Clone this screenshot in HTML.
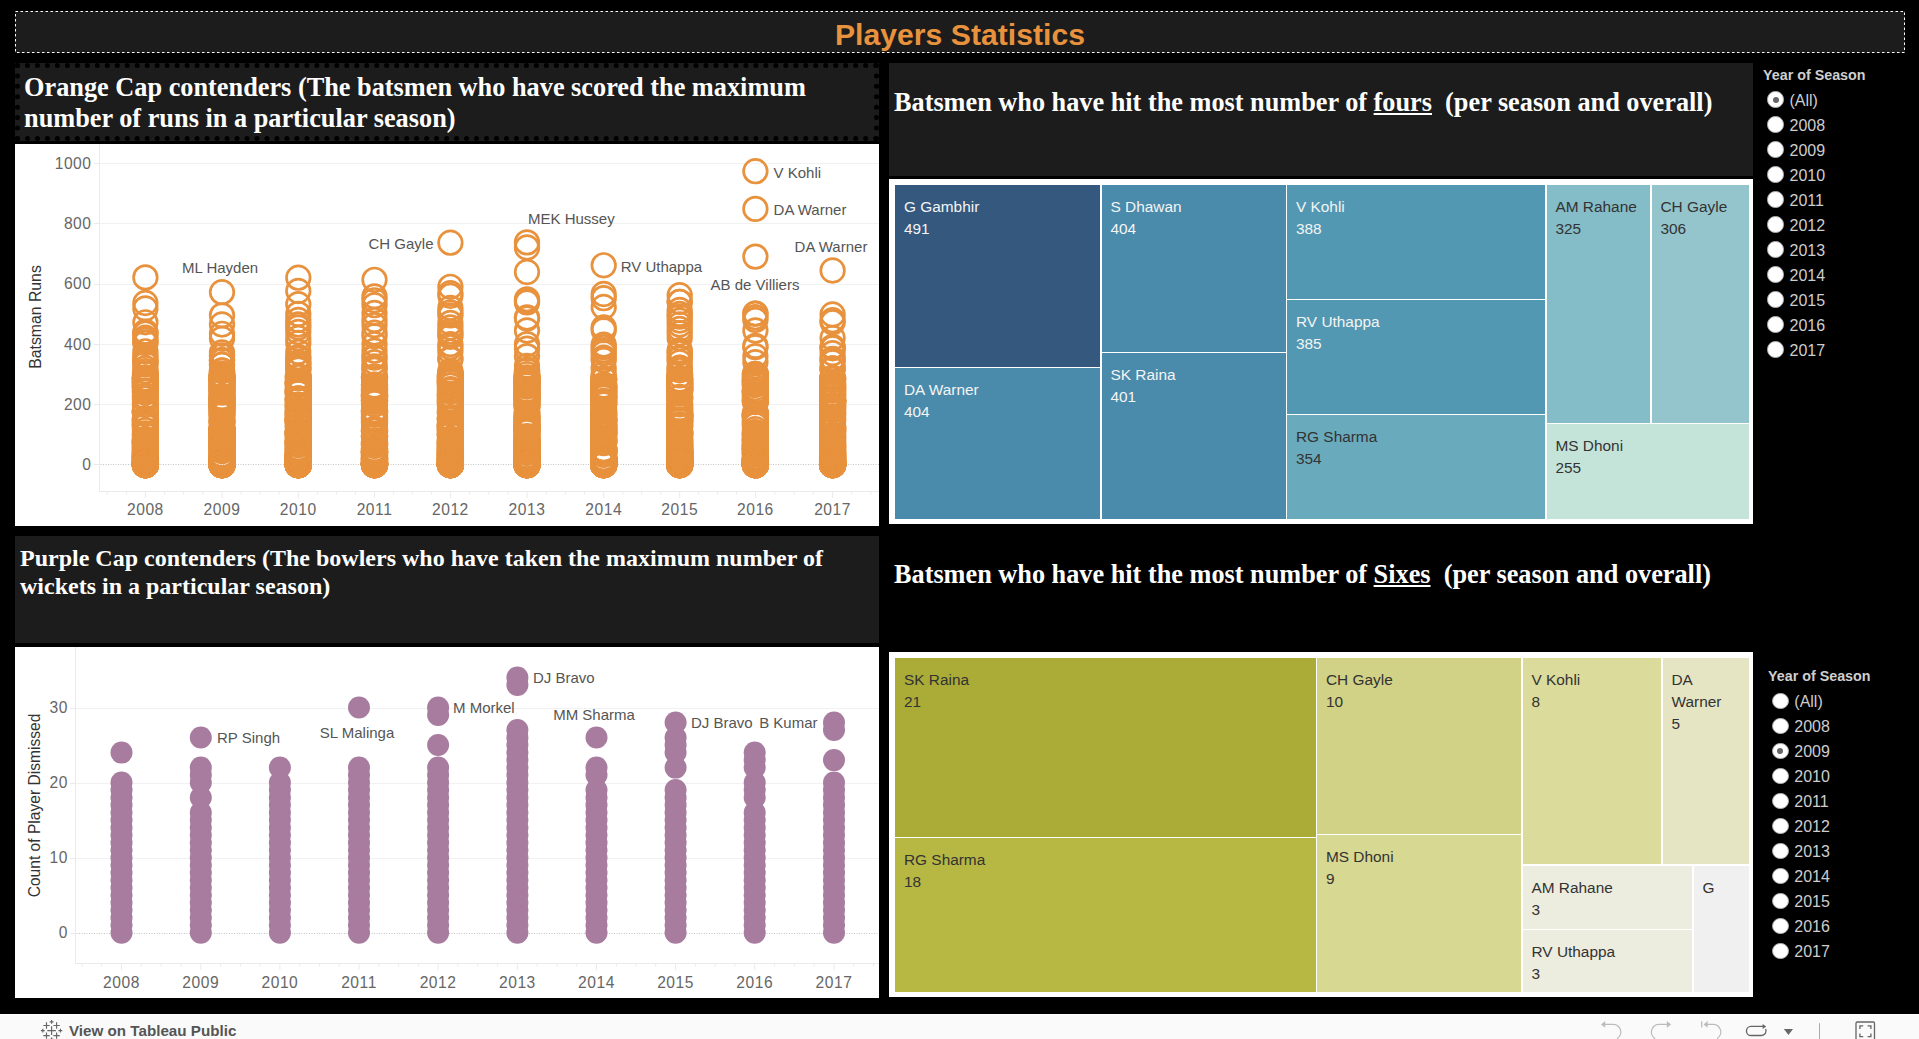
<!DOCTYPE html><html><head><meta charset="utf-8"><title>Players Statistics</title><style>
*{margin:0;padding:0;box-sizing:border-box}
html,body{width:1919px;height:1039px;overflow:hidden;background:#000}
body{position:relative;font-family:'Liberation Sans', sans-serif}
.abs{position:absolute}
.dk{background:#1c1c1c}
.wh{background:#fff}
.ttl{position:absolute;font-family:'Liberation Serif', serif;font-weight:bold;color:#fff;white-space:nowrap}
.tm{position:absolute;font-family:'Liberation Sans', sans-serif;font-size:15.4px;line-height:22px;padding:11px 0 0 9px;overflow:hidden}
.lt{color:#f4f4f4}
.dt{color:#333}
.flt{position:absolute;font-family:'Liberation Sans', sans-serif;color:#cdcdcd}
.flt .h{font-weight:bold;font-size:14.3px;color:#cfcfcf}
.flt .r{position:absolute;left:0;height:25px;font-size:16px;white-space:nowrap}
.flt .c{position:absolute;width:16.4px;height:16.4px;margin:-0.2px 0 0 -0.2px;border-radius:50%;background:#fff;border:1px solid #a8a8a8}
.flt .c.on::after{content:"";position:absolute;left:4.2px;top:4.2px;width:6px;height:6px;border-radius:50%;background:#666}
</style></head><body>
<div class="abs dk" style="left:15px;top:11px;width:1890px;height:42px"></div>
<svg class="abs" style="left:0;top:0" width="1919" height="60"><rect x="15.5" y="11.5" width="1889" height="41" fill="none" stroke="#fff" stroke-width="1" stroke-dasharray="2.5 2.5"/></svg>
<div class="abs" style="left:15px;top:13.5px;width:1890px;height:42px;text-align:center;font-family:'Liberation Sans', sans-serif;font-weight:bold;font-size:30.2px;line-height:42px;color:#e8923e">Players Statistics</div>
<div class="abs dk" style="left:15px;top:63px;width:864px;height:78px;border:5px dotted #000"></div>
<div class="ttl" style="left:24px;top:73px;font-size:26.3px;line-height:30.5px">Orange Cap contenders (The batsmen who have scored the maximum<br>number of runs in a particular season)</div>
<div class="abs wh" style="left:15px;top:144px;width:864px;height:382px"></div>
<svg class="abs" style="left:0;top:0" width="1919" height="1039" viewBox="0 0 1919 1039">
<line x1="99.5" y1="404.5" x2="879" y2="404.5" stroke="#f1f1f1" stroke-width="1"/>
<line x1="94" y1="404.5" x2="99.5" y2="404.5" stroke="#eaeaea" stroke-width="1"/>
<line x1="99.5" y1="344.5" x2="879" y2="344.5" stroke="#f1f1f1" stroke-width="1"/>
<line x1="94" y1="344.5" x2="99.5" y2="344.5" stroke="#eaeaea" stroke-width="1"/>
<line x1="99.5" y1="284.5" x2="879" y2="284.5" stroke="#f1f1f1" stroke-width="1"/>
<line x1="94" y1="284.5" x2="99.5" y2="284.5" stroke="#eaeaea" stroke-width="1"/>
<line x1="99.5" y1="223.5" x2="879" y2="223.5" stroke="#f1f1f1" stroke-width="1"/>
<line x1="94" y1="223.5" x2="99.5" y2="223.5" stroke="#eaeaea" stroke-width="1"/>
<line x1="99.5" y1="163.5" x2="879" y2="163.5" stroke="#f1f1f1" stroke-width="1"/>
<line x1="94" y1="163.5" x2="99.5" y2="163.5" stroke="#eaeaea" stroke-width="1"/>
<line x1="94" y1="464.5" x2="99.5" y2="464.5" stroke="#eaeaea" stroke-width="1"/>
<line x1="99.5" y1="144" x2="99.5" y2="491.5" stroke="#eaeaea" stroke-width="1"/>
<line x1="99.5" y1="491.5" x2="879" y2="491.5" stroke="#eaeaea" stroke-width="1"/>
<line x1="100.5" y1="464.5" x2="879" y2="464.5" stroke="#c4c4c4" stroke-width="1" stroke-dasharray="1 1.5"/>
<line x1="107.3" y1="492" x2="107.3" y2="494.5" stroke="#eaeaea" stroke-width="1"/>
<line x1="126.4" y1="492" x2="126.4" y2="494.5" stroke="#eaeaea" stroke-width="1"/>
<line x1="145.4" y1="492" x2="145.4" y2="498" stroke="#eaeaea" stroke-width="1"/>
<line x1="164.6" y1="492" x2="164.6" y2="494.5" stroke="#eaeaea" stroke-width="1"/>
<line x1="183.7" y1="492" x2="183.7" y2="494.5" stroke="#eaeaea" stroke-width="1"/>
<line x1="202.8" y1="492" x2="202.8" y2="494.5" stroke="#eaeaea" stroke-width="1"/>
<line x1="222.0" y1="492" x2="222.0" y2="498" stroke="#eaeaea" stroke-width="1"/>
<line x1="241.1" y1="492" x2="241.1" y2="494.5" stroke="#eaeaea" stroke-width="1"/>
<line x1="260.1" y1="492" x2="260.1" y2="494.5" stroke="#eaeaea" stroke-width="1"/>
<line x1="279.2" y1="492" x2="279.2" y2="494.5" stroke="#eaeaea" stroke-width="1"/>
<line x1="298.3" y1="492" x2="298.3" y2="498" stroke="#eaeaea" stroke-width="1"/>
<line x1="317.4" y1="492" x2="317.4" y2="494.5" stroke="#eaeaea" stroke-width="1"/>
<line x1="336.4" y1="492" x2="336.4" y2="494.5" stroke="#eaeaea" stroke-width="1"/>
<line x1="355.4" y1="492" x2="355.4" y2="494.5" stroke="#eaeaea" stroke-width="1"/>
<line x1="374.5" y1="492" x2="374.5" y2="498" stroke="#eaeaea" stroke-width="1"/>
<line x1="393.5" y1="492" x2="393.5" y2="494.5" stroke="#eaeaea" stroke-width="1"/>
<line x1="412.4" y1="492" x2="412.4" y2="494.5" stroke="#eaeaea" stroke-width="1"/>
<line x1="431.4" y1="492" x2="431.4" y2="494.5" stroke="#eaeaea" stroke-width="1"/>
<line x1="450.4" y1="492" x2="450.4" y2="498" stroke="#eaeaea" stroke-width="1"/>
<line x1="469.5" y1="492" x2="469.5" y2="494.5" stroke="#eaeaea" stroke-width="1"/>
<line x1="488.7" y1="492" x2="488.7" y2="494.5" stroke="#eaeaea" stroke-width="1"/>
<line x1="507.9" y1="492" x2="507.9" y2="494.5" stroke="#eaeaea" stroke-width="1"/>
<line x1="527.0" y1="492" x2="527.0" y2="498" stroke="#eaeaea" stroke-width="1"/>
<line x1="546.2" y1="492" x2="546.2" y2="494.5" stroke="#eaeaea" stroke-width="1"/>
<line x1="565.4" y1="492" x2="565.4" y2="494.5" stroke="#eaeaea" stroke-width="1"/>
<line x1="584.5" y1="492" x2="584.5" y2="494.5" stroke="#eaeaea" stroke-width="1"/>
<line x1="603.7" y1="492" x2="603.7" y2="498" stroke="#eaeaea" stroke-width="1"/>
<line x1="622.7" y1="492" x2="622.7" y2="494.5" stroke="#eaeaea" stroke-width="1"/>
<line x1="641.7" y1="492" x2="641.7" y2="494.5" stroke="#eaeaea" stroke-width="1"/>
<line x1="660.7" y1="492" x2="660.7" y2="494.5" stroke="#eaeaea" stroke-width="1"/>
<line x1="679.7" y1="492" x2="679.7" y2="498" stroke="#eaeaea" stroke-width="1"/>
<line x1="698.6" y1="492" x2="698.6" y2="494.5" stroke="#eaeaea" stroke-width="1"/>
<line x1="717.5" y1="492" x2="717.5" y2="494.5" stroke="#eaeaea" stroke-width="1"/>
<line x1="736.5" y1="492" x2="736.5" y2="494.5" stroke="#eaeaea" stroke-width="1"/>
<line x1="755.4" y1="492" x2="755.4" y2="498" stroke="#eaeaea" stroke-width="1"/>
<line x1="774.7" y1="492" x2="774.7" y2="494.5" stroke="#eaeaea" stroke-width="1"/>
<line x1="794.0" y1="492" x2="794.0" y2="494.5" stroke="#eaeaea" stroke-width="1"/>
<line x1="813.3" y1="492" x2="813.3" y2="494.5" stroke="#eaeaea" stroke-width="1"/>
<line x1="832.6" y1="492" x2="832.6" y2="498" stroke="#eaeaea" stroke-width="1"/>
<line x1="851.7" y1="492" x2="851.7" y2="494.5" stroke="#eaeaea" stroke-width="1"/>
<line x1="870.7" y1="492" x2="870.7" y2="494.5" stroke="#eaeaea" stroke-width="1"/>
<text x="91.3" y="470.3" text-anchor="end" font-family="'Liberation Sans', sans-serif" font-size="15.6" letter-spacing="0.45" fill="#666">0</text>
<text x="91.3" y="410.0" text-anchor="end" font-family="'Liberation Sans', sans-serif" font-size="15.6" letter-spacing="0.45" fill="#666">200</text>
<text x="91.3" y="349.7" text-anchor="end" font-family="'Liberation Sans', sans-serif" font-size="15.6" letter-spacing="0.45" fill="#666">400</text>
<text x="91.3" y="289.3" text-anchor="end" font-family="'Liberation Sans', sans-serif" font-size="15.6" letter-spacing="0.45" fill="#666">600</text>
<text x="91.3" y="229.0" text-anchor="end" font-family="'Liberation Sans', sans-serif" font-size="15.6" letter-spacing="0.45" fill="#666">800</text>
<text x="91.3" y="168.7" text-anchor="end" font-family="'Liberation Sans', sans-serif" font-size="15.6" letter-spacing="0.45" fill="#666">1000</text>
<text x="145.4" y="514.8" text-anchor="middle" font-family="'Liberation Sans', sans-serif" font-size="15.6" letter-spacing="0.55" fill="#666">2008</text>
<text x="222.0" y="514.8" text-anchor="middle" font-family="'Liberation Sans', sans-serif" font-size="15.6" letter-spacing="0.55" fill="#666">2009</text>
<text x="298.3" y="514.8" text-anchor="middle" font-family="'Liberation Sans', sans-serif" font-size="15.6" letter-spacing="0.55" fill="#666">2010</text>
<text x="374.5" y="514.8" text-anchor="middle" font-family="'Liberation Sans', sans-serif" font-size="15.6" letter-spacing="0.55" fill="#666">2011</text>
<text x="450.4" y="514.8" text-anchor="middle" font-family="'Liberation Sans', sans-serif" font-size="15.6" letter-spacing="0.55" fill="#666">2012</text>
<text x="527.0" y="514.8" text-anchor="middle" font-family="'Liberation Sans', sans-serif" font-size="15.6" letter-spacing="0.55" fill="#666">2013</text>
<text x="603.7" y="514.8" text-anchor="middle" font-family="'Liberation Sans', sans-serif" font-size="15.6" letter-spacing="0.55" fill="#666">2014</text>
<text x="679.7" y="514.8" text-anchor="middle" font-family="'Liberation Sans', sans-serif" font-size="15.6" letter-spacing="0.55" fill="#666">2015</text>
<text x="755.4" y="514.8" text-anchor="middle" font-family="'Liberation Sans', sans-serif" font-size="15.6" letter-spacing="0.55" fill="#666">2016</text>
<text x="832.6" y="514.8" text-anchor="middle" font-family="'Liberation Sans', sans-serif" font-size="15.6" letter-spacing="0.55" fill="#666">2017</text>
<text transform="translate(40.6 317) rotate(-90)" text-anchor="middle" font-family="'Liberation Sans', sans-serif" font-size="15.8" fill="#333">Batsman Runs</text>
<circle cx="145.4" cy="277.4" r="11.8" fill="none" stroke="#e8923e" stroke-width="2.7"/>
<circle cx="145.4" cy="303.0" r="11.8" fill="none" stroke="#e8923e" stroke-width="2.7"/>
<circle cx="145.4" cy="308.5" r="11.8" fill="none" stroke="#e8923e" stroke-width="2.7"/>
<circle cx="145.4" cy="322.3" r="11.8" fill="none" stroke="#e8923e" stroke-width="2.7"/>
<circle cx="145.4" cy="331.7" r="11.8" fill="none" stroke="#e8923e" stroke-width="2.7"/>
<circle cx="145.4" cy="333.2" r="11.8" fill="none" stroke="#e8923e" stroke-width="2.7"/>
<circle cx="145.4" cy="333.5" r="11.8" fill="none" stroke="#e8923e" stroke-width="2.7"/>
<circle cx="145.4" cy="337.7" r="11.8" fill="none" stroke="#e8923e" stroke-width="2.7"/>
<circle cx="145.4" cy="339.8" r="11.8" fill="none" stroke="#e8923e" stroke-width="2.7"/>
<circle cx="145.4" cy="342.3" r="11.8" fill="none" stroke="#e8923e" stroke-width="2.7"/>
<circle cx="145.4" cy="342.9" r="11.8" fill="none" stroke="#e8923e" stroke-width="2.7"/>
<circle cx="145.4" cy="351.3" r="11.8" fill="none" stroke="#e8923e" stroke-width="2.7"/>
<circle cx="145.4" cy="355.2" r="11.8" fill="none" stroke="#e8923e" stroke-width="2.7"/>
<circle cx="145.4" cy="357.9" r="11.8" fill="none" stroke="#e8923e" stroke-width="2.7"/>
<circle cx="145.4" cy="360.0" r="11.8" fill="none" stroke="#e8923e" stroke-width="2.7"/>
<circle cx="145.4" cy="361.9" r="11.8" fill="none" stroke="#e8923e" stroke-width="2.7"/>
<circle cx="145.4" cy="362.2" r="11.8" fill="none" stroke="#e8923e" stroke-width="2.7"/>
<circle cx="145.4" cy="364.0" r="11.8" fill="none" stroke="#e8923e" stroke-width="2.7"/>
<circle cx="145.4" cy="368.2" r="11.8" fill="none" stroke="#e8923e" stroke-width="2.7"/>
<circle cx="145.4" cy="371.2" r="11.8" fill="none" stroke="#e8923e" stroke-width="2.7"/>
<circle cx="145.4" cy="374.2" r="12.3" fill="none" stroke="#e8923e" stroke-width="2.7"/>
<circle cx="145.4" cy="378.1" r="12.3" fill="none" stroke="#e8923e" stroke-width="2.7"/>
<circle cx="145.4" cy="378.1" r="12.3" fill="none" stroke="#e8923e" stroke-width="2.7"/>
<circle cx="145.4" cy="378.4" r="12.3" fill="none" stroke="#e8923e" stroke-width="2.7"/>
<circle cx="145.4" cy="379.3" r="12.3" fill="none" stroke="#e8923e" stroke-width="2.7"/>
<circle cx="145.4" cy="380.3" r="12.3" fill="none" stroke="#e8923e" stroke-width="2.7"/>
<circle cx="145.4" cy="382.1" r="12.3" fill="none" stroke="#e8923e" stroke-width="2.7"/>
<circle cx="145.4" cy="382.4" r="12.3" fill="none" stroke="#e8923e" stroke-width="2.7"/>
<circle cx="145.4" cy="382.7" r="12.3" fill="none" stroke="#e8923e" stroke-width="2.7"/>
<circle cx="145.4" cy="384.8" r="12.3" fill="none" stroke="#e8923e" stroke-width="2.7"/>
<circle cx="145.4" cy="386.3" r="12.3" fill="none" stroke="#e8923e" stroke-width="2.7"/>
<circle cx="145.4" cy="386.6" r="12.3" fill="none" stroke="#e8923e" stroke-width="2.7"/>
<circle cx="145.4" cy="387.8" r="12.3" fill="none" stroke="#e8923e" stroke-width="2.7"/>
<circle cx="145.4" cy="390.8" r="12.3" fill="none" stroke="#e8923e" stroke-width="2.7"/>
<circle cx="145.4" cy="392.0" r="12.3" fill="none" stroke="#e8923e" stroke-width="2.7"/>
<circle cx="145.4" cy="395.9" r="12.3" fill="none" stroke="#e8923e" stroke-width="2.7"/>
<circle cx="145.4" cy="399.0" r="12.3" fill="none" stroke="#e8923e" stroke-width="2.7"/>
<circle cx="145.4" cy="404.4" r="12.3" fill="none" stroke="#e8923e" stroke-width="2.7"/>
<circle cx="145.4" cy="410.4" r="12.3" fill="none" stroke="#e8923e" stroke-width="2.7"/>
<circle cx="145.4" cy="411.6" r="12.3" fill="none" stroke="#e8923e" stroke-width="2.7"/>
<circle cx="145.4" cy="411.9" r="12.3" fill="none" stroke="#e8923e" stroke-width="2.7"/>
<circle cx="145.4" cy="412.5" r="12.3" fill="none" stroke="#e8923e" stroke-width="2.7"/>
<circle cx="145.4" cy="412.8" r="12.3" fill="none" stroke="#e8923e" stroke-width="2.7"/>
<circle cx="145.4" cy="418.6" r="12.3" fill="none" stroke="#e8923e" stroke-width="2.7"/>
<circle cx="145.4" cy="419.5" r="12.3" fill="none" stroke="#e8923e" stroke-width="2.7"/>
<circle cx="145.4" cy="420.7" r="12.3" fill="none" stroke="#e8923e" stroke-width="2.7"/>
<circle cx="145.4" cy="421.3" r="12.3" fill="none" stroke="#e8923e" stroke-width="2.7"/>
<circle cx="145.4" cy="423.7" r="12.3" fill="none" stroke="#e8923e" stroke-width="2.7"/>
<circle cx="145.4" cy="424.6" r="12.3" fill="none" stroke="#e8923e" stroke-width="2.7"/>
<circle cx="145.4" cy="425.5" r="12.3" fill="none" stroke="#e8923e" stroke-width="2.7"/>
<circle cx="145.4" cy="426.7" r="12.3" fill="none" stroke="#e8923e" stroke-width="2.7"/>
<circle cx="145.4" cy="430.6" r="12.3" fill="none" stroke="#e8923e" stroke-width="2.7"/>
<circle cx="145.4" cy="433.9" r="12.3" fill="none" stroke="#e8923e" stroke-width="2.7"/>
<circle cx="145.4" cy="435.7" r="12.3" fill="none" stroke="#e8923e" stroke-width="2.7"/>
<circle cx="145.4" cy="439.4" r="12.3" fill="none" stroke="#e8923e" stroke-width="2.7"/>
<circle cx="145.4" cy="440.3" r="12.3" fill="none" stroke="#e8923e" stroke-width="2.7"/>
<circle cx="145.4" cy="441.5" r="12.3" fill="none" stroke="#e8923e" stroke-width="2.7"/>
<circle cx="145.4" cy="441.8" r="12.3" fill="none" stroke="#e8923e" stroke-width="2.7"/>
<circle cx="145.4" cy="441.8" r="12.3" fill="none" stroke="#e8923e" stroke-width="2.7"/>
<circle cx="145.4" cy="443.0" r="12.3" fill="none" stroke="#e8923e" stroke-width="2.7"/>
<circle cx="145.4" cy="443.0" r="12.3" fill="none" stroke="#e8923e" stroke-width="2.7"/>
<circle cx="145.4" cy="444.5" r="12.3" fill="none" stroke="#e8923e" stroke-width="2.7"/>
<circle cx="145.4" cy="445.7" r="12.3" fill="none" stroke="#e8923e" stroke-width="2.7"/>
<circle cx="145.4" cy="447.2" r="12.3" fill="none" stroke="#e8923e" stroke-width="2.7"/>
<circle cx="145.4" cy="447.5" r="12.3" fill="none" stroke="#e8923e" stroke-width="2.7"/>
<circle cx="145.4" cy="449.6" r="12.3" fill="none" stroke="#e8923e" stroke-width="2.7"/>
<circle cx="145.4" cy="449.6" r="12.3" fill="none" stroke="#e8923e" stroke-width="2.7"/>
<circle cx="145.4" cy="452.0" r="12.3" fill="none" stroke="#e8923e" stroke-width="2.7"/>
<circle cx="145.4" cy="452.6" r="12.3" fill="none" stroke="#e8923e" stroke-width="2.7"/>
<circle cx="145.4" cy="453.2" r="12.3" fill="none" stroke="#e8923e" stroke-width="2.7"/>
<circle cx="145.4" cy="453.5" r="12.3" fill="none" stroke="#e8923e" stroke-width="2.7"/>
<circle cx="145.4" cy="453.8" r="12.3" fill="none" stroke="#e8923e" stroke-width="2.7"/>
<circle cx="145.4" cy="455.7" r="12.3" fill="none" stroke="#e8923e" stroke-width="2.7"/>
<circle cx="145.4" cy="456.0" r="12.3" fill="none" stroke="#e8923e" stroke-width="2.7"/>
<circle cx="145.4" cy="456.3" r="12.3" fill="none" stroke="#e8923e" stroke-width="2.7"/>
<circle cx="145.4" cy="456.6" r="12.3" fill="none" stroke="#e8923e" stroke-width="2.7"/>
<circle cx="145.4" cy="456.9" r="12.3" fill="none" stroke="#e8923e" stroke-width="2.7"/>
<circle cx="145.4" cy="457.2" r="12.3" fill="none" stroke="#e8923e" stroke-width="2.7"/>
<circle cx="145.4" cy="457.5" r="12.3" fill="none" stroke="#e8923e" stroke-width="2.7"/>
<circle cx="145.4" cy="458.4" r="12.3" fill="none" stroke="#e8923e" stroke-width="2.7"/>
<circle cx="145.4" cy="459.3" r="12.3" fill="none" stroke="#e8923e" stroke-width="2.7"/>
<circle cx="145.4" cy="459.3" r="12.3" fill="none" stroke="#e8923e" stroke-width="2.7"/>
<circle cx="145.4" cy="459.6" r="12.3" fill="none" stroke="#e8923e" stroke-width="2.7"/>
<circle cx="145.4" cy="459.9" r="12.3" fill="none" stroke="#e8923e" stroke-width="2.7"/>
<circle cx="145.4" cy="461.7" r="12.3" fill="none" stroke="#e8923e" stroke-width="2.7"/>
<circle cx="145.4" cy="461.7" r="12.3" fill="none" stroke="#e8923e" stroke-width="2.7"/>
<circle cx="145.4" cy="462.0" r="12.3" fill="none" stroke="#e8923e" stroke-width="2.7"/>
<circle cx="145.4" cy="462.3" r="12.3" fill="none" stroke="#e8923e" stroke-width="2.7"/>
<circle cx="145.4" cy="462.3" r="12.3" fill="none" stroke="#e8923e" stroke-width="2.7"/>
<circle cx="145.4" cy="462.6" r="12.3" fill="none" stroke="#e8923e" stroke-width="2.7"/>
<circle cx="145.4" cy="462.6" r="12.3" fill="none" stroke="#e8923e" stroke-width="2.7"/>
<circle cx="145.4" cy="462.9" r="12.3" fill="none" stroke="#e8923e" stroke-width="2.7"/>
<circle cx="145.4" cy="463.2" r="12.3" fill="none" stroke="#e8923e" stroke-width="2.7"/>
<circle cx="145.4" cy="463.2" r="12.3" fill="none" stroke="#e8923e" stroke-width="2.7"/>
<circle cx="145.4" cy="463.5" r="12.3" fill="none" stroke="#e8923e" stroke-width="2.7"/>
<circle cx="145.4" cy="463.5" r="12.3" fill="none" stroke="#e8923e" stroke-width="2.7"/>
<circle cx="145.4" cy="463.5" r="12.3" fill="none" stroke="#e8923e" stroke-width="2.7"/>
<circle cx="145.4" cy="463.5" r="12.3" fill="none" stroke="#e8923e" stroke-width="2.7"/>
<circle cx="145.4" cy="463.8" r="12.3" fill="none" stroke="#e8923e" stroke-width="2.7"/>
<circle cx="145.4" cy="464.1" r="12.3" fill="none" stroke="#e8923e" stroke-width="2.7"/>
<circle cx="145.4" cy="464.1" r="12.3" fill="none" stroke="#e8923e" stroke-width="2.7"/>
<circle cx="145.4" cy="464.1" r="12.3" fill="none" stroke="#e8923e" stroke-width="2.7"/>
<circle cx="145.4" cy="464.1" r="12.3" fill="none" stroke="#e8923e" stroke-width="2.7"/>
<circle cx="145.4" cy="464.1" r="12.3" fill="none" stroke="#e8923e" stroke-width="2.7"/>
<circle cx="145.4" cy="464.4" r="12.3" fill="none" stroke="#e8923e" stroke-width="2.7"/>
<circle cx="145.4" cy="464.4" r="12.3" fill="none" stroke="#e8923e" stroke-width="2.7"/>
<circle cx="145.4" cy="464.4" r="12.3" fill="none" stroke="#e8923e" stroke-width="2.7"/>
<circle cx="145.4" cy="464.4" r="12.3" fill="none" stroke="#e8923e" stroke-width="2.7"/>
<circle cx="145.4" cy="464.7" r="12.3" fill="none" stroke="#e8923e" stroke-width="2.7"/>
<circle cx="145.4" cy="464.7" r="12.3" fill="none" stroke="#e8923e" stroke-width="2.7"/>
<circle cx="145.4" cy="464.7" r="12.3" fill="none" stroke="#e8923e" stroke-width="2.7"/>
<circle cx="145.4" cy="464.7" r="12.3" fill="none" stroke="#e8923e" stroke-width="2.7"/>
<circle cx="145.4" cy="464.7" r="12.3" fill="none" stroke="#e8923e" stroke-width="2.7"/>
<circle cx="145.4" cy="464.7" r="12.3" fill="none" stroke="#e8923e" stroke-width="2.7"/>
<circle cx="145.4" cy="464.7" r="12.3" fill="none" stroke="#e8923e" stroke-width="2.7"/>
<circle cx="145.4" cy="464.7" r="12.3" fill="none" stroke="#e8923e" stroke-width="2.7"/>
<circle cx="145.4" cy="464.7" r="12.3" fill="none" stroke="#e8923e" stroke-width="2.7"/>
<circle cx="145.4" cy="464.7" r="12.3" fill="none" stroke="#e8923e" stroke-width="2.7"/>
<circle cx="145.4" cy="464.7" r="12.3" fill="none" stroke="#e8923e" stroke-width="2.7"/>
<circle cx="145.4" cy="464.7" r="12.3" fill="none" stroke="#e8923e" stroke-width="2.7"/>
<circle cx="145.4" cy="464.7" r="12.3" fill="none" stroke="#e8923e" stroke-width="2.7"/>
<circle cx="145.4" cy="464.7" r="12.3" fill="none" stroke="#e8923e" stroke-width="2.7"/>
<circle cx="145.4" cy="464.7" r="12.3" fill="none" stroke="#e8923e" stroke-width="2.7"/>
<circle cx="145.4" cy="464.7" r="12.3" fill="none" stroke="#e8923e" stroke-width="2.7"/>
<circle cx="145.4" cy="464.7" r="12.3" fill="none" stroke="#e8923e" stroke-width="2.7"/>
<circle cx="145.4" cy="464.7" r="12.3" fill="none" stroke="#e8923e" stroke-width="2.7"/>
<circle cx="222.0" cy="292.2" r="11.8" fill="none" stroke="#e8923e" stroke-width="2.7"/>
<circle cx="222.0" cy="315.4" r="11.8" fill="none" stroke="#e8923e" stroke-width="2.7"/>
<circle cx="222.0" cy="324.5" r="11.8" fill="none" stroke="#e8923e" stroke-width="2.7"/>
<circle cx="222.0" cy="333.8" r="11.8" fill="none" stroke="#e8923e" stroke-width="2.7"/>
<circle cx="222.0" cy="338.6" r="11.8" fill="none" stroke="#e8923e" stroke-width="2.7"/>
<circle cx="222.0" cy="352.5" r="11.8" fill="none" stroke="#e8923e" stroke-width="2.7"/>
<circle cx="222.0" cy="355.5" r="11.8" fill="none" stroke="#e8923e" stroke-width="2.7"/>
<circle cx="222.0" cy="355.8" r="11.8" fill="none" stroke="#e8923e" stroke-width="2.7"/>
<circle cx="222.0" cy="360.0" r="11.8" fill="none" stroke="#e8923e" stroke-width="2.7"/>
<circle cx="222.0" cy="360.3" r="11.8" fill="none" stroke="#e8923e" stroke-width="2.7"/>
<circle cx="222.0" cy="360.9" r="11.8" fill="none" stroke="#e8923e" stroke-width="2.7"/>
<circle cx="222.0" cy="364.6" r="11.8" fill="none" stroke="#e8923e" stroke-width="2.7"/>
<circle cx="222.0" cy="364.6" r="11.8" fill="none" stroke="#e8923e" stroke-width="2.7"/>
<circle cx="222.0" cy="370.3" r="11.8" fill="none" stroke="#e8923e" stroke-width="2.7"/>
<circle cx="222.0" cy="370.6" r="11.8" fill="none" stroke="#e8923e" stroke-width="2.7"/>
<circle cx="222.0" cy="374.2" r="12.3" fill="none" stroke="#e8923e" stroke-width="2.7"/>
<circle cx="222.0" cy="377.2" r="12.3" fill="none" stroke="#e8923e" stroke-width="2.7"/>
<circle cx="222.0" cy="377.5" r="12.3" fill="none" stroke="#e8923e" stroke-width="2.7"/>
<circle cx="222.0" cy="378.1" r="12.3" fill="none" stroke="#e8923e" stroke-width="2.7"/>
<circle cx="222.0" cy="379.0" r="12.3" fill="none" stroke="#e8923e" stroke-width="2.7"/>
<circle cx="222.0" cy="380.0" r="12.3" fill="none" stroke="#e8923e" stroke-width="2.7"/>
<circle cx="222.0" cy="380.3" r="12.3" fill="none" stroke="#e8923e" stroke-width="2.7"/>
<circle cx="222.0" cy="382.4" r="12.3" fill="none" stroke="#e8923e" stroke-width="2.7"/>
<circle cx="222.0" cy="384.8" r="12.3" fill="none" stroke="#e8923e" stroke-width="2.7"/>
<circle cx="222.0" cy="386.9" r="12.3" fill="none" stroke="#e8923e" stroke-width="2.7"/>
<circle cx="222.0" cy="386.9" r="12.3" fill="none" stroke="#e8923e" stroke-width="2.7"/>
<circle cx="222.0" cy="389.9" r="12.3" fill="none" stroke="#e8923e" stroke-width="2.7"/>
<circle cx="222.0" cy="390.2" r="12.3" fill="none" stroke="#e8923e" stroke-width="2.7"/>
<circle cx="222.0" cy="392.0" r="12.3" fill="none" stroke="#e8923e" stroke-width="2.7"/>
<circle cx="222.0" cy="396.5" r="12.3" fill="none" stroke="#e8923e" stroke-width="2.7"/>
<circle cx="222.0" cy="397.4" r="12.3" fill="none" stroke="#e8923e" stroke-width="2.7"/>
<circle cx="222.0" cy="397.7" r="12.3" fill="none" stroke="#e8923e" stroke-width="2.7"/>
<circle cx="222.0" cy="399.0" r="12.3" fill="none" stroke="#e8923e" stroke-width="2.7"/>
<circle cx="222.0" cy="401.1" r="12.3" fill="none" stroke="#e8923e" stroke-width="2.7"/>
<circle cx="222.0" cy="401.1" r="12.3" fill="none" stroke="#e8923e" stroke-width="2.7"/>
<circle cx="222.0" cy="402.9" r="12.3" fill="none" stroke="#e8923e" stroke-width="2.7"/>
<circle cx="222.0" cy="404.7" r="12.3" fill="none" stroke="#e8923e" stroke-width="2.7"/>
<circle cx="222.0" cy="405.3" r="12.3" fill="none" stroke="#e8923e" stroke-width="2.7"/>
<circle cx="222.0" cy="407.1" r="12.3" fill="none" stroke="#e8923e" stroke-width="2.7"/>
<circle cx="222.0" cy="408.6" r="12.3" fill="none" stroke="#e8923e" stroke-width="2.7"/>
<circle cx="222.0" cy="410.7" r="12.3" fill="none" stroke="#e8923e" stroke-width="2.7"/>
<circle cx="222.0" cy="413.4" r="12.3" fill="none" stroke="#e8923e" stroke-width="2.7"/>
<circle cx="222.0" cy="415.8" r="12.3" fill="none" stroke="#e8923e" stroke-width="2.7"/>
<circle cx="222.0" cy="421.3" r="12.3" fill="none" stroke="#e8923e" stroke-width="2.7"/>
<circle cx="222.0" cy="421.6" r="12.3" fill="none" stroke="#e8923e" stroke-width="2.7"/>
<circle cx="222.0" cy="427.9" r="12.3" fill="none" stroke="#e8923e" stroke-width="2.7"/>
<circle cx="222.0" cy="429.4" r="12.3" fill="none" stroke="#e8923e" stroke-width="2.7"/>
<circle cx="222.0" cy="429.7" r="12.3" fill="none" stroke="#e8923e" stroke-width="2.7"/>
<circle cx="222.0" cy="429.7" r="12.3" fill="none" stroke="#e8923e" stroke-width="2.7"/>
<circle cx="222.0" cy="430.0" r="12.3" fill="none" stroke="#e8923e" stroke-width="2.7"/>
<circle cx="222.0" cy="430.6" r="12.3" fill="none" stroke="#e8923e" stroke-width="2.7"/>
<circle cx="222.0" cy="431.2" r="12.3" fill="none" stroke="#e8923e" stroke-width="2.7"/>
<circle cx="222.0" cy="432.1" r="12.3" fill="none" stroke="#e8923e" stroke-width="2.7"/>
<circle cx="222.0" cy="434.2" r="12.3" fill="none" stroke="#e8923e" stroke-width="2.7"/>
<circle cx="222.0" cy="434.2" r="12.3" fill="none" stroke="#e8923e" stroke-width="2.7"/>
<circle cx="222.0" cy="434.8" r="12.3" fill="none" stroke="#e8923e" stroke-width="2.7"/>
<circle cx="222.0" cy="435.1" r="12.3" fill="none" stroke="#e8923e" stroke-width="2.7"/>
<circle cx="222.0" cy="436.0" r="12.3" fill="none" stroke="#e8923e" stroke-width="2.7"/>
<circle cx="222.0" cy="436.7" r="12.3" fill="none" stroke="#e8923e" stroke-width="2.7"/>
<circle cx="222.0" cy="437.6" r="12.3" fill="none" stroke="#e8923e" stroke-width="2.7"/>
<circle cx="222.0" cy="440.0" r="12.3" fill="none" stroke="#e8923e" stroke-width="2.7"/>
<circle cx="222.0" cy="442.1" r="12.3" fill="none" stroke="#e8923e" stroke-width="2.7"/>
<circle cx="222.0" cy="442.4" r="12.3" fill="none" stroke="#e8923e" stroke-width="2.7"/>
<circle cx="222.0" cy="443.6" r="12.3" fill="none" stroke="#e8923e" stroke-width="2.7"/>
<circle cx="222.0" cy="444.5" r="12.3" fill="none" stroke="#e8923e" stroke-width="2.7"/>
<circle cx="222.0" cy="444.5" r="12.3" fill="none" stroke="#e8923e" stroke-width="2.7"/>
<circle cx="222.0" cy="445.1" r="12.3" fill="none" stroke="#e8923e" stroke-width="2.7"/>
<circle cx="222.0" cy="445.7" r="12.3" fill="none" stroke="#e8923e" stroke-width="2.7"/>
<circle cx="222.0" cy="445.7" r="12.3" fill="none" stroke="#e8923e" stroke-width="2.7"/>
<circle cx="222.0" cy="446.3" r="12.3" fill="none" stroke="#e8923e" stroke-width="2.7"/>
<circle cx="222.0" cy="447.5" r="12.3" fill="none" stroke="#e8923e" stroke-width="2.7"/>
<circle cx="222.0" cy="447.5" r="12.3" fill="none" stroke="#e8923e" stroke-width="2.7"/>
<circle cx="222.0" cy="447.8" r="12.3" fill="none" stroke="#e8923e" stroke-width="2.7"/>
<circle cx="222.0" cy="448.4" r="12.3" fill="none" stroke="#e8923e" stroke-width="2.7"/>
<circle cx="222.0" cy="448.4" r="12.3" fill="none" stroke="#e8923e" stroke-width="2.7"/>
<circle cx="222.0" cy="449.6" r="12.3" fill="none" stroke="#e8923e" stroke-width="2.7"/>
<circle cx="222.0" cy="450.5" r="12.3" fill="none" stroke="#e8923e" stroke-width="2.7"/>
<circle cx="222.0" cy="454.1" r="12.3" fill="none" stroke="#e8923e" stroke-width="2.7"/>
<circle cx="222.0" cy="455.0" r="12.3" fill="none" stroke="#e8923e" stroke-width="2.7"/>
<circle cx="222.0" cy="455.0" r="12.3" fill="none" stroke="#e8923e" stroke-width="2.7"/>
<circle cx="222.0" cy="457.2" r="12.3" fill="none" stroke="#e8923e" stroke-width="2.7"/>
<circle cx="222.0" cy="457.5" r="12.3" fill="none" stroke="#e8923e" stroke-width="2.7"/>
<circle cx="222.0" cy="458.4" r="12.3" fill="none" stroke="#e8923e" stroke-width="2.7"/>
<circle cx="222.0" cy="458.4" r="12.3" fill="none" stroke="#e8923e" stroke-width="2.7"/>
<circle cx="222.0" cy="459.9" r="12.3" fill="none" stroke="#e8923e" stroke-width="2.7"/>
<circle cx="222.0" cy="459.9" r="12.3" fill="none" stroke="#e8923e" stroke-width="2.7"/>
<circle cx="222.0" cy="460.5" r="12.3" fill="none" stroke="#e8923e" stroke-width="2.7"/>
<circle cx="222.0" cy="460.8" r="12.3" fill="none" stroke="#e8923e" stroke-width="2.7"/>
<circle cx="222.0" cy="461.1" r="12.3" fill="none" stroke="#e8923e" stroke-width="2.7"/>
<circle cx="222.0" cy="462.0" r="12.3" fill="none" stroke="#e8923e" stroke-width="2.7"/>
<circle cx="222.0" cy="462.6" r="12.3" fill="none" stroke="#e8923e" stroke-width="2.7"/>
<circle cx="222.0" cy="462.6" r="12.3" fill="none" stroke="#e8923e" stroke-width="2.7"/>
<circle cx="222.0" cy="462.9" r="12.3" fill="none" stroke="#e8923e" stroke-width="2.7"/>
<circle cx="222.0" cy="463.2" r="12.3" fill="none" stroke="#e8923e" stroke-width="2.7"/>
<circle cx="222.0" cy="463.5" r="12.3" fill="none" stroke="#e8923e" stroke-width="2.7"/>
<circle cx="222.0" cy="463.5" r="12.3" fill="none" stroke="#e8923e" stroke-width="2.7"/>
<circle cx="222.0" cy="463.5" r="12.3" fill="none" stroke="#e8923e" stroke-width="2.7"/>
<circle cx="222.0" cy="463.8" r="12.3" fill="none" stroke="#e8923e" stroke-width="2.7"/>
<circle cx="222.0" cy="463.8" r="12.3" fill="none" stroke="#e8923e" stroke-width="2.7"/>
<circle cx="222.0" cy="463.8" r="12.3" fill="none" stroke="#e8923e" stroke-width="2.7"/>
<circle cx="222.0" cy="464.1" r="12.3" fill="none" stroke="#e8923e" stroke-width="2.7"/>
<circle cx="222.0" cy="464.1" r="12.3" fill="none" stroke="#e8923e" stroke-width="2.7"/>
<circle cx="222.0" cy="464.1" r="12.3" fill="none" stroke="#e8923e" stroke-width="2.7"/>
<circle cx="222.0" cy="464.4" r="12.3" fill="none" stroke="#e8923e" stroke-width="2.7"/>
<circle cx="222.0" cy="464.4" r="12.3" fill="none" stroke="#e8923e" stroke-width="2.7"/>
<circle cx="222.0" cy="464.4" r="12.3" fill="none" stroke="#e8923e" stroke-width="2.7"/>
<circle cx="222.0" cy="464.4" r="12.3" fill="none" stroke="#e8923e" stroke-width="2.7"/>
<circle cx="222.0" cy="464.7" r="12.3" fill="none" stroke="#e8923e" stroke-width="2.7"/>
<circle cx="222.0" cy="464.7" r="12.3" fill="none" stroke="#e8923e" stroke-width="2.7"/>
<circle cx="222.0" cy="464.7" r="12.3" fill="none" stroke="#e8923e" stroke-width="2.7"/>
<circle cx="222.0" cy="464.7" r="12.3" fill="none" stroke="#e8923e" stroke-width="2.7"/>
<circle cx="222.0" cy="464.7" r="12.3" fill="none" stroke="#e8923e" stroke-width="2.7"/>
<circle cx="222.0" cy="464.7" r="12.3" fill="none" stroke="#e8923e" stroke-width="2.7"/>
<circle cx="222.0" cy="464.7" r="12.3" fill="none" stroke="#e8923e" stroke-width="2.7"/>
<circle cx="222.0" cy="464.7" r="12.3" fill="none" stroke="#e8923e" stroke-width="2.7"/>
<circle cx="222.0" cy="464.7" r="12.3" fill="none" stroke="#e8923e" stroke-width="2.7"/>
<circle cx="222.0" cy="464.7" r="12.3" fill="none" stroke="#e8923e" stroke-width="2.7"/>
<circle cx="222.0" cy="464.7" r="12.3" fill="none" stroke="#e8923e" stroke-width="2.7"/>
<circle cx="222.0" cy="464.7" r="12.3" fill="none" stroke="#e8923e" stroke-width="2.7"/>
<circle cx="222.0" cy="464.7" r="12.3" fill="none" stroke="#e8923e" stroke-width="2.7"/>
<circle cx="222.0" cy="464.7" r="12.3" fill="none" stroke="#e8923e" stroke-width="2.7"/>
<circle cx="222.0" cy="464.7" r="12.3" fill="none" stroke="#e8923e" stroke-width="2.7"/>
<circle cx="298.3" cy="277.7" r="11.8" fill="none" stroke="#e8923e" stroke-width="2.7"/>
<circle cx="298.3" cy="291.0" r="11.8" fill="none" stroke="#e8923e" stroke-width="2.7"/>
<circle cx="298.3" cy="304.2" r="11.8" fill="none" stroke="#e8923e" stroke-width="2.7"/>
<circle cx="298.3" cy="313.9" r="11.8" fill="none" stroke="#e8923e" stroke-width="2.7"/>
<circle cx="298.3" cy="319.9" r="11.8" fill="none" stroke="#e8923e" stroke-width="2.7"/>
<circle cx="298.3" cy="324.5" r="11.8" fill="none" stroke="#e8923e" stroke-width="2.7"/>
<circle cx="298.3" cy="327.5" r="11.8" fill="none" stroke="#e8923e" stroke-width="2.7"/>
<circle cx="298.3" cy="332.0" r="11.8" fill="none" stroke="#e8923e" stroke-width="2.7"/>
<circle cx="298.3" cy="338.0" r="11.8" fill="none" stroke="#e8923e" stroke-width="2.7"/>
<circle cx="298.3" cy="342.9" r="11.8" fill="none" stroke="#e8923e" stroke-width="2.7"/>
<circle cx="298.3" cy="351.9" r="11.8" fill="none" stroke="#e8923e" stroke-width="2.7"/>
<circle cx="298.3" cy="357.0" r="11.8" fill="none" stroke="#e8923e" stroke-width="2.7"/>
<circle cx="298.3" cy="358.5" r="11.8" fill="none" stroke="#e8923e" stroke-width="2.7"/>
<circle cx="298.3" cy="362.2" r="11.8" fill="none" stroke="#e8923e" stroke-width="2.7"/>
<circle cx="298.3" cy="363.1" r="11.8" fill="none" stroke="#e8923e" stroke-width="2.7"/>
<circle cx="298.3" cy="365.2" r="11.8" fill="none" stroke="#e8923e" stroke-width="2.7"/>
<circle cx="298.3" cy="367.9" r="11.8" fill="none" stroke="#e8923e" stroke-width="2.7"/>
<circle cx="298.3" cy="369.1" r="11.8" fill="none" stroke="#e8923e" stroke-width="2.7"/>
<circle cx="298.3" cy="369.4" r="11.8" fill="none" stroke="#e8923e" stroke-width="2.7"/>
<circle cx="298.3" cy="376.6" r="12.3" fill="none" stroke="#e8923e" stroke-width="2.7"/>
<circle cx="298.3" cy="377.8" r="12.3" fill="none" stroke="#e8923e" stroke-width="2.7"/>
<circle cx="298.3" cy="382.1" r="12.3" fill="none" stroke="#e8923e" stroke-width="2.7"/>
<circle cx="298.3" cy="382.4" r="12.3" fill="none" stroke="#e8923e" stroke-width="2.7"/>
<circle cx="298.3" cy="383.3" r="12.3" fill="none" stroke="#e8923e" stroke-width="2.7"/>
<circle cx="298.3" cy="384.5" r="12.3" fill="none" stroke="#e8923e" stroke-width="2.7"/>
<circle cx="298.3" cy="387.8" r="12.3" fill="none" stroke="#e8923e" stroke-width="2.7"/>
<circle cx="298.3" cy="389.9" r="12.3" fill="none" stroke="#e8923e" stroke-width="2.7"/>
<circle cx="298.3" cy="391.1" r="12.3" fill="none" stroke="#e8923e" stroke-width="2.7"/>
<circle cx="298.3" cy="392.3" r="12.3" fill="none" stroke="#e8923e" stroke-width="2.7"/>
<circle cx="298.3" cy="392.6" r="12.3" fill="none" stroke="#e8923e" stroke-width="2.7"/>
<circle cx="298.3" cy="393.8" r="12.3" fill="none" stroke="#e8923e" stroke-width="2.7"/>
<circle cx="298.3" cy="399.0" r="12.3" fill="none" stroke="#e8923e" stroke-width="2.7"/>
<circle cx="298.3" cy="399.0" r="12.3" fill="none" stroke="#e8923e" stroke-width="2.7"/>
<circle cx="298.3" cy="399.9" r="12.3" fill="none" stroke="#e8923e" stroke-width="2.7"/>
<circle cx="298.3" cy="401.1" r="12.3" fill="none" stroke="#e8923e" stroke-width="2.7"/>
<circle cx="298.3" cy="405.3" r="12.3" fill="none" stroke="#e8923e" stroke-width="2.7"/>
<circle cx="298.3" cy="405.3" r="12.3" fill="none" stroke="#e8923e" stroke-width="2.7"/>
<circle cx="298.3" cy="406.8" r="12.3" fill="none" stroke="#e8923e" stroke-width="2.7"/>
<circle cx="298.3" cy="410.1" r="12.3" fill="none" stroke="#e8923e" stroke-width="2.7"/>
<circle cx="298.3" cy="411.3" r="12.3" fill="none" stroke="#e8923e" stroke-width="2.7"/>
<circle cx="298.3" cy="413.1" r="12.3" fill="none" stroke="#e8923e" stroke-width="2.7"/>
<circle cx="298.3" cy="413.4" r="12.3" fill="none" stroke="#e8923e" stroke-width="2.7"/>
<circle cx="298.3" cy="414.9" r="12.3" fill="none" stroke="#e8923e" stroke-width="2.7"/>
<circle cx="298.3" cy="417.0" r="12.3" fill="none" stroke="#e8923e" stroke-width="2.7"/>
<circle cx="298.3" cy="418.6" r="12.3" fill="none" stroke="#e8923e" stroke-width="2.7"/>
<circle cx="298.3" cy="418.9" r="12.3" fill="none" stroke="#e8923e" stroke-width="2.7"/>
<circle cx="298.3" cy="420.1" r="12.3" fill="none" stroke="#e8923e" stroke-width="2.7"/>
<circle cx="298.3" cy="420.7" r="12.3" fill="none" stroke="#e8923e" stroke-width="2.7"/>
<circle cx="298.3" cy="421.3" r="12.3" fill="none" stroke="#e8923e" stroke-width="2.7"/>
<circle cx="298.3" cy="421.6" r="12.3" fill="none" stroke="#e8923e" stroke-width="2.7"/>
<circle cx="298.3" cy="421.6" r="12.3" fill="none" stroke="#e8923e" stroke-width="2.7"/>
<circle cx="298.3" cy="425.2" r="12.3" fill="none" stroke="#e8923e" stroke-width="2.7"/>
<circle cx="298.3" cy="427.0" r="12.3" fill="none" stroke="#e8923e" stroke-width="2.7"/>
<circle cx="298.3" cy="431.8" r="12.3" fill="none" stroke="#e8923e" stroke-width="2.7"/>
<circle cx="298.3" cy="431.8" r="12.3" fill="none" stroke="#e8923e" stroke-width="2.7"/>
<circle cx="298.3" cy="432.4" r="12.3" fill="none" stroke="#e8923e" stroke-width="2.7"/>
<circle cx="298.3" cy="433.0" r="12.3" fill="none" stroke="#e8923e" stroke-width="2.7"/>
<circle cx="298.3" cy="433.3" r="12.3" fill="none" stroke="#e8923e" stroke-width="2.7"/>
<circle cx="298.3" cy="433.6" r="12.3" fill="none" stroke="#e8923e" stroke-width="2.7"/>
<circle cx="298.3" cy="435.1" r="12.3" fill="none" stroke="#e8923e" stroke-width="2.7"/>
<circle cx="298.3" cy="436.7" r="12.3" fill="none" stroke="#e8923e" stroke-width="2.7"/>
<circle cx="298.3" cy="440.3" r="12.3" fill="none" stroke="#e8923e" stroke-width="2.7"/>
<circle cx="298.3" cy="440.6" r="12.3" fill="none" stroke="#e8923e" stroke-width="2.7"/>
<circle cx="298.3" cy="441.8" r="12.3" fill="none" stroke="#e8923e" stroke-width="2.7"/>
<circle cx="298.3" cy="443.0" r="12.3" fill="none" stroke="#e8923e" stroke-width="2.7"/>
<circle cx="298.3" cy="443.0" r="12.3" fill="none" stroke="#e8923e" stroke-width="2.7"/>
<circle cx="298.3" cy="443.3" r="12.3" fill="none" stroke="#e8923e" stroke-width="2.7"/>
<circle cx="298.3" cy="443.6" r="12.3" fill="none" stroke="#e8923e" stroke-width="2.7"/>
<circle cx="298.3" cy="444.5" r="12.3" fill="none" stroke="#e8923e" stroke-width="2.7"/>
<circle cx="298.3" cy="447.5" r="12.3" fill="none" stroke="#e8923e" stroke-width="2.7"/>
<circle cx="298.3" cy="448.7" r="12.3" fill="none" stroke="#e8923e" stroke-width="2.7"/>
<circle cx="298.3" cy="448.7" r="12.3" fill="none" stroke="#e8923e" stroke-width="2.7"/>
<circle cx="298.3" cy="450.2" r="12.3" fill="none" stroke="#e8923e" stroke-width="2.7"/>
<circle cx="298.3" cy="451.4" r="12.3" fill="none" stroke="#e8923e" stroke-width="2.7"/>
<circle cx="298.3" cy="452.6" r="12.3" fill="none" stroke="#e8923e" stroke-width="2.7"/>
<circle cx="298.3" cy="454.1" r="12.3" fill="none" stroke="#e8923e" stroke-width="2.7"/>
<circle cx="298.3" cy="454.4" r="12.3" fill="none" stroke="#e8923e" stroke-width="2.7"/>
<circle cx="298.3" cy="454.7" r="12.3" fill="none" stroke="#e8923e" stroke-width="2.7"/>
<circle cx="298.3" cy="455.4" r="12.3" fill="none" stroke="#e8923e" stroke-width="2.7"/>
<circle cx="298.3" cy="455.7" r="12.3" fill="none" stroke="#e8923e" stroke-width="2.7"/>
<circle cx="298.3" cy="456.3" r="12.3" fill="none" stroke="#e8923e" stroke-width="2.7"/>
<circle cx="298.3" cy="456.6" r="12.3" fill="none" stroke="#e8923e" stroke-width="2.7"/>
<circle cx="298.3" cy="456.6" r="12.3" fill="none" stroke="#e8923e" stroke-width="2.7"/>
<circle cx="298.3" cy="456.9" r="12.3" fill="none" stroke="#e8923e" stroke-width="2.7"/>
<circle cx="298.3" cy="456.9" r="12.3" fill="none" stroke="#e8923e" stroke-width="2.7"/>
<circle cx="298.3" cy="457.2" r="12.3" fill="none" stroke="#e8923e" stroke-width="2.7"/>
<circle cx="298.3" cy="457.5" r="12.3" fill="none" stroke="#e8923e" stroke-width="2.7"/>
<circle cx="298.3" cy="458.7" r="12.3" fill="none" stroke="#e8923e" stroke-width="2.7"/>
<circle cx="298.3" cy="459.6" r="12.3" fill="none" stroke="#e8923e" stroke-width="2.7"/>
<circle cx="298.3" cy="459.9" r="12.3" fill="none" stroke="#e8923e" stroke-width="2.7"/>
<circle cx="298.3" cy="460.2" r="12.3" fill="none" stroke="#e8923e" stroke-width="2.7"/>
<circle cx="298.3" cy="461.1" r="12.3" fill="none" stroke="#e8923e" stroke-width="2.7"/>
<circle cx="298.3" cy="461.4" r="12.3" fill="none" stroke="#e8923e" stroke-width="2.7"/>
<circle cx="298.3" cy="462.0" r="12.3" fill="none" stroke="#e8923e" stroke-width="2.7"/>
<circle cx="298.3" cy="462.0" r="12.3" fill="none" stroke="#e8923e" stroke-width="2.7"/>
<circle cx="298.3" cy="462.0" r="12.3" fill="none" stroke="#e8923e" stroke-width="2.7"/>
<circle cx="298.3" cy="462.3" r="12.3" fill="none" stroke="#e8923e" stroke-width="2.7"/>
<circle cx="298.3" cy="462.9" r="12.3" fill="none" stroke="#e8923e" stroke-width="2.7"/>
<circle cx="298.3" cy="462.9" r="12.3" fill="none" stroke="#e8923e" stroke-width="2.7"/>
<circle cx="298.3" cy="463.2" r="12.3" fill="none" stroke="#e8923e" stroke-width="2.7"/>
<circle cx="298.3" cy="463.8" r="12.3" fill="none" stroke="#e8923e" stroke-width="2.7"/>
<circle cx="298.3" cy="464.1" r="12.3" fill="none" stroke="#e8923e" stroke-width="2.7"/>
<circle cx="298.3" cy="464.1" r="12.3" fill="none" stroke="#e8923e" stroke-width="2.7"/>
<circle cx="298.3" cy="464.1" r="12.3" fill="none" stroke="#e8923e" stroke-width="2.7"/>
<circle cx="298.3" cy="464.1" r="12.3" fill="none" stroke="#e8923e" stroke-width="2.7"/>
<circle cx="298.3" cy="464.4" r="12.3" fill="none" stroke="#e8923e" stroke-width="2.7"/>
<circle cx="298.3" cy="464.4" r="12.3" fill="none" stroke="#e8923e" stroke-width="2.7"/>
<circle cx="298.3" cy="464.4" r="12.3" fill="none" stroke="#e8923e" stroke-width="2.7"/>
<circle cx="298.3" cy="464.4" r="12.3" fill="none" stroke="#e8923e" stroke-width="2.7"/>
<circle cx="298.3" cy="464.7" r="12.3" fill="none" stroke="#e8923e" stroke-width="2.7"/>
<circle cx="298.3" cy="464.7" r="12.3" fill="none" stroke="#e8923e" stroke-width="2.7"/>
<circle cx="298.3" cy="464.7" r="12.3" fill="none" stroke="#e8923e" stroke-width="2.7"/>
<circle cx="298.3" cy="464.7" r="12.3" fill="none" stroke="#e8923e" stroke-width="2.7"/>
<circle cx="298.3" cy="464.7" r="12.3" fill="none" stroke="#e8923e" stroke-width="2.7"/>
<circle cx="298.3" cy="464.7" r="12.3" fill="none" stroke="#e8923e" stroke-width="2.7"/>
<circle cx="298.3" cy="464.7" r="12.3" fill="none" stroke="#e8923e" stroke-width="2.7"/>
<circle cx="298.3" cy="464.7" r="12.3" fill="none" stroke="#e8923e" stroke-width="2.7"/>
<circle cx="298.3" cy="464.7" r="12.3" fill="none" stroke="#e8923e" stroke-width="2.7"/>
<circle cx="298.3" cy="464.7" r="12.3" fill="none" stroke="#e8923e" stroke-width="2.7"/>
<circle cx="298.3" cy="464.7" r="12.3" fill="none" stroke="#e8923e" stroke-width="2.7"/>
<circle cx="298.3" cy="464.7" r="12.3" fill="none" stroke="#e8923e" stroke-width="2.7"/>
<circle cx="298.3" cy="464.7" r="12.3" fill="none" stroke="#e8923e" stroke-width="2.7"/>
<circle cx="298.3" cy="464.7" r="12.3" fill="none" stroke="#e8923e" stroke-width="2.7"/>
<circle cx="298.3" cy="464.7" r="12.3" fill="none" stroke="#e8923e" stroke-width="2.7"/>
<circle cx="374.5" cy="279.8" r="11.8" fill="none" stroke="#e8923e" stroke-width="2.7"/>
<circle cx="374.5" cy="296.4" r="11.8" fill="none" stroke="#e8923e" stroke-width="2.7"/>
<circle cx="374.5" cy="300.3" r="11.8" fill="none" stroke="#e8923e" stroke-width="2.7"/>
<circle cx="374.5" cy="305.2" r="11.8" fill="none" stroke="#e8923e" stroke-width="2.7"/>
<circle cx="374.5" cy="313.0" r="11.8" fill="none" stroke="#e8923e" stroke-width="2.7"/>
<circle cx="374.5" cy="319.9" r="11.8" fill="none" stroke="#e8923e" stroke-width="2.7"/>
<circle cx="374.5" cy="325.1" r="11.8" fill="none" stroke="#e8923e" stroke-width="2.7"/>
<circle cx="374.5" cy="332.6" r="11.8" fill="none" stroke="#e8923e" stroke-width="2.7"/>
<circle cx="374.5" cy="336.2" r="11.8" fill="none" stroke="#e8923e" stroke-width="2.7"/>
<circle cx="374.5" cy="344.1" r="11.8" fill="none" stroke="#e8923e" stroke-width="2.7"/>
<circle cx="374.5" cy="350.7" r="11.8" fill="none" stroke="#e8923e" stroke-width="2.7"/>
<circle cx="374.5" cy="356.1" r="11.8" fill="none" stroke="#e8923e" stroke-width="2.7"/>
<circle cx="374.5" cy="357.6" r="11.8" fill="none" stroke="#e8923e" stroke-width="2.7"/>
<circle cx="374.5" cy="362.2" r="11.8" fill="none" stroke="#e8923e" stroke-width="2.7"/>
<circle cx="374.5" cy="366.4" r="11.8" fill="none" stroke="#e8923e" stroke-width="2.7"/>
<circle cx="374.5" cy="368.2" r="11.8" fill="none" stroke="#e8923e" stroke-width="2.7"/>
<circle cx="374.5" cy="369.7" r="11.8" fill="none" stroke="#e8923e" stroke-width="2.7"/>
<circle cx="374.5" cy="377.2" r="12.3" fill="none" stroke="#e8923e" stroke-width="2.7"/>
<circle cx="374.5" cy="377.2" r="12.3" fill="none" stroke="#e8923e" stroke-width="2.7"/>
<circle cx="374.5" cy="377.8" r="12.3" fill="none" stroke="#e8923e" stroke-width="2.7"/>
<circle cx="374.5" cy="385.1" r="12.3" fill="none" stroke="#e8923e" stroke-width="2.7"/>
<circle cx="374.5" cy="385.4" r="12.3" fill="none" stroke="#e8923e" stroke-width="2.7"/>
<circle cx="374.5" cy="388.1" r="12.3" fill="none" stroke="#e8923e" stroke-width="2.7"/>
<circle cx="374.5" cy="390.2" r="12.3" fill="none" stroke="#e8923e" stroke-width="2.7"/>
<circle cx="374.5" cy="390.5" r="12.3" fill="none" stroke="#e8923e" stroke-width="2.7"/>
<circle cx="374.5" cy="393.5" r="12.3" fill="none" stroke="#e8923e" stroke-width="2.7"/>
<circle cx="374.5" cy="394.1" r="12.3" fill="none" stroke="#e8923e" stroke-width="2.7"/>
<circle cx="374.5" cy="395.6" r="12.3" fill="none" stroke="#e8923e" stroke-width="2.7"/>
<circle cx="374.5" cy="395.6" r="12.3" fill="none" stroke="#e8923e" stroke-width="2.7"/>
<circle cx="374.5" cy="395.9" r="12.3" fill="none" stroke="#e8923e" stroke-width="2.7"/>
<circle cx="374.5" cy="396.2" r="12.3" fill="none" stroke="#e8923e" stroke-width="2.7"/>
<circle cx="374.5" cy="396.8" r="12.3" fill="none" stroke="#e8923e" stroke-width="2.7"/>
<circle cx="374.5" cy="398.6" r="12.3" fill="none" stroke="#e8923e" stroke-width="2.7"/>
<circle cx="374.5" cy="400.5" r="12.3" fill="none" stroke="#e8923e" stroke-width="2.7"/>
<circle cx="374.5" cy="401.1" r="12.3" fill="none" stroke="#e8923e" stroke-width="2.7"/>
<circle cx="374.5" cy="401.1" r="12.3" fill="none" stroke="#e8923e" stroke-width="2.7"/>
<circle cx="374.5" cy="403.8" r="12.3" fill="none" stroke="#e8923e" stroke-width="2.7"/>
<circle cx="374.5" cy="409.8" r="12.3" fill="none" stroke="#e8923e" stroke-width="2.7"/>
<circle cx="374.5" cy="411.0" r="12.3" fill="none" stroke="#e8923e" stroke-width="2.7"/>
<circle cx="374.5" cy="411.0" r="12.3" fill="none" stroke="#e8923e" stroke-width="2.7"/>
<circle cx="374.5" cy="411.9" r="12.3" fill="none" stroke="#e8923e" stroke-width="2.7"/>
<circle cx="374.5" cy="412.2" r="12.3" fill="none" stroke="#e8923e" stroke-width="2.7"/>
<circle cx="374.5" cy="414.3" r="12.3" fill="none" stroke="#e8923e" stroke-width="2.7"/>
<circle cx="374.5" cy="417.3" r="12.3" fill="none" stroke="#e8923e" stroke-width="2.7"/>
<circle cx="374.5" cy="418.3" r="12.3" fill="none" stroke="#e8923e" stroke-width="2.7"/>
<circle cx="374.5" cy="419.8" r="12.3" fill="none" stroke="#e8923e" stroke-width="2.7"/>
<circle cx="374.5" cy="421.9" r="12.3" fill="none" stroke="#e8923e" stroke-width="2.7"/>
<circle cx="374.5" cy="423.4" r="12.3" fill="none" stroke="#e8923e" stroke-width="2.7"/>
<circle cx="374.5" cy="429.4" r="12.3" fill="none" stroke="#e8923e" stroke-width="2.7"/>
<circle cx="374.5" cy="430.6" r="12.3" fill="none" stroke="#e8923e" stroke-width="2.7"/>
<circle cx="374.5" cy="430.9" r="12.3" fill="none" stroke="#e8923e" stroke-width="2.7"/>
<circle cx="374.5" cy="431.2" r="12.3" fill="none" stroke="#e8923e" stroke-width="2.7"/>
<circle cx="374.5" cy="436.0" r="12.3" fill="none" stroke="#e8923e" stroke-width="2.7"/>
<circle cx="374.5" cy="436.3" r="12.3" fill="none" stroke="#e8923e" stroke-width="2.7"/>
<circle cx="374.5" cy="436.7" r="12.3" fill="none" stroke="#e8923e" stroke-width="2.7"/>
<circle cx="374.5" cy="437.0" r="12.3" fill="none" stroke="#e8923e" stroke-width="2.7"/>
<circle cx="374.5" cy="442.1" r="12.3" fill="none" stroke="#e8923e" stroke-width="2.7"/>
<circle cx="374.5" cy="442.1" r="12.3" fill="none" stroke="#e8923e" stroke-width="2.7"/>
<circle cx="374.5" cy="443.0" r="12.3" fill="none" stroke="#e8923e" stroke-width="2.7"/>
<circle cx="374.5" cy="443.9" r="12.3" fill="none" stroke="#e8923e" stroke-width="2.7"/>
<circle cx="374.5" cy="444.2" r="12.3" fill="none" stroke="#e8923e" stroke-width="2.7"/>
<circle cx="374.5" cy="444.8" r="12.3" fill="none" stroke="#e8923e" stroke-width="2.7"/>
<circle cx="374.5" cy="445.4" r="12.3" fill="none" stroke="#e8923e" stroke-width="2.7"/>
<circle cx="374.5" cy="448.4" r="12.3" fill="none" stroke="#e8923e" stroke-width="2.7"/>
<circle cx="374.5" cy="449.3" r="12.3" fill="none" stroke="#e8923e" stroke-width="2.7"/>
<circle cx="374.5" cy="449.6" r="12.3" fill="none" stroke="#e8923e" stroke-width="2.7"/>
<circle cx="374.5" cy="451.1" r="12.3" fill="none" stroke="#e8923e" stroke-width="2.7"/>
<circle cx="374.5" cy="451.4" r="12.3" fill="none" stroke="#e8923e" stroke-width="2.7"/>
<circle cx="374.5" cy="451.7" r="12.3" fill="none" stroke="#e8923e" stroke-width="2.7"/>
<circle cx="374.5" cy="451.7" r="12.3" fill="none" stroke="#e8923e" stroke-width="2.7"/>
<circle cx="374.5" cy="451.7" r="12.3" fill="none" stroke="#e8923e" stroke-width="2.7"/>
<circle cx="374.5" cy="452.0" r="12.3" fill="none" stroke="#e8923e" stroke-width="2.7"/>
<circle cx="374.5" cy="452.3" r="12.3" fill="none" stroke="#e8923e" stroke-width="2.7"/>
<circle cx="374.5" cy="452.3" r="12.3" fill="none" stroke="#e8923e" stroke-width="2.7"/>
<circle cx="374.5" cy="452.9" r="12.3" fill="none" stroke="#e8923e" stroke-width="2.7"/>
<circle cx="374.5" cy="453.2" r="12.3" fill="none" stroke="#e8923e" stroke-width="2.7"/>
<circle cx="374.5" cy="453.8" r="12.3" fill="none" stroke="#e8923e" stroke-width="2.7"/>
<circle cx="374.5" cy="454.4" r="12.3" fill="none" stroke="#e8923e" stroke-width="2.7"/>
<circle cx="374.5" cy="455.4" r="12.3" fill="none" stroke="#e8923e" stroke-width="2.7"/>
<circle cx="374.5" cy="455.7" r="12.3" fill="none" stroke="#e8923e" stroke-width="2.7"/>
<circle cx="374.5" cy="457.5" r="12.3" fill="none" stroke="#e8923e" stroke-width="2.7"/>
<circle cx="374.5" cy="457.8" r="12.3" fill="none" stroke="#e8923e" stroke-width="2.7"/>
<circle cx="374.5" cy="458.4" r="12.3" fill="none" stroke="#e8923e" stroke-width="2.7"/>
<circle cx="374.5" cy="458.7" r="12.3" fill="none" stroke="#e8923e" stroke-width="2.7"/>
<circle cx="374.5" cy="458.7" r="12.3" fill="none" stroke="#e8923e" stroke-width="2.7"/>
<circle cx="374.5" cy="459.3" r="12.3" fill="none" stroke="#e8923e" stroke-width="2.7"/>
<circle cx="374.5" cy="459.3" r="12.3" fill="none" stroke="#e8923e" stroke-width="2.7"/>
<circle cx="374.5" cy="459.9" r="12.3" fill="none" stroke="#e8923e" stroke-width="2.7"/>
<circle cx="374.5" cy="460.2" r="12.3" fill="none" stroke="#e8923e" stroke-width="2.7"/>
<circle cx="374.5" cy="460.8" r="12.3" fill="none" stroke="#e8923e" stroke-width="2.7"/>
<circle cx="374.5" cy="462.0" r="12.3" fill="none" stroke="#e8923e" stroke-width="2.7"/>
<circle cx="374.5" cy="462.0" r="12.3" fill="none" stroke="#e8923e" stroke-width="2.7"/>
<circle cx="374.5" cy="462.0" r="12.3" fill="none" stroke="#e8923e" stroke-width="2.7"/>
<circle cx="374.5" cy="462.0" r="12.3" fill="none" stroke="#e8923e" stroke-width="2.7"/>
<circle cx="374.5" cy="462.3" r="12.3" fill="none" stroke="#e8923e" stroke-width="2.7"/>
<circle cx="374.5" cy="462.6" r="12.3" fill="none" stroke="#e8923e" stroke-width="2.7"/>
<circle cx="374.5" cy="463.2" r="12.3" fill="none" stroke="#e8923e" stroke-width="2.7"/>
<circle cx="374.5" cy="463.2" r="12.3" fill="none" stroke="#e8923e" stroke-width="2.7"/>
<circle cx="374.5" cy="463.5" r="12.3" fill="none" stroke="#e8923e" stroke-width="2.7"/>
<circle cx="374.5" cy="463.8" r="12.3" fill="none" stroke="#e8923e" stroke-width="2.7"/>
<circle cx="374.5" cy="463.8" r="12.3" fill="none" stroke="#e8923e" stroke-width="2.7"/>
<circle cx="374.5" cy="463.8" r="12.3" fill="none" stroke="#e8923e" stroke-width="2.7"/>
<circle cx="374.5" cy="463.8" r="12.3" fill="none" stroke="#e8923e" stroke-width="2.7"/>
<circle cx="374.5" cy="463.8" r="12.3" fill="none" stroke="#e8923e" stroke-width="2.7"/>
<circle cx="374.5" cy="464.1" r="12.3" fill="none" stroke="#e8923e" stroke-width="2.7"/>
<circle cx="374.5" cy="464.1" r="12.3" fill="none" stroke="#e8923e" stroke-width="2.7"/>
<circle cx="374.5" cy="464.1" r="12.3" fill="none" stroke="#e8923e" stroke-width="2.7"/>
<circle cx="374.5" cy="464.1" r="12.3" fill="none" stroke="#e8923e" stroke-width="2.7"/>
<circle cx="374.5" cy="464.1" r="12.3" fill="none" stroke="#e8923e" stroke-width="2.7"/>
<circle cx="374.5" cy="464.1" r="12.3" fill="none" stroke="#e8923e" stroke-width="2.7"/>
<circle cx="374.5" cy="464.1" r="12.3" fill="none" stroke="#e8923e" stroke-width="2.7"/>
<circle cx="374.5" cy="464.4" r="12.3" fill="none" stroke="#e8923e" stroke-width="2.7"/>
<circle cx="374.5" cy="464.7" r="12.3" fill="none" stroke="#e8923e" stroke-width="2.7"/>
<circle cx="374.5" cy="464.7" r="12.3" fill="none" stroke="#e8923e" stroke-width="2.7"/>
<circle cx="374.5" cy="464.7" r="12.3" fill="none" stroke="#e8923e" stroke-width="2.7"/>
<circle cx="374.5" cy="464.7" r="12.3" fill="none" stroke="#e8923e" stroke-width="2.7"/>
<circle cx="374.5" cy="464.7" r="12.3" fill="none" stroke="#e8923e" stroke-width="2.7"/>
<circle cx="374.5" cy="464.7" r="12.3" fill="none" stroke="#e8923e" stroke-width="2.7"/>
<circle cx="374.5" cy="464.7" r="12.3" fill="none" stroke="#e8923e" stroke-width="2.7"/>
<circle cx="374.5" cy="464.7" r="12.3" fill="none" stroke="#e8923e" stroke-width="2.7"/>
<circle cx="374.5" cy="464.7" r="12.3" fill="none" stroke="#e8923e" stroke-width="2.7"/>
<circle cx="374.5" cy="464.7" r="12.3" fill="none" stroke="#e8923e" stroke-width="2.7"/>
<circle cx="374.5" cy="464.7" r="12.3" fill="none" stroke="#e8923e" stroke-width="2.7"/>
<circle cx="374.5" cy="464.7" r="12.3" fill="none" stroke="#e8923e" stroke-width="2.7"/>
<circle cx="450.4" cy="242.7" r="11.8" fill="none" stroke="#e8923e" stroke-width="2.7"/>
<circle cx="450.4" cy="286.8" r="11.8" fill="none" stroke="#e8923e" stroke-width="2.7"/>
<circle cx="450.4" cy="293.1" r="11.8" fill="none" stroke="#e8923e" stroke-width="2.7"/>
<circle cx="450.4" cy="295.8" r="11.8" fill="none" stroke="#e8923e" stroke-width="2.7"/>
<circle cx="450.4" cy="307.9" r="11.8" fill="none" stroke="#e8923e" stroke-width="2.7"/>
<circle cx="450.4" cy="312.4" r="11.8" fill="none" stroke="#e8923e" stroke-width="2.7"/>
<circle cx="450.4" cy="315.4" r="11.8" fill="none" stroke="#e8923e" stroke-width="2.7"/>
<circle cx="450.4" cy="322.9" r="11.8" fill="none" stroke="#e8923e" stroke-width="2.7"/>
<circle cx="450.4" cy="327.5" r="11.8" fill="none" stroke="#e8923e" stroke-width="2.7"/>
<circle cx="450.4" cy="331.7" r="11.8" fill="none" stroke="#e8923e" stroke-width="2.7"/>
<circle cx="450.4" cy="334.1" r="11.8" fill="none" stroke="#e8923e" stroke-width="2.7"/>
<circle cx="450.4" cy="336.8" r="11.8" fill="none" stroke="#e8923e" stroke-width="2.7"/>
<circle cx="450.4" cy="344.1" r="11.8" fill="none" stroke="#e8923e" stroke-width="2.7"/>
<circle cx="450.4" cy="347.1" r="11.8" fill="none" stroke="#e8923e" stroke-width="2.7"/>
<circle cx="450.4" cy="351.6" r="11.8" fill="none" stroke="#e8923e" stroke-width="2.7"/>
<circle cx="450.4" cy="358.5" r="11.8" fill="none" stroke="#e8923e" stroke-width="2.7"/>
<circle cx="450.4" cy="359.1" r="11.8" fill="none" stroke="#e8923e" stroke-width="2.7"/>
<circle cx="450.4" cy="370.9" r="11.8" fill="none" stroke="#e8923e" stroke-width="2.7"/>
<circle cx="450.4" cy="372.7" r="11.8" fill="none" stroke="#e8923e" stroke-width="2.7"/>
<circle cx="450.4" cy="373.3" r="11.8" fill="none" stroke="#e8923e" stroke-width="2.7"/>
<circle cx="450.4" cy="374.8" r="12.3" fill="none" stroke="#e8923e" stroke-width="2.7"/>
<circle cx="450.4" cy="376.3" r="12.3" fill="none" stroke="#e8923e" stroke-width="2.7"/>
<circle cx="450.4" cy="377.5" r="12.3" fill="none" stroke="#e8923e" stroke-width="2.7"/>
<circle cx="450.4" cy="378.7" r="12.3" fill="none" stroke="#e8923e" stroke-width="2.7"/>
<circle cx="450.4" cy="380.0" r="12.3" fill="none" stroke="#e8923e" stroke-width="2.7"/>
<circle cx="450.4" cy="380.9" r="12.3" fill="none" stroke="#e8923e" stroke-width="2.7"/>
<circle cx="450.4" cy="381.8" r="12.3" fill="none" stroke="#e8923e" stroke-width="2.7"/>
<circle cx="450.4" cy="382.4" r="12.3" fill="none" stroke="#e8923e" stroke-width="2.7"/>
<circle cx="450.4" cy="383.0" r="12.3" fill="none" stroke="#e8923e" stroke-width="2.7"/>
<circle cx="450.4" cy="385.7" r="12.3" fill="none" stroke="#e8923e" stroke-width="2.7"/>
<circle cx="450.4" cy="386.3" r="12.3" fill="none" stroke="#e8923e" stroke-width="2.7"/>
<circle cx="450.4" cy="389.6" r="12.3" fill="none" stroke="#e8923e" stroke-width="2.7"/>
<circle cx="450.4" cy="391.1" r="12.3" fill="none" stroke="#e8923e" stroke-width="2.7"/>
<circle cx="450.4" cy="394.4" r="12.3" fill="none" stroke="#e8923e" stroke-width="2.7"/>
<circle cx="450.4" cy="395.3" r="12.3" fill="none" stroke="#e8923e" stroke-width="2.7"/>
<circle cx="450.4" cy="395.9" r="12.3" fill="none" stroke="#e8923e" stroke-width="2.7"/>
<circle cx="450.4" cy="398.6" r="12.3" fill="none" stroke="#e8923e" stroke-width="2.7"/>
<circle cx="450.4" cy="399.9" r="12.3" fill="none" stroke="#e8923e" stroke-width="2.7"/>
<circle cx="450.4" cy="402.0" r="12.3" fill="none" stroke="#e8923e" stroke-width="2.7"/>
<circle cx="450.4" cy="402.6" r="12.3" fill="none" stroke="#e8923e" stroke-width="2.7"/>
<circle cx="450.4" cy="405.3" r="12.3" fill="none" stroke="#e8923e" stroke-width="2.7"/>
<circle cx="450.4" cy="409.2" r="12.3" fill="none" stroke="#e8923e" stroke-width="2.7"/>
<circle cx="450.4" cy="412.2" r="12.3" fill="none" stroke="#e8923e" stroke-width="2.7"/>
<circle cx="450.4" cy="412.8" r="12.3" fill="none" stroke="#e8923e" stroke-width="2.7"/>
<circle cx="450.4" cy="417.7" r="12.3" fill="none" stroke="#e8923e" stroke-width="2.7"/>
<circle cx="450.4" cy="418.6" r="12.3" fill="none" stroke="#e8923e" stroke-width="2.7"/>
<circle cx="450.4" cy="419.2" r="12.3" fill="none" stroke="#e8923e" stroke-width="2.7"/>
<circle cx="450.4" cy="419.8" r="12.3" fill="none" stroke="#e8923e" stroke-width="2.7"/>
<circle cx="450.4" cy="423.7" r="12.3" fill="none" stroke="#e8923e" stroke-width="2.7"/>
<circle cx="450.4" cy="425.5" r="12.3" fill="none" stroke="#e8923e" stroke-width="2.7"/>
<circle cx="450.4" cy="425.8" r="12.3" fill="none" stroke="#e8923e" stroke-width="2.7"/>
<circle cx="450.4" cy="425.8" r="12.3" fill="none" stroke="#e8923e" stroke-width="2.7"/>
<circle cx="450.4" cy="426.1" r="12.3" fill="none" stroke="#e8923e" stroke-width="2.7"/>
<circle cx="450.4" cy="426.7" r="12.3" fill="none" stroke="#e8923e" stroke-width="2.7"/>
<circle cx="450.4" cy="428.8" r="12.3" fill="none" stroke="#e8923e" stroke-width="2.7"/>
<circle cx="450.4" cy="429.4" r="12.3" fill="none" stroke="#e8923e" stroke-width="2.7"/>
<circle cx="450.4" cy="429.7" r="12.3" fill="none" stroke="#e8923e" stroke-width="2.7"/>
<circle cx="450.4" cy="431.8" r="12.3" fill="none" stroke="#e8923e" stroke-width="2.7"/>
<circle cx="450.4" cy="434.2" r="12.3" fill="none" stroke="#e8923e" stroke-width="2.7"/>
<circle cx="450.4" cy="434.5" r="12.3" fill="none" stroke="#e8923e" stroke-width="2.7"/>
<circle cx="450.4" cy="434.8" r="12.3" fill="none" stroke="#e8923e" stroke-width="2.7"/>
<circle cx="450.4" cy="435.4" r="12.3" fill="none" stroke="#e8923e" stroke-width="2.7"/>
<circle cx="450.4" cy="439.1" r="12.3" fill="none" stroke="#e8923e" stroke-width="2.7"/>
<circle cx="450.4" cy="439.7" r="12.3" fill="none" stroke="#e8923e" stroke-width="2.7"/>
<circle cx="450.4" cy="441.8" r="12.3" fill="none" stroke="#e8923e" stroke-width="2.7"/>
<circle cx="450.4" cy="442.1" r="12.3" fill="none" stroke="#e8923e" stroke-width="2.7"/>
<circle cx="450.4" cy="442.1" r="12.3" fill="none" stroke="#e8923e" stroke-width="2.7"/>
<circle cx="450.4" cy="443.0" r="12.3" fill="none" stroke="#e8923e" stroke-width="2.7"/>
<circle cx="450.4" cy="443.6" r="12.3" fill="none" stroke="#e8923e" stroke-width="2.7"/>
<circle cx="450.4" cy="444.5" r="12.3" fill="none" stroke="#e8923e" stroke-width="2.7"/>
<circle cx="450.4" cy="446.0" r="12.3" fill="none" stroke="#e8923e" stroke-width="2.7"/>
<circle cx="450.4" cy="446.0" r="12.3" fill="none" stroke="#e8923e" stroke-width="2.7"/>
<circle cx="450.4" cy="446.3" r="12.3" fill="none" stroke="#e8923e" stroke-width="2.7"/>
<circle cx="450.4" cy="448.7" r="12.3" fill="none" stroke="#e8923e" stroke-width="2.7"/>
<circle cx="450.4" cy="448.7" r="12.3" fill="none" stroke="#e8923e" stroke-width="2.7"/>
<circle cx="450.4" cy="448.7" r="12.3" fill="none" stroke="#e8923e" stroke-width="2.7"/>
<circle cx="450.4" cy="450.2" r="12.3" fill="none" stroke="#e8923e" stroke-width="2.7"/>
<circle cx="450.4" cy="450.2" r="12.3" fill="none" stroke="#e8923e" stroke-width="2.7"/>
<circle cx="450.4" cy="451.7" r="12.3" fill="none" stroke="#e8923e" stroke-width="2.7"/>
<circle cx="450.4" cy="452.9" r="12.3" fill="none" stroke="#e8923e" stroke-width="2.7"/>
<circle cx="450.4" cy="452.9" r="12.3" fill="none" stroke="#e8923e" stroke-width="2.7"/>
<circle cx="450.4" cy="452.9" r="12.3" fill="none" stroke="#e8923e" stroke-width="2.7"/>
<circle cx="450.4" cy="453.5" r="12.3" fill="none" stroke="#e8923e" stroke-width="2.7"/>
<circle cx="450.4" cy="453.5" r="12.3" fill="none" stroke="#e8923e" stroke-width="2.7"/>
<circle cx="450.4" cy="454.1" r="12.3" fill="none" stroke="#e8923e" stroke-width="2.7"/>
<circle cx="450.4" cy="455.7" r="12.3" fill="none" stroke="#e8923e" stroke-width="2.7"/>
<circle cx="450.4" cy="456.0" r="12.3" fill="none" stroke="#e8923e" stroke-width="2.7"/>
<circle cx="450.4" cy="456.0" r="12.3" fill="none" stroke="#e8923e" stroke-width="2.7"/>
<circle cx="450.4" cy="456.3" r="12.3" fill="none" stroke="#e8923e" stroke-width="2.7"/>
<circle cx="450.4" cy="456.6" r="12.3" fill="none" stroke="#e8923e" stroke-width="2.7"/>
<circle cx="450.4" cy="457.8" r="12.3" fill="none" stroke="#e8923e" stroke-width="2.7"/>
<circle cx="450.4" cy="459.0" r="12.3" fill="none" stroke="#e8923e" stroke-width="2.7"/>
<circle cx="450.4" cy="459.0" r="12.3" fill="none" stroke="#e8923e" stroke-width="2.7"/>
<circle cx="450.4" cy="459.0" r="12.3" fill="none" stroke="#e8923e" stroke-width="2.7"/>
<circle cx="450.4" cy="459.0" r="12.3" fill="none" stroke="#e8923e" stroke-width="2.7"/>
<circle cx="450.4" cy="459.3" r="12.3" fill="none" stroke="#e8923e" stroke-width="2.7"/>
<circle cx="450.4" cy="459.6" r="12.3" fill="none" stroke="#e8923e" stroke-width="2.7"/>
<circle cx="450.4" cy="460.2" r="12.3" fill="none" stroke="#e8923e" stroke-width="2.7"/>
<circle cx="450.4" cy="460.8" r="12.3" fill="none" stroke="#e8923e" stroke-width="2.7"/>
<circle cx="450.4" cy="461.4" r="12.3" fill="none" stroke="#e8923e" stroke-width="2.7"/>
<circle cx="450.4" cy="461.4" r="12.3" fill="none" stroke="#e8923e" stroke-width="2.7"/>
<circle cx="450.4" cy="461.7" r="12.3" fill="none" stroke="#e8923e" stroke-width="2.7"/>
<circle cx="450.4" cy="463.5" r="12.3" fill="none" stroke="#e8923e" stroke-width="2.7"/>
<circle cx="450.4" cy="463.5" r="12.3" fill="none" stroke="#e8923e" stroke-width="2.7"/>
<circle cx="450.4" cy="463.5" r="12.3" fill="none" stroke="#e8923e" stroke-width="2.7"/>
<circle cx="450.4" cy="463.8" r="12.3" fill="none" stroke="#e8923e" stroke-width="2.7"/>
<circle cx="450.4" cy="464.1" r="12.3" fill="none" stroke="#e8923e" stroke-width="2.7"/>
<circle cx="450.4" cy="464.1" r="12.3" fill="none" stroke="#e8923e" stroke-width="2.7"/>
<circle cx="450.4" cy="464.1" r="12.3" fill="none" stroke="#e8923e" stroke-width="2.7"/>
<circle cx="450.4" cy="464.4" r="12.3" fill="none" stroke="#e8923e" stroke-width="2.7"/>
<circle cx="450.4" cy="464.4" r="12.3" fill="none" stroke="#e8923e" stroke-width="2.7"/>
<circle cx="450.4" cy="464.4" r="12.3" fill="none" stroke="#e8923e" stroke-width="2.7"/>
<circle cx="450.4" cy="464.4" r="12.3" fill="none" stroke="#e8923e" stroke-width="2.7"/>
<circle cx="450.4" cy="464.4" r="12.3" fill="none" stroke="#e8923e" stroke-width="2.7"/>
<circle cx="450.4" cy="464.7" r="12.3" fill="none" stroke="#e8923e" stroke-width="2.7"/>
<circle cx="450.4" cy="464.7" r="12.3" fill="none" stroke="#e8923e" stroke-width="2.7"/>
<circle cx="450.4" cy="464.7" r="12.3" fill="none" stroke="#e8923e" stroke-width="2.7"/>
<circle cx="450.4" cy="464.7" r="12.3" fill="none" stroke="#e8923e" stroke-width="2.7"/>
<circle cx="450.4" cy="464.7" r="12.3" fill="none" stroke="#e8923e" stroke-width="2.7"/>
<circle cx="450.4" cy="464.7" r="12.3" fill="none" stroke="#e8923e" stroke-width="2.7"/>
<circle cx="450.4" cy="464.7" r="12.3" fill="none" stroke="#e8923e" stroke-width="2.7"/>
<circle cx="450.4" cy="464.7" r="12.3" fill="none" stroke="#e8923e" stroke-width="2.7"/>
<circle cx="450.4" cy="464.7" r="12.3" fill="none" stroke="#e8923e" stroke-width="2.7"/>
<circle cx="450.4" cy="464.7" r="12.3" fill="none" stroke="#e8923e" stroke-width="2.7"/>
<circle cx="450.4" cy="464.7" r="12.3" fill="none" stroke="#e8923e" stroke-width="2.7"/>
<circle cx="450.4" cy="464.7" r="12.3" fill="none" stroke="#e8923e" stroke-width="2.7"/>
<circle cx="527.0" cy="242.4" r="11.8" fill="none" stroke="#e8923e" stroke-width="2.7"/>
<circle cx="527.0" cy="247.5" r="11.8" fill="none" stroke="#e8923e" stroke-width="2.7"/>
<circle cx="527.0" cy="272.0" r="11.8" fill="none" stroke="#e8923e" stroke-width="2.7"/>
<circle cx="527.0" cy="299.4" r="11.8" fill="none" stroke="#e8923e" stroke-width="2.7"/>
<circle cx="527.0" cy="300.9" r="11.8" fill="none" stroke="#e8923e" stroke-width="2.7"/>
<circle cx="527.0" cy="302.4" r="11.8" fill="none" stroke="#e8923e" stroke-width="2.7"/>
<circle cx="527.0" cy="317.5" r="11.8" fill="none" stroke="#e8923e" stroke-width="2.7"/>
<circle cx="527.0" cy="318.4" r="11.8" fill="none" stroke="#e8923e" stroke-width="2.7"/>
<circle cx="527.0" cy="330.5" r="11.8" fill="none" stroke="#e8923e" stroke-width="2.7"/>
<circle cx="527.0" cy="344.1" r="11.8" fill="none" stroke="#e8923e" stroke-width="2.7"/>
<circle cx="527.0" cy="348.6" r="11.8" fill="none" stroke="#e8923e" stroke-width="2.7"/>
<circle cx="527.0" cy="356.1" r="11.8" fill="none" stroke="#e8923e" stroke-width="2.7"/>
<circle cx="527.0" cy="365.8" r="11.8" fill="none" stroke="#e8923e" stroke-width="2.7"/>
<circle cx="527.0" cy="369.7" r="11.8" fill="none" stroke="#e8923e" stroke-width="2.7"/>
<circle cx="527.0" cy="370.6" r="11.8" fill="none" stroke="#e8923e" stroke-width="2.7"/>
<circle cx="527.0" cy="374.8" r="12.3" fill="none" stroke="#e8923e" stroke-width="2.7"/>
<circle cx="527.0" cy="378.1" r="12.3" fill="none" stroke="#e8923e" stroke-width="2.7"/>
<circle cx="527.0" cy="378.1" r="12.3" fill="none" stroke="#e8923e" stroke-width="2.7"/>
<circle cx="527.0" cy="380.3" r="12.3" fill="none" stroke="#e8923e" stroke-width="2.7"/>
<circle cx="527.0" cy="380.3" r="12.3" fill="none" stroke="#e8923e" stroke-width="2.7"/>
<circle cx="527.0" cy="382.7" r="12.3" fill="none" stroke="#e8923e" stroke-width="2.7"/>
<circle cx="527.0" cy="383.0" r="12.3" fill="none" stroke="#e8923e" stroke-width="2.7"/>
<circle cx="527.0" cy="384.2" r="12.3" fill="none" stroke="#e8923e" stroke-width="2.7"/>
<circle cx="527.0" cy="386.0" r="12.3" fill="none" stroke="#e8923e" stroke-width="2.7"/>
<circle cx="527.0" cy="389.3" r="12.3" fill="none" stroke="#e8923e" stroke-width="2.7"/>
<circle cx="527.0" cy="389.6" r="12.3" fill="none" stroke="#e8923e" stroke-width="2.7"/>
<circle cx="527.0" cy="391.1" r="12.3" fill="none" stroke="#e8923e" stroke-width="2.7"/>
<circle cx="527.0" cy="392.9" r="12.3" fill="none" stroke="#e8923e" stroke-width="2.7"/>
<circle cx="527.0" cy="395.0" r="12.3" fill="none" stroke="#e8923e" stroke-width="2.7"/>
<circle cx="527.0" cy="395.3" r="12.3" fill="none" stroke="#e8923e" stroke-width="2.7"/>
<circle cx="527.0" cy="395.3" r="12.3" fill="none" stroke="#e8923e" stroke-width="2.7"/>
<circle cx="527.0" cy="396.5" r="12.3" fill="none" stroke="#e8923e" stroke-width="2.7"/>
<circle cx="527.0" cy="397.7" r="12.3" fill="none" stroke="#e8923e" stroke-width="2.7"/>
<circle cx="527.0" cy="399.9" r="12.3" fill="none" stroke="#e8923e" stroke-width="2.7"/>
<circle cx="527.0" cy="401.7" r="12.3" fill="none" stroke="#e8923e" stroke-width="2.7"/>
<circle cx="527.0" cy="402.6" r="12.3" fill="none" stroke="#e8923e" stroke-width="2.7"/>
<circle cx="527.0" cy="405.6" r="12.3" fill="none" stroke="#e8923e" stroke-width="2.7"/>
<circle cx="527.0" cy="406.2" r="12.3" fill="none" stroke="#e8923e" stroke-width="2.7"/>
<circle cx="527.0" cy="413.4" r="12.3" fill="none" stroke="#e8923e" stroke-width="2.7"/>
<circle cx="527.0" cy="417.3" r="12.3" fill="none" stroke="#e8923e" stroke-width="2.7"/>
<circle cx="527.0" cy="418.3" r="12.3" fill="none" stroke="#e8923e" stroke-width="2.7"/>
<circle cx="527.0" cy="418.6" r="12.3" fill="none" stroke="#e8923e" stroke-width="2.7"/>
<circle cx="527.0" cy="422.8" r="12.3" fill="none" stroke="#e8923e" stroke-width="2.7"/>
<circle cx="527.0" cy="423.7" r="12.3" fill="none" stroke="#e8923e" stroke-width="2.7"/>
<circle cx="527.0" cy="425.2" r="12.3" fill="none" stroke="#e8923e" stroke-width="2.7"/>
<circle cx="527.0" cy="427.3" r="12.3" fill="none" stroke="#e8923e" stroke-width="2.7"/>
<circle cx="527.0" cy="427.6" r="12.3" fill="none" stroke="#e8923e" stroke-width="2.7"/>
<circle cx="527.0" cy="428.2" r="12.3" fill="none" stroke="#e8923e" stroke-width="2.7"/>
<circle cx="527.0" cy="428.5" r="12.3" fill="none" stroke="#e8923e" stroke-width="2.7"/>
<circle cx="527.0" cy="428.8" r="12.3" fill="none" stroke="#e8923e" stroke-width="2.7"/>
<circle cx="527.0" cy="430.3" r="12.3" fill="none" stroke="#e8923e" stroke-width="2.7"/>
<circle cx="527.0" cy="431.8" r="12.3" fill="none" stroke="#e8923e" stroke-width="2.7"/>
<circle cx="527.0" cy="432.7" r="12.3" fill="none" stroke="#e8923e" stroke-width="2.7"/>
<circle cx="527.0" cy="436.7" r="12.3" fill="none" stroke="#e8923e" stroke-width="2.7"/>
<circle cx="527.0" cy="437.9" r="12.3" fill="none" stroke="#e8923e" stroke-width="2.7"/>
<circle cx="527.0" cy="438.8" r="12.3" fill="none" stroke="#e8923e" stroke-width="2.7"/>
<circle cx="527.0" cy="440.6" r="12.3" fill="none" stroke="#e8923e" stroke-width="2.7"/>
<circle cx="527.0" cy="442.7" r="12.3" fill="none" stroke="#e8923e" stroke-width="2.7"/>
<circle cx="527.0" cy="443.0" r="12.3" fill="none" stroke="#e8923e" stroke-width="2.7"/>
<circle cx="527.0" cy="443.6" r="12.3" fill="none" stroke="#e8923e" stroke-width="2.7"/>
<circle cx="527.0" cy="443.6" r="12.3" fill="none" stroke="#e8923e" stroke-width="2.7"/>
<circle cx="527.0" cy="443.6" r="12.3" fill="none" stroke="#e8923e" stroke-width="2.7"/>
<circle cx="527.0" cy="443.6" r="12.3" fill="none" stroke="#e8923e" stroke-width="2.7"/>
<circle cx="527.0" cy="445.7" r="12.3" fill="none" stroke="#e8923e" stroke-width="2.7"/>
<circle cx="527.0" cy="446.6" r="12.3" fill="none" stroke="#e8923e" stroke-width="2.7"/>
<circle cx="527.0" cy="447.5" r="12.3" fill="none" stroke="#e8923e" stroke-width="2.7"/>
<circle cx="527.0" cy="449.0" r="12.3" fill="none" stroke="#e8923e" stroke-width="2.7"/>
<circle cx="527.0" cy="450.2" r="12.3" fill="none" stroke="#e8923e" stroke-width="2.7"/>
<circle cx="527.0" cy="450.5" r="12.3" fill="none" stroke="#e8923e" stroke-width="2.7"/>
<circle cx="527.0" cy="450.8" r="12.3" fill="none" stroke="#e8923e" stroke-width="2.7"/>
<circle cx="527.0" cy="451.7" r="12.3" fill="none" stroke="#e8923e" stroke-width="2.7"/>
<circle cx="527.0" cy="452.0" r="12.3" fill="none" stroke="#e8923e" stroke-width="2.7"/>
<circle cx="527.0" cy="452.3" r="12.3" fill="none" stroke="#e8923e" stroke-width="2.7"/>
<circle cx="527.0" cy="455.4" r="12.3" fill="none" stroke="#e8923e" stroke-width="2.7"/>
<circle cx="527.0" cy="455.4" r="12.3" fill="none" stroke="#e8923e" stroke-width="2.7"/>
<circle cx="527.0" cy="456.0" r="12.3" fill="none" stroke="#e8923e" stroke-width="2.7"/>
<circle cx="527.0" cy="456.6" r="12.3" fill="none" stroke="#e8923e" stroke-width="2.7"/>
<circle cx="527.0" cy="456.6" r="12.3" fill="none" stroke="#e8923e" stroke-width="2.7"/>
<circle cx="527.0" cy="457.2" r="12.3" fill="none" stroke="#e8923e" stroke-width="2.7"/>
<circle cx="527.0" cy="458.1" r="12.3" fill="none" stroke="#e8923e" stroke-width="2.7"/>
<circle cx="527.0" cy="458.1" r="12.3" fill="none" stroke="#e8923e" stroke-width="2.7"/>
<circle cx="527.0" cy="458.1" r="12.3" fill="none" stroke="#e8923e" stroke-width="2.7"/>
<circle cx="527.0" cy="458.1" r="12.3" fill="none" stroke="#e8923e" stroke-width="2.7"/>
<circle cx="527.0" cy="458.4" r="12.3" fill="none" stroke="#e8923e" stroke-width="2.7"/>
<circle cx="527.0" cy="459.6" r="12.3" fill="none" stroke="#e8923e" stroke-width="2.7"/>
<circle cx="527.0" cy="460.2" r="12.3" fill="none" stroke="#e8923e" stroke-width="2.7"/>
<circle cx="527.0" cy="460.5" r="12.3" fill="none" stroke="#e8923e" stroke-width="2.7"/>
<circle cx="527.0" cy="460.5" r="12.3" fill="none" stroke="#e8923e" stroke-width="2.7"/>
<circle cx="527.0" cy="460.8" r="12.3" fill="none" stroke="#e8923e" stroke-width="2.7"/>
<circle cx="527.0" cy="461.4" r="12.3" fill="none" stroke="#e8923e" stroke-width="2.7"/>
<circle cx="527.0" cy="462.0" r="12.3" fill="none" stroke="#e8923e" stroke-width="2.7"/>
<circle cx="527.0" cy="462.6" r="12.3" fill="none" stroke="#e8923e" stroke-width="2.7"/>
<circle cx="527.0" cy="462.9" r="12.3" fill="none" stroke="#e8923e" stroke-width="2.7"/>
<circle cx="527.0" cy="463.2" r="12.3" fill="none" stroke="#e8923e" stroke-width="2.7"/>
<circle cx="527.0" cy="463.2" r="12.3" fill="none" stroke="#e8923e" stroke-width="2.7"/>
<circle cx="527.0" cy="463.2" r="12.3" fill="none" stroke="#e8923e" stroke-width="2.7"/>
<circle cx="527.0" cy="463.5" r="12.3" fill="none" stroke="#e8923e" stroke-width="2.7"/>
<circle cx="527.0" cy="463.5" r="12.3" fill="none" stroke="#e8923e" stroke-width="2.7"/>
<circle cx="527.0" cy="463.5" r="12.3" fill="none" stroke="#e8923e" stroke-width="2.7"/>
<circle cx="527.0" cy="463.5" r="12.3" fill="none" stroke="#e8923e" stroke-width="2.7"/>
<circle cx="527.0" cy="463.8" r="12.3" fill="none" stroke="#e8923e" stroke-width="2.7"/>
<circle cx="527.0" cy="464.1" r="12.3" fill="none" stroke="#e8923e" stroke-width="2.7"/>
<circle cx="527.0" cy="464.1" r="12.3" fill="none" stroke="#e8923e" stroke-width="2.7"/>
<circle cx="527.0" cy="464.1" r="12.3" fill="none" stroke="#e8923e" stroke-width="2.7"/>
<circle cx="527.0" cy="464.4" r="12.3" fill="none" stroke="#e8923e" stroke-width="2.7"/>
<circle cx="527.0" cy="464.4" r="12.3" fill="none" stroke="#e8923e" stroke-width="2.7"/>
<circle cx="527.0" cy="464.7" r="12.3" fill="none" stroke="#e8923e" stroke-width="2.7"/>
<circle cx="527.0" cy="464.7" r="12.3" fill="none" stroke="#e8923e" stroke-width="2.7"/>
<circle cx="527.0" cy="464.7" r="12.3" fill="none" stroke="#e8923e" stroke-width="2.7"/>
<circle cx="527.0" cy="464.7" r="12.3" fill="none" stroke="#e8923e" stroke-width="2.7"/>
<circle cx="527.0" cy="464.7" r="12.3" fill="none" stroke="#e8923e" stroke-width="2.7"/>
<circle cx="527.0" cy="464.7" r="12.3" fill="none" stroke="#e8923e" stroke-width="2.7"/>
<circle cx="527.0" cy="464.7" r="12.3" fill="none" stroke="#e8923e" stroke-width="2.7"/>
<circle cx="527.0" cy="464.7" r="12.3" fill="none" stroke="#e8923e" stroke-width="2.7"/>
<circle cx="527.0" cy="464.7" r="12.3" fill="none" stroke="#e8923e" stroke-width="2.7"/>
<circle cx="527.0" cy="464.7" r="12.3" fill="none" stroke="#e8923e" stroke-width="2.7"/>
<circle cx="527.0" cy="464.7" r="12.3" fill="none" stroke="#e8923e" stroke-width="2.7"/>
<circle cx="527.0" cy="464.7" r="12.3" fill="none" stroke="#e8923e" stroke-width="2.7"/>
<circle cx="527.0" cy="464.7" r="12.3" fill="none" stroke="#e8923e" stroke-width="2.7"/>
<circle cx="527.0" cy="464.7" r="12.3" fill="none" stroke="#e8923e" stroke-width="2.7"/>
<circle cx="527.0" cy="464.7" r="12.3" fill="none" stroke="#e8923e" stroke-width="2.7"/>
<circle cx="527.0" cy="464.7" r="12.3" fill="none" stroke="#e8923e" stroke-width="2.7"/>
<circle cx="603.7" cy="265.3" r="11.8" fill="none" stroke="#e8923e" stroke-width="2.7"/>
<circle cx="603.7" cy="294.0" r="11.8" fill="none" stroke="#e8923e" stroke-width="2.7"/>
<circle cx="603.7" cy="298.2" r="11.8" fill="none" stroke="#e8923e" stroke-width="2.7"/>
<circle cx="603.7" cy="307.0" r="11.8" fill="none" stroke="#e8923e" stroke-width="2.7"/>
<circle cx="603.7" cy="327.5" r="11.8" fill="none" stroke="#e8923e" stroke-width="2.7"/>
<circle cx="603.7" cy="330.2" r="11.8" fill="none" stroke="#e8923e" stroke-width="2.7"/>
<circle cx="603.7" cy="344.7" r="11.8" fill="none" stroke="#e8923e" stroke-width="2.7"/>
<circle cx="603.7" cy="347.1" r="11.8" fill="none" stroke="#e8923e" stroke-width="2.7"/>
<circle cx="603.7" cy="350.1" r="11.8" fill="none" stroke="#e8923e" stroke-width="2.7"/>
<circle cx="603.7" cy="353.1" r="11.8" fill="none" stroke="#e8923e" stroke-width="2.7"/>
<circle cx="603.7" cy="357.6" r="11.8" fill="none" stroke="#e8923e" stroke-width="2.7"/>
<circle cx="603.7" cy="360.0" r="11.8" fill="none" stroke="#e8923e" stroke-width="2.7"/>
<circle cx="603.7" cy="368.2" r="11.8" fill="none" stroke="#e8923e" stroke-width="2.7"/>
<circle cx="603.7" cy="373.9" r="11.8" fill="none" stroke="#e8923e" stroke-width="2.7"/>
<circle cx="603.7" cy="379.0" r="12.3" fill="none" stroke="#e8923e" stroke-width="2.7"/>
<circle cx="603.7" cy="379.6" r="12.3" fill="none" stroke="#e8923e" stroke-width="2.7"/>
<circle cx="603.7" cy="385.1" r="12.3" fill="none" stroke="#e8923e" stroke-width="2.7"/>
<circle cx="603.7" cy="385.4" r="12.3" fill="none" stroke="#e8923e" stroke-width="2.7"/>
<circle cx="603.7" cy="386.0" r="12.3" fill="none" stroke="#e8923e" stroke-width="2.7"/>
<circle cx="603.7" cy="388.1" r="12.3" fill="none" stroke="#e8923e" stroke-width="2.7"/>
<circle cx="603.7" cy="388.7" r="12.3" fill="none" stroke="#e8923e" stroke-width="2.7"/>
<circle cx="603.7" cy="389.3" r="12.3" fill="none" stroke="#e8923e" stroke-width="2.7"/>
<circle cx="603.7" cy="390.8" r="12.3" fill="none" stroke="#e8923e" stroke-width="2.7"/>
<circle cx="603.7" cy="392.3" r="12.3" fill="none" stroke="#e8923e" stroke-width="2.7"/>
<circle cx="603.7" cy="393.5" r="12.3" fill="none" stroke="#e8923e" stroke-width="2.7"/>
<circle cx="603.7" cy="393.8" r="12.3" fill="none" stroke="#e8923e" stroke-width="2.7"/>
<circle cx="603.7" cy="395.9" r="12.3" fill="none" stroke="#e8923e" stroke-width="2.7"/>
<circle cx="603.7" cy="396.8" r="12.3" fill="none" stroke="#e8923e" stroke-width="2.7"/>
<circle cx="603.7" cy="397.1" r="12.3" fill="none" stroke="#e8923e" stroke-width="2.7"/>
<circle cx="603.7" cy="397.7" r="12.3" fill="none" stroke="#e8923e" stroke-width="2.7"/>
<circle cx="603.7" cy="398.3" r="12.3" fill="none" stroke="#e8923e" stroke-width="2.7"/>
<circle cx="603.7" cy="401.4" r="12.3" fill="none" stroke="#e8923e" stroke-width="2.7"/>
<circle cx="603.7" cy="402.3" r="12.3" fill="none" stroke="#e8923e" stroke-width="2.7"/>
<circle cx="603.7" cy="403.5" r="12.3" fill="none" stroke="#e8923e" stroke-width="2.7"/>
<circle cx="603.7" cy="405.0" r="12.3" fill="none" stroke="#e8923e" stroke-width="2.7"/>
<circle cx="603.7" cy="410.4" r="12.3" fill="none" stroke="#e8923e" stroke-width="2.7"/>
<circle cx="603.7" cy="413.7" r="12.3" fill="none" stroke="#e8923e" stroke-width="2.7"/>
<circle cx="603.7" cy="414.0" r="12.3" fill="none" stroke="#e8923e" stroke-width="2.7"/>
<circle cx="603.7" cy="415.5" r="12.3" fill="none" stroke="#e8923e" stroke-width="2.7"/>
<circle cx="603.7" cy="419.2" r="12.3" fill="none" stroke="#e8923e" stroke-width="2.7"/>
<circle cx="603.7" cy="419.5" r="12.3" fill="none" stroke="#e8923e" stroke-width="2.7"/>
<circle cx="603.7" cy="419.5" r="12.3" fill="none" stroke="#e8923e" stroke-width="2.7"/>
<circle cx="603.7" cy="419.8" r="12.3" fill="none" stroke="#e8923e" stroke-width="2.7"/>
<circle cx="603.7" cy="420.7" r="12.3" fill="none" stroke="#e8923e" stroke-width="2.7"/>
<circle cx="603.7" cy="422.2" r="12.3" fill="none" stroke="#e8923e" stroke-width="2.7"/>
<circle cx="603.7" cy="424.0" r="12.3" fill="none" stroke="#e8923e" stroke-width="2.7"/>
<circle cx="603.7" cy="425.5" r="12.3" fill="none" stroke="#e8923e" stroke-width="2.7"/>
<circle cx="603.7" cy="425.8" r="12.3" fill="none" stroke="#e8923e" stroke-width="2.7"/>
<circle cx="603.7" cy="426.7" r="12.3" fill="none" stroke="#e8923e" stroke-width="2.7"/>
<circle cx="603.7" cy="428.5" r="12.3" fill="none" stroke="#e8923e" stroke-width="2.7"/>
<circle cx="603.7" cy="429.1" r="12.3" fill="none" stroke="#e8923e" stroke-width="2.7"/>
<circle cx="603.7" cy="429.7" r="12.3" fill="none" stroke="#e8923e" stroke-width="2.7"/>
<circle cx="603.7" cy="431.5" r="12.3" fill="none" stroke="#e8923e" stroke-width="2.7"/>
<circle cx="603.7" cy="431.5" r="12.3" fill="none" stroke="#e8923e" stroke-width="2.7"/>
<circle cx="603.7" cy="432.1" r="12.3" fill="none" stroke="#e8923e" stroke-width="2.7"/>
<circle cx="603.7" cy="433.6" r="12.3" fill="none" stroke="#e8923e" stroke-width="2.7"/>
<circle cx="603.7" cy="433.6" r="12.3" fill="none" stroke="#e8923e" stroke-width="2.7"/>
<circle cx="603.7" cy="433.9" r="12.3" fill="none" stroke="#e8923e" stroke-width="2.7"/>
<circle cx="603.7" cy="435.7" r="12.3" fill="none" stroke="#e8923e" stroke-width="2.7"/>
<circle cx="603.7" cy="438.2" r="12.3" fill="none" stroke="#e8923e" stroke-width="2.7"/>
<circle cx="603.7" cy="439.1" r="12.3" fill="none" stroke="#e8923e" stroke-width="2.7"/>
<circle cx="603.7" cy="440.6" r="12.3" fill="none" stroke="#e8923e" stroke-width="2.7"/>
<circle cx="603.7" cy="440.9" r="12.3" fill="none" stroke="#e8923e" stroke-width="2.7"/>
<circle cx="603.7" cy="441.2" r="12.3" fill="none" stroke="#e8923e" stroke-width="2.7"/>
<circle cx="603.7" cy="441.8" r="12.3" fill="none" stroke="#e8923e" stroke-width="2.7"/>
<circle cx="603.7" cy="442.7" r="12.3" fill="none" stroke="#e8923e" stroke-width="2.7"/>
<circle cx="603.7" cy="448.7" r="12.3" fill="none" stroke="#e8923e" stroke-width="2.7"/>
<circle cx="603.7" cy="449.0" r="12.3" fill="none" stroke="#e8923e" stroke-width="2.7"/>
<circle cx="603.7" cy="449.3" r="12.3" fill="none" stroke="#e8923e" stroke-width="2.7"/>
<circle cx="603.7" cy="449.3" r="12.3" fill="none" stroke="#e8923e" stroke-width="2.7"/>
<circle cx="603.7" cy="450.5" r="12.3" fill="none" stroke="#e8923e" stroke-width="2.7"/>
<circle cx="603.7" cy="450.8" r="12.3" fill="none" stroke="#e8923e" stroke-width="2.7"/>
<circle cx="603.7" cy="451.1" r="12.3" fill="none" stroke="#e8923e" stroke-width="2.7"/>
<circle cx="603.7" cy="451.4" r="12.3" fill="none" stroke="#e8923e" stroke-width="2.7"/>
<circle cx="603.7" cy="452.3" r="12.3" fill="none" stroke="#e8923e" stroke-width="2.7"/>
<circle cx="603.7" cy="452.3" r="12.3" fill="none" stroke="#e8923e" stroke-width="2.7"/>
<circle cx="603.7" cy="452.9" r="12.3" fill="none" stroke="#e8923e" stroke-width="2.7"/>
<circle cx="603.7" cy="454.4" r="12.3" fill="none" stroke="#e8923e" stroke-width="2.7"/>
<circle cx="603.7" cy="457.5" r="12.3" fill="none" stroke="#e8923e" stroke-width="2.7"/>
<circle cx="603.7" cy="458.1" r="12.3" fill="none" stroke="#e8923e" stroke-width="2.7"/>
<circle cx="603.7" cy="458.4" r="12.3" fill="none" stroke="#e8923e" stroke-width="2.7"/>
<circle cx="603.7" cy="458.4" r="12.3" fill="none" stroke="#e8923e" stroke-width="2.7"/>
<circle cx="603.7" cy="458.7" r="12.3" fill="none" stroke="#e8923e" stroke-width="2.7"/>
<circle cx="603.7" cy="459.3" r="12.3" fill="none" stroke="#e8923e" stroke-width="2.7"/>
<circle cx="603.7" cy="459.6" r="12.3" fill="none" stroke="#e8923e" stroke-width="2.7"/>
<circle cx="603.7" cy="459.6" r="12.3" fill="none" stroke="#e8923e" stroke-width="2.7"/>
<circle cx="603.7" cy="459.9" r="12.3" fill="none" stroke="#e8923e" stroke-width="2.7"/>
<circle cx="603.7" cy="460.2" r="12.3" fill="none" stroke="#e8923e" stroke-width="2.7"/>
<circle cx="603.7" cy="460.5" r="12.3" fill="none" stroke="#e8923e" stroke-width="2.7"/>
<circle cx="603.7" cy="460.5" r="12.3" fill="none" stroke="#e8923e" stroke-width="2.7"/>
<circle cx="603.7" cy="460.8" r="12.3" fill="none" stroke="#e8923e" stroke-width="2.7"/>
<circle cx="603.7" cy="460.8" r="12.3" fill="none" stroke="#e8923e" stroke-width="2.7"/>
<circle cx="603.7" cy="460.8" r="12.3" fill="none" stroke="#e8923e" stroke-width="2.7"/>
<circle cx="603.7" cy="461.4" r="12.3" fill="none" stroke="#e8923e" stroke-width="2.7"/>
<circle cx="603.7" cy="462.0" r="12.3" fill="none" stroke="#e8923e" stroke-width="2.7"/>
<circle cx="603.7" cy="462.3" r="12.3" fill="none" stroke="#e8923e" stroke-width="2.7"/>
<circle cx="603.7" cy="462.3" r="12.3" fill="none" stroke="#e8923e" stroke-width="2.7"/>
<circle cx="603.7" cy="462.3" r="12.3" fill="none" stroke="#e8923e" stroke-width="2.7"/>
<circle cx="603.7" cy="462.6" r="12.3" fill="none" stroke="#e8923e" stroke-width="2.7"/>
<circle cx="603.7" cy="462.9" r="12.3" fill="none" stroke="#e8923e" stroke-width="2.7"/>
<circle cx="603.7" cy="462.9" r="12.3" fill="none" stroke="#e8923e" stroke-width="2.7"/>
<circle cx="603.7" cy="463.5" r="12.3" fill="none" stroke="#e8923e" stroke-width="2.7"/>
<circle cx="603.7" cy="463.5" r="12.3" fill="none" stroke="#e8923e" stroke-width="2.7"/>
<circle cx="603.7" cy="463.8" r="12.3" fill="none" stroke="#e8923e" stroke-width="2.7"/>
<circle cx="603.7" cy="464.1" r="12.3" fill="none" stroke="#e8923e" stroke-width="2.7"/>
<circle cx="603.7" cy="464.1" r="12.3" fill="none" stroke="#e8923e" stroke-width="2.7"/>
<circle cx="603.7" cy="464.4" r="12.3" fill="none" stroke="#e8923e" stroke-width="2.7"/>
<circle cx="603.7" cy="464.4" r="12.3" fill="none" stroke="#e8923e" stroke-width="2.7"/>
<circle cx="603.7" cy="464.4" r="12.3" fill="none" stroke="#e8923e" stroke-width="2.7"/>
<circle cx="603.7" cy="464.7" r="12.3" fill="none" stroke="#e8923e" stroke-width="2.7"/>
<circle cx="603.7" cy="464.7" r="12.3" fill="none" stroke="#e8923e" stroke-width="2.7"/>
<circle cx="603.7" cy="464.7" r="12.3" fill="none" stroke="#e8923e" stroke-width="2.7"/>
<circle cx="603.7" cy="464.7" r="12.3" fill="none" stroke="#e8923e" stroke-width="2.7"/>
<circle cx="603.7" cy="464.7" r="12.3" fill="none" stroke="#e8923e" stroke-width="2.7"/>
<circle cx="603.7" cy="464.7" r="12.3" fill="none" stroke="#e8923e" stroke-width="2.7"/>
<circle cx="603.7" cy="464.7" r="12.3" fill="none" stroke="#e8923e" stroke-width="2.7"/>
<circle cx="603.7" cy="464.7" r="12.3" fill="none" stroke="#e8923e" stroke-width="2.7"/>
<circle cx="603.7" cy="464.7" r="12.3" fill="none" stroke="#e8923e" stroke-width="2.7"/>
<circle cx="603.7" cy="464.7" r="12.3" fill="none" stroke="#e8923e" stroke-width="2.7"/>
<circle cx="603.7" cy="464.7" r="12.3" fill="none" stroke="#e8923e" stroke-width="2.7"/>
<circle cx="603.7" cy="464.7" r="12.3" fill="none" stroke="#e8923e" stroke-width="2.7"/>
<circle cx="679.7" cy="295.2" r="11.8" fill="none" stroke="#e8923e" stroke-width="2.7"/>
<circle cx="679.7" cy="301.8" r="11.8" fill="none" stroke="#e8923e" stroke-width="2.7"/>
<circle cx="679.7" cy="301.8" r="11.8" fill="none" stroke="#e8923e" stroke-width="2.7"/>
<circle cx="679.7" cy="310.0" r="11.8" fill="none" stroke="#e8923e" stroke-width="2.7"/>
<circle cx="679.7" cy="313.9" r="11.8" fill="none" stroke="#e8923e" stroke-width="2.7"/>
<circle cx="679.7" cy="316.6" r="11.8" fill="none" stroke="#e8923e" stroke-width="2.7"/>
<circle cx="679.7" cy="320.5" r="11.8" fill="none" stroke="#e8923e" stroke-width="2.7"/>
<circle cx="679.7" cy="324.5" r="11.8" fill="none" stroke="#e8923e" stroke-width="2.7"/>
<circle cx="679.7" cy="329.0" r="11.8" fill="none" stroke="#e8923e" stroke-width="2.7"/>
<circle cx="679.7" cy="333.2" r="11.8" fill="none" stroke="#e8923e" stroke-width="2.7"/>
<circle cx="679.7" cy="338.0" r="11.8" fill="none" stroke="#e8923e" stroke-width="2.7"/>
<circle cx="679.7" cy="350.1" r="11.8" fill="none" stroke="#e8923e" stroke-width="2.7"/>
<circle cx="679.7" cy="351.9" r="11.8" fill="none" stroke="#e8923e" stroke-width="2.7"/>
<circle cx="679.7" cy="353.1" r="11.8" fill="none" stroke="#e8923e" stroke-width="2.7"/>
<circle cx="679.7" cy="357.6" r="11.8" fill="none" stroke="#e8923e" stroke-width="2.7"/>
<circle cx="679.7" cy="358.5" r="11.8" fill="none" stroke="#e8923e" stroke-width="2.7"/>
<circle cx="679.7" cy="362.2" r="11.8" fill="none" stroke="#e8923e" stroke-width="2.7"/>
<circle cx="679.7" cy="367.6" r="11.8" fill="none" stroke="#e8923e" stroke-width="2.7"/>
<circle cx="679.7" cy="367.9" r="11.8" fill="none" stroke="#e8923e" stroke-width="2.7"/>
<circle cx="679.7" cy="370.3" r="11.8" fill="none" stroke="#e8923e" stroke-width="2.7"/>
<circle cx="679.7" cy="374.8" r="12.3" fill="none" stroke="#e8923e" stroke-width="2.7"/>
<circle cx="679.7" cy="379.0" r="12.3" fill="none" stroke="#e8923e" stroke-width="2.7"/>
<circle cx="679.7" cy="379.6" r="12.3" fill="none" stroke="#e8923e" stroke-width="2.7"/>
<circle cx="679.7" cy="380.0" r="12.3" fill="none" stroke="#e8923e" stroke-width="2.7"/>
<circle cx="679.7" cy="382.1" r="12.3" fill="none" stroke="#e8923e" stroke-width="2.7"/>
<circle cx="679.7" cy="384.5" r="12.3" fill="none" stroke="#e8923e" stroke-width="2.7"/>
<circle cx="679.7" cy="384.5" r="12.3" fill="none" stroke="#e8923e" stroke-width="2.7"/>
<circle cx="679.7" cy="385.7" r="12.3" fill="none" stroke="#e8923e" stroke-width="2.7"/>
<circle cx="679.7" cy="387.8" r="12.3" fill="none" stroke="#e8923e" stroke-width="2.7"/>
<circle cx="679.7" cy="388.1" r="12.3" fill="none" stroke="#e8923e" stroke-width="2.7"/>
<circle cx="679.7" cy="388.7" r="12.3" fill="none" stroke="#e8923e" stroke-width="2.7"/>
<circle cx="679.7" cy="390.2" r="12.3" fill="none" stroke="#e8923e" stroke-width="2.7"/>
<circle cx="679.7" cy="390.5" r="12.3" fill="none" stroke="#e8923e" stroke-width="2.7"/>
<circle cx="679.7" cy="397.4" r="12.3" fill="none" stroke="#e8923e" stroke-width="2.7"/>
<circle cx="679.7" cy="398.0" r="12.3" fill="none" stroke="#e8923e" stroke-width="2.7"/>
<circle cx="679.7" cy="403.8" r="12.3" fill="none" stroke="#e8923e" stroke-width="2.7"/>
<circle cx="679.7" cy="407.4" r="12.3" fill="none" stroke="#e8923e" stroke-width="2.7"/>
<circle cx="679.7" cy="409.8" r="12.3" fill="none" stroke="#e8923e" stroke-width="2.7"/>
<circle cx="679.7" cy="411.9" r="12.3" fill="none" stroke="#e8923e" stroke-width="2.7"/>
<circle cx="679.7" cy="414.3" r="12.3" fill="none" stroke="#e8923e" stroke-width="2.7"/>
<circle cx="679.7" cy="414.9" r="12.3" fill="none" stroke="#e8923e" stroke-width="2.7"/>
<circle cx="679.7" cy="415.5" r="12.3" fill="none" stroke="#e8923e" stroke-width="2.7"/>
<circle cx="679.7" cy="416.1" r="12.3" fill="none" stroke="#e8923e" stroke-width="2.7"/>
<circle cx="679.7" cy="416.4" r="12.3" fill="none" stroke="#e8923e" stroke-width="2.7"/>
<circle cx="679.7" cy="417.0" r="12.3" fill="none" stroke="#e8923e" stroke-width="2.7"/>
<circle cx="679.7" cy="419.8" r="12.3" fill="none" stroke="#e8923e" stroke-width="2.7"/>
<circle cx="679.7" cy="420.1" r="12.3" fill="none" stroke="#e8923e" stroke-width="2.7"/>
<circle cx="679.7" cy="420.7" r="12.3" fill="none" stroke="#e8923e" stroke-width="2.7"/>
<circle cx="679.7" cy="421.9" r="12.3" fill="none" stroke="#e8923e" stroke-width="2.7"/>
<circle cx="679.7" cy="424.9" r="12.3" fill="none" stroke="#e8923e" stroke-width="2.7"/>
<circle cx="679.7" cy="426.7" r="12.3" fill="none" stroke="#e8923e" stroke-width="2.7"/>
<circle cx="679.7" cy="432.7" r="12.3" fill="none" stroke="#e8923e" stroke-width="2.7"/>
<circle cx="679.7" cy="432.7" r="12.3" fill="none" stroke="#e8923e" stroke-width="2.7"/>
<circle cx="679.7" cy="433.0" r="12.3" fill="none" stroke="#e8923e" stroke-width="2.7"/>
<circle cx="679.7" cy="433.6" r="12.3" fill="none" stroke="#e8923e" stroke-width="2.7"/>
<circle cx="679.7" cy="436.3" r="12.3" fill="none" stroke="#e8923e" stroke-width="2.7"/>
<circle cx="679.7" cy="440.0" r="12.3" fill="none" stroke="#e8923e" stroke-width="2.7"/>
<circle cx="679.7" cy="440.3" r="12.3" fill="none" stroke="#e8923e" stroke-width="2.7"/>
<circle cx="679.7" cy="442.4" r="12.3" fill="none" stroke="#e8923e" stroke-width="2.7"/>
<circle cx="679.7" cy="444.5" r="12.3" fill="none" stroke="#e8923e" stroke-width="2.7"/>
<circle cx="679.7" cy="445.4" r="12.3" fill="none" stroke="#e8923e" stroke-width="2.7"/>
<circle cx="679.7" cy="446.3" r="12.3" fill="none" stroke="#e8923e" stroke-width="2.7"/>
<circle cx="679.7" cy="447.2" r="12.3" fill="none" stroke="#e8923e" stroke-width="2.7"/>
<circle cx="679.7" cy="449.0" r="12.3" fill="none" stroke="#e8923e" stroke-width="2.7"/>
<circle cx="679.7" cy="450.5" r="12.3" fill="none" stroke="#e8923e" stroke-width="2.7"/>
<circle cx="679.7" cy="450.5" r="12.3" fill="none" stroke="#e8923e" stroke-width="2.7"/>
<circle cx="679.7" cy="450.8" r="12.3" fill="none" stroke="#e8923e" stroke-width="2.7"/>
<circle cx="679.7" cy="451.1" r="12.3" fill="none" stroke="#e8923e" stroke-width="2.7"/>
<circle cx="679.7" cy="451.4" r="12.3" fill="none" stroke="#e8923e" stroke-width="2.7"/>
<circle cx="679.7" cy="452.0" r="12.3" fill="none" stroke="#e8923e" stroke-width="2.7"/>
<circle cx="679.7" cy="452.0" r="12.3" fill="none" stroke="#e8923e" stroke-width="2.7"/>
<circle cx="679.7" cy="452.9" r="12.3" fill="none" stroke="#e8923e" stroke-width="2.7"/>
<circle cx="679.7" cy="452.9" r="12.3" fill="none" stroke="#e8923e" stroke-width="2.7"/>
<circle cx="679.7" cy="455.0" r="12.3" fill="none" stroke="#e8923e" stroke-width="2.7"/>
<circle cx="679.7" cy="455.0" r="12.3" fill="none" stroke="#e8923e" stroke-width="2.7"/>
<circle cx="679.7" cy="455.4" r="12.3" fill="none" stroke="#e8923e" stroke-width="2.7"/>
<circle cx="679.7" cy="455.7" r="12.3" fill="none" stroke="#e8923e" stroke-width="2.7"/>
<circle cx="679.7" cy="456.0" r="12.3" fill="none" stroke="#e8923e" stroke-width="2.7"/>
<circle cx="679.7" cy="456.0" r="12.3" fill="none" stroke="#e8923e" stroke-width="2.7"/>
<circle cx="679.7" cy="456.3" r="12.3" fill="none" stroke="#e8923e" stroke-width="2.7"/>
<circle cx="679.7" cy="456.6" r="12.3" fill="none" stroke="#e8923e" stroke-width="2.7"/>
<circle cx="679.7" cy="458.4" r="12.3" fill="none" stroke="#e8923e" stroke-width="2.7"/>
<circle cx="679.7" cy="459.6" r="12.3" fill="none" stroke="#e8923e" stroke-width="2.7"/>
<circle cx="679.7" cy="459.9" r="12.3" fill="none" stroke="#e8923e" stroke-width="2.7"/>
<circle cx="679.7" cy="460.2" r="12.3" fill="none" stroke="#e8923e" stroke-width="2.7"/>
<circle cx="679.7" cy="460.2" r="12.3" fill="none" stroke="#e8923e" stroke-width="2.7"/>
<circle cx="679.7" cy="460.5" r="12.3" fill="none" stroke="#e8923e" stroke-width="2.7"/>
<circle cx="679.7" cy="460.8" r="12.3" fill="none" stroke="#e8923e" stroke-width="2.7"/>
<circle cx="679.7" cy="461.4" r="12.3" fill="none" stroke="#e8923e" stroke-width="2.7"/>
<circle cx="679.7" cy="461.4" r="12.3" fill="none" stroke="#e8923e" stroke-width="2.7"/>
<circle cx="679.7" cy="462.0" r="12.3" fill="none" stroke="#e8923e" stroke-width="2.7"/>
<circle cx="679.7" cy="462.3" r="12.3" fill="none" stroke="#e8923e" stroke-width="2.7"/>
<circle cx="679.7" cy="462.3" r="12.3" fill="none" stroke="#e8923e" stroke-width="2.7"/>
<circle cx="679.7" cy="462.3" r="12.3" fill="none" stroke="#e8923e" stroke-width="2.7"/>
<circle cx="679.7" cy="462.3" r="12.3" fill="none" stroke="#e8923e" stroke-width="2.7"/>
<circle cx="679.7" cy="462.3" r="12.3" fill="none" stroke="#e8923e" stroke-width="2.7"/>
<circle cx="679.7" cy="462.6" r="12.3" fill="none" stroke="#e8923e" stroke-width="2.7"/>
<circle cx="679.7" cy="462.6" r="12.3" fill="none" stroke="#e8923e" stroke-width="2.7"/>
<circle cx="679.7" cy="462.9" r="12.3" fill="none" stroke="#e8923e" stroke-width="2.7"/>
<circle cx="679.7" cy="462.9" r="12.3" fill="none" stroke="#e8923e" stroke-width="2.7"/>
<circle cx="679.7" cy="463.2" r="12.3" fill="none" stroke="#e8923e" stroke-width="2.7"/>
<circle cx="679.7" cy="463.2" r="12.3" fill="none" stroke="#e8923e" stroke-width="2.7"/>
<circle cx="679.7" cy="463.2" r="12.3" fill="none" stroke="#e8923e" stroke-width="2.7"/>
<circle cx="679.7" cy="463.2" r="12.3" fill="none" stroke="#e8923e" stroke-width="2.7"/>
<circle cx="679.7" cy="463.8" r="12.3" fill="none" stroke="#e8923e" stroke-width="2.7"/>
<circle cx="679.7" cy="463.8" r="12.3" fill="none" stroke="#e8923e" stroke-width="2.7"/>
<circle cx="679.7" cy="463.8" r="12.3" fill="none" stroke="#e8923e" stroke-width="2.7"/>
<circle cx="679.7" cy="463.8" r="12.3" fill="none" stroke="#e8923e" stroke-width="2.7"/>
<circle cx="679.7" cy="464.1" r="12.3" fill="none" stroke="#e8923e" stroke-width="2.7"/>
<circle cx="679.7" cy="464.1" r="12.3" fill="none" stroke="#e8923e" stroke-width="2.7"/>
<circle cx="679.7" cy="464.4" r="12.3" fill="none" stroke="#e8923e" stroke-width="2.7"/>
<circle cx="679.7" cy="464.4" r="12.3" fill="none" stroke="#e8923e" stroke-width="2.7"/>
<circle cx="679.7" cy="464.4" r="12.3" fill="none" stroke="#e8923e" stroke-width="2.7"/>
<circle cx="679.7" cy="464.4" r="12.3" fill="none" stroke="#e8923e" stroke-width="2.7"/>
<circle cx="679.7" cy="464.4" r="12.3" fill="none" stroke="#e8923e" stroke-width="2.7"/>
<circle cx="679.7" cy="464.7" r="12.3" fill="none" stroke="#e8923e" stroke-width="2.7"/>
<circle cx="679.7" cy="464.7" r="12.3" fill="none" stroke="#e8923e" stroke-width="2.7"/>
<circle cx="679.7" cy="464.7" r="12.3" fill="none" stroke="#e8923e" stroke-width="2.7"/>
<circle cx="679.7" cy="464.7" r="12.3" fill="none" stroke="#e8923e" stroke-width="2.7"/>
<circle cx="679.7" cy="464.7" r="12.3" fill="none" stroke="#e8923e" stroke-width="2.7"/>
<circle cx="679.7" cy="464.7" r="12.3" fill="none" stroke="#e8923e" stroke-width="2.7"/>
<circle cx="679.7" cy="464.7" r="12.3" fill="none" stroke="#e8923e" stroke-width="2.7"/>
<circle cx="679.7" cy="464.7" r="12.3" fill="none" stroke="#e8923e" stroke-width="2.7"/>
<circle cx="679.7" cy="464.7" r="12.3" fill="none" stroke="#e8923e" stroke-width="2.7"/>
<circle cx="679.7" cy="464.7" r="12.3" fill="none" stroke="#e8923e" stroke-width="2.7"/>
<circle cx="679.7" cy="464.7" r="12.3" fill="none" stroke="#e8923e" stroke-width="2.7"/>
<circle cx="755.4" cy="171.2" r="11.8" fill="none" stroke="#e8923e" stroke-width="2.7"/>
<circle cx="755.4" cy="208.9" r="11.8" fill="none" stroke="#e8923e" stroke-width="2.7"/>
<circle cx="755.4" cy="256.6" r="11.8" fill="none" stroke="#e8923e" stroke-width="2.7"/>
<circle cx="755.4" cy="313.6" r="11.8" fill="none" stroke="#e8923e" stroke-width="2.7"/>
<circle cx="755.4" cy="313.6" r="11.8" fill="none" stroke="#e8923e" stroke-width="2.7"/>
<circle cx="755.4" cy="317.2" r="11.8" fill="none" stroke="#e8923e" stroke-width="2.7"/>
<circle cx="755.4" cy="319.9" r="11.8" fill="none" stroke="#e8923e" stroke-width="2.7"/>
<circle cx="755.4" cy="330.5" r="11.8" fill="none" stroke="#e8923e" stroke-width="2.7"/>
<circle cx="755.4" cy="345.9" r="11.8" fill="none" stroke="#e8923e" stroke-width="2.7"/>
<circle cx="755.4" cy="347.1" r="11.8" fill="none" stroke="#e8923e" stroke-width="2.7"/>
<circle cx="755.4" cy="356.1" r="11.8" fill="none" stroke="#e8923e" stroke-width="2.7"/>
<circle cx="755.4" cy="362.2" r="11.8" fill="none" stroke="#e8923e" stroke-width="2.7"/>
<circle cx="755.4" cy="374.5" r="12.3" fill="none" stroke="#e8923e" stroke-width="2.7"/>
<circle cx="755.4" cy="374.5" r="12.3" fill="none" stroke="#e8923e" stroke-width="2.7"/>
<circle cx="755.4" cy="376.6" r="12.3" fill="none" stroke="#e8923e" stroke-width="2.7"/>
<circle cx="755.4" cy="378.7" r="12.3" fill="none" stroke="#e8923e" stroke-width="2.7"/>
<circle cx="755.4" cy="379.3" r="12.3" fill="none" stroke="#e8923e" stroke-width="2.7"/>
<circle cx="755.4" cy="380.9" r="12.3" fill="none" stroke="#e8923e" stroke-width="2.7"/>
<circle cx="755.4" cy="380.9" r="12.3" fill="none" stroke="#e8923e" stroke-width="2.7"/>
<circle cx="755.4" cy="382.1" r="12.3" fill="none" stroke="#e8923e" stroke-width="2.7"/>
<circle cx="755.4" cy="382.1" r="12.3" fill="none" stroke="#e8923e" stroke-width="2.7"/>
<circle cx="755.4" cy="384.2" r="12.3" fill="none" stroke="#e8923e" stroke-width="2.7"/>
<circle cx="755.4" cy="384.5" r="12.3" fill="none" stroke="#e8923e" stroke-width="2.7"/>
<circle cx="755.4" cy="387.5" r="12.3" fill="none" stroke="#e8923e" stroke-width="2.7"/>
<circle cx="755.4" cy="390.2" r="12.3" fill="none" stroke="#e8923e" stroke-width="2.7"/>
<circle cx="755.4" cy="391.1" r="12.3" fill="none" stroke="#e8923e" stroke-width="2.7"/>
<circle cx="755.4" cy="391.1" r="12.3" fill="none" stroke="#e8923e" stroke-width="2.7"/>
<circle cx="755.4" cy="392.3" r="12.3" fill="none" stroke="#e8923e" stroke-width="2.7"/>
<circle cx="755.4" cy="392.3" r="12.3" fill="none" stroke="#e8923e" stroke-width="2.7"/>
<circle cx="755.4" cy="394.7" r="12.3" fill="none" stroke="#e8923e" stroke-width="2.7"/>
<circle cx="755.4" cy="396.5" r="12.3" fill="none" stroke="#e8923e" stroke-width="2.7"/>
<circle cx="755.4" cy="399.0" r="12.3" fill="none" stroke="#e8923e" stroke-width="2.7"/>
<circle cx="755.4" cy="400.2" r="12.3" fill="none" stroke="#e8923e" stroke-width="2.7"/>
<circle cx="755.4" cy="400.5" r="12.3" fill="none" stroke="#e8923e" stroke-width="2.7"/>
<circle cx="755.4" cy="401.7" r="12.3" fill="none" stroke="#e8923e" stroke-width="2.7"/>
<circle cx="755.4" cy="413.4" r="12.3" fill="none" stroke="#e8923e" stroke-width="2.7"/>
<circle cx="755.4" cy="413.7" r="12.3" fill="none" stroke="#e8923e" stroke-width="2.7"/>
<circle cx="755.4" cy="414.6" r="12.3" fill="none" stroke="#e8923e" stroke-width="2.7"/>
<circle cx="755.4" cy="415.5" r="12.3" fill="none" stroke="#e8923e" stroke-width="2.7"/>
<circle cx="755.4" cy="415.8" r="12.3" fill="none" stroke="#e8923e" stroke-width="2.7"/>
<circle cx="755.4" cy="415.8" r="12.3" fill="none" stroke="#e8923e" stroke-width="2.7"/>
<circle cx="755.4" cy="416.4" r="12.3" fill="none" stroke="#e8923e" stroke-width="2.7"/>
<circle cx="755.4" cy="417.0" r="12.3" fill="none" stroke="#e8923e" stroke-width="2.7"/>
<circle cx="755.4" cy="419.5" r="12.3" fill="none" stroke="#e8923e" stroke-width="2.7"/>
<circle cx="755.4" cy="421.9" r="12.3" fill="none" stroke="#e8923e" stroke-width="2.7"/>
<circle cx="755.4" cy="421.9" r="12.3" fill="none" stroke="#e8923e" stroke-width="2.7"/>
<circle cx="755.4" cy="425.5" r="12.3" fill="none" stroke="#e8923e" stroke-width="2.7"/>
<circle cx="755.4" cy="425.5" r="12.3" fill="none" stroke="#e8923e" stroke-width="2.7"/>
<circle cx="755.4" cy="429.7" r="12.3" fill="none" stroke="#e8923e" stroke-width="2.7"/>
<circle cx="755.4" cy="432.7" r="12.3" fill="none" stroke="#e8923e" stroke-width="2.7"/>
<circle cx="755.4" cy="433.0" r="12.3" fill="none" stroke="#e8923e" stroke-width="2.7"/>
<circle cx="755.4" cy="433.6" r="12.3" fill="none" stroke="#e8923e" stroke-width="2.7"/>
<circle cx="755.4" cy="434.8" r="12.3" fill="none" stroke="#e8923e" stroke-width="2.7"/>
<circle cx="755.4" cy="435.1" r="12.3" fill="none" stroke="#e8923e" stroke-width="2.7"/>
<circle cx="755.4" cy="437.6" r="12.3" fill="none" stroke="#e8923e" stroke-width="2.7"/>
<circle cx="755.4" cy="438.5" r="12.3" fill="none" stroke="#e8923e" stroke-width="2.7"/>
<circle cx="755.4" cy="439.7" r="12.3" fill="none" stroke="#e8923e" stroke-width="2.7"/>
<circle cx="755.4" cy="440.0" r="12.3" fill="none" stroke="#e8923e" stroke-width="2.7"/>
<circle cx="755.4" cy="440.9" r="12.3" fill="none" stroke="#e8923e" stroke-width="2.7"/>
<circle cx="755.4" cy="441.2" r="12.3" fill="none" stroke="#e8923e" stroke-width="2.7"/>
<circle cx="755.4" cy="443.3" r="12.3" fill="none" stroke="#e8923e" stroke-width="2.7"/>
<circle cx="755.4" cy="444.8" r="12.3" fill="none" stroke="#e8923e" stroke-width="2.7"/>
<circle cx="755.4" cy="445.1" r="12.3" fill="none" stroke="#e8923e" stroke-width="2.7"/>
<circle cx="755.4" cy="445.7" r="12.3" fill="none" stroke="#e8923e" stroke-width="2.7"/>
<circle cx="755.4" cy="446.6" r="12.3" fill="none" stroke="#e8923e" stroke-width="2.7"/>
<circle cx="755.4" cy="446.6" r="12.3" fill="none" stroke="#e8923e" stroke-width="2.7"/>
<circle cx="755.4" cy="448.1" r="12.3" fill="none" stroke="#e8923e" stroke-width="2.7"/>
<circle cx="755.4" cy="448.4" r="12.3" fill="none" stroke="#e8923e" stroke-width="2.7"/>
<circle cx="755.4" cy="449.3" r="12.3" fill="none" stroke="#e8923e" stroke-width="2.7"/>
<circle cx="755.4" cy="449.3" r="12.3" fill="none" stroke="#e8923e" stroke-width="2.7"/>
<circle cx="755.4" cy="450.5" r="12.3" fill="none" stroke="#e8923e" stroke-width="2.7"/>
<circle cx="755.4" cy="450.5" r="12.3" fill="none" stroke="#e8923e" stroke-width="2.7"/>
<circle cx="755.4" cy="450.8" r="12.3" fill="none" stroke="#e8923e" stroke-width="2.7"/>
<circle cx="755.4" cy="452.9" r="12.3" fill="none" stroke="#e8923e" stroke-width="2.7"/>
<circle cx="755.4" cy="453.2" r="12.3" fill="none" stroke="#e8923e" stroke-width="2.7"/>
<circle cx="755.4" cy="453.2" r="12.3" fill="none" stroke="#e8923e" stroke-width="2.7"/>
<circle cx="755.4" cy="453.8" r="12.3" fill="none" stroke="#e8923e" stroke-width="2.7"/>
<circle cx="755.4" cy="456.3" r="12.3" fill="none" stroke="#e8923e" stroke-width="2.7"/>
<circle cx="755.4" cy="458.1" r="12.3" fill="none" stroke="#e8923e" stroke-width="2.7"/>
<circle cx="755.4" cy="458.7" r="12.3" fill="none" stroke="#e8923e" stroke-width="2.7"/>
<circle cx="755.4" cy="459.0" r="12.3" fill="none" stroke="#e8923e" stroke-width="2.7"/>
<circle cx="755.4" cy="459.3" r="12.3" fill="none" stroke="#e8923e" stroke-width="2.7"/>
<circle cx="755.4" cy="459.3" r="12.3" fill="none" stroke="#e8923e" stroke-width="2.7"/>
<circle cx="755.4" cy="459.9" r="12.3" fill="none" stroke="#e8923e" stroke-width="2.7"/>
<circle cx="755.4" cy="459.9" r="12.3" fill="none" stroke="#e8923e" stroke-width="2.7"/>
<circle cx="755.4" cy="460.2" r="12.3" fill="none" stroke="#e8923e" stroke-width="2.7"/>
<circle cx="755.4" cy="460.8" r="12.3" fill="none" stroke="#e8923e" stroke-width="2.7"/>
<circle cx="755.4" cy="461.1" r="12.3" fill="none" stroke="#e8923e" stroke-width="2.7"/>
<circle cx="755.4" cy="461.4" r="12.3" fill="none" stroke="#e8923e" stroke-width="2.7"/>
<circle cx="755.4" cy="461.7" r="12.3" fill="none" stroke="#e8923e" stroke-width="2.7"/>
<circle cx="755.4" cy="461.7" r="12.3" fill="none" stroke="#e8923e" stroke-width="2.7"/>
<circle cx="755.4" cy="461.7" r="12.3" fill="none" stroke="#e8923e" stroke-width="2.7"/>
<circle cx="755.4" cy="462.3" r="12.3" fill="none" stroke="#e8923e" stroke-width="2.7"/>
<circle cx="755.4" cy="462.9" r="12.3" fill="none" stroke="#e8923e" stroke-width="2.7"/>
<circle cx="755.4" cy="463.2" r="12.3" fill="none" stroke="#e8923e" stroke-width="2.7"/>
<circle cx="755.4" cy="463.5" r="12.3" fill="none" stroke="#e8923e" stroke-width="2.7"/>
<circle cx="755.4" cy="463.5" r="12.3" fill="none" stroke="#e8923e" stroke-width="2.7"/>
<circle cx="755.4" cy="463.8" r="12.3" fill="none" stroke="#e8923e" stroke-width="2.7"/>
<circle cx="755.4" cy="464.1" r="12.3" fill="none" stroke="#e8923e" stroke-width="2.7"/>
<circle cx="755.4" cy="464.1" r="12.3" fill="none" stroke="#e8923e" stroke-width="2.7"/>
<circle cx="755.4" cy="464.4" r="12.3" fill="none" stroke="#e8923e" stroke-width="2.7"/>
<circle cx="755.4" cy="464.4" r="12.3" fill="none" stroke="#e8923e" stroke-width="2.7"/>
<circle cx="755.4" cy="464.4" r="12.3" fill="none" stroke="#e8923e" stroke-width="2.7"/>
<circle cx="755.4" cy="464.4" r="12.3" fill="none" stroke="#e8923e" stroke-width="2.7"/>
<circle cx="755.4" cy="464.4" r="12.3" fill="none" stroke="#e8923e" stroke-width="2.7"/>
<circle cx="755.4" cy="464.7" r="12.3" fill="none" stroke="#e8923e" stroke-width="2.7"/>
<circle cx="755.4" cy="464.7" r="12.3" fill="none" stroke="#e8923e" stroke-width="2.7"/>
<circle cx="755.4" cy="464.7" r="12.3" fill="none" stroke="#e8923e" stroke-width="2.7"/>
<circle cx="755.4" cy="464.7" r="12.3" fill="none" stroke="#e8923e" stroke-width="2.7"/>
<circle cx="755.4" cy="464.7" r="12.3" fill="none" stroke="#e8923e" stroke-width="2.7"/>
<circle cx="755.4" cy="464.7" r="12.3" fill="none" stroke="#e8923e" stroke-width="2.7"/>
<circle cx="755.4" cy="464.7" r="12.3" fill="none" stroke="#e8923e" stroke-width="2.7"/>
<circle cx="755.4" cy="464.7" r="12.3" fill="none" stroke="#e8923e" stroke-width="2.7"/>
<circle cx="755.4" cy="464.7" r="12.3" fill="none" stroke="#e8923e" stroke-width="2.7"/>
<circle cx="755.4" cy="464.7" r="12.3" fill="none" stroke="#e8923e" stroke-width="2.7"/>
<circle cx="755.4" cy="464.7" r="12.3" fill="none" stroke="#e8923e" stroke-width="2.7"/>
<circle cx="755.4" cy="464.7" r="12.3" fill="none" stroke="#e8923e" stroke-width="2.7"/>
<circle cx="755.4" cy="464.7" r="12.3" fill="none" stroke="#e8923e" stroke-width="2.7"/>
<circle cx="755.4" cy="464.7" r="12.3" fill="none" stroke="#e8923e" stroke-width="2.7"/>
<circle cx="755.4" cy="464.7" r="12.3" fill="none" stroke="#e8923e" stroke-width="2.7"/>
<circle cx="755.4" cy="464.7" r="12.3" fill="none" stroke="#e8923e" stroke-width="2.7"/>
<circle cx="755.4" cy="464.7" r="12.3" fill="none" stroke="#e8923e" stroke-width="2.7"/>
<circle cx="832.6" cy="270.5" r="11.8" fill="none" stroke="#e8923e" stroke-width="2.7"/>
<circle cx="832.6" cy="314.5" r="11.8" fill="none" stroke="#e8923e" stroke-width="2.7"/>
<circle cx="832.6" cy="320.2" r="11.8" fill="none" stroke="#e8923e" stroke-width="2.7"/>
<circle cx="832.6" cy="322.3" r="11.8" fill="none" stroke="#e8923e" stroke-width="2.7"/>
<circle cx="832.6" cy="338.0" r="11.8" fill="none" stroke="#e8923e" stroke-width="2.7"/>
<circle cx="832.6" cy="346.8" r="11.8" fill="none" stroke="#e8923e" stroke-width="2.7"/>
<circle cx="832.6" cy="347.7" r="11.8" fill="none" stroke="#e8923e" stroke-width="2.7"/>
<circle cx="832.6" cy="348.3" r="11.8" fill="none" stroke="#e8923e" stroke-width="2.7"/>
<circle cx="832.6" cy="353.1" r="11.8" fill="none" stroke="#e8923e" stroke-width="2.7"/>
<circle cx="832.6" cy="358.8" r="11.8" fill="none" stroke="#e8923e" stroke-width="2.7"/>
<circle cx="832.6" cy="359.1" r="11.8" fill="none" stroke="#e8923e" stroke-width="2.7"/>
<circle cx="832.6" cy="362.2" r="11.8" fill="none" stroke="#e8923e" stroke-width="2.7"/>
<circle cx="832.6" cy="368.5" r="11.8" fill="none" stroke="#e8923e" stroke-width="2.7"/>
<circle cx="832.6" cy="368.5" r="11.8" fill="none" stroke="#e8923e" stroke-width="2.7"/>
<circle cx="832.6" cy="369.1" r="11.8" fill="none" stroke="#e8923e" stroke-width="2.7"/>
<circle cx="832.6" cy="378.4" r="12.3" fill="none" stroke="#e8923e" stroke-width="2.7"/>
<circle cx="832.6" cy="378.7" r="12.3" fill="none" stroke="#e8923e" stroke-width="2.7"/>
<circle cx="832.6" cy="379.6" r="12.3" fill="none" stroke="#e8923e" stroke-width="2.7"/>
<circle cx="832.6" cy="383.3" r="12.3" fill="none" stroke="#e8923e" stroke-width="2.7"/>
<circle cx="832.6" cy="385.4" r="12.3" fill="none" stroke="#e8923e" stroke-width="2.7"/>
<circle cx="832.6" cy="386.0" r="12.3" fill="none" stroke="#e8923e" stroke-width="2.7"/>
<circle cx="832.6" cy="387.5" r="12.3" fill="none" stroke="#e8923e" stroke-width="2.7"/>
<circle cx="832.6" cy="389.0" r="12.3" fill="none" stroke="#e8923e" stroke-width="2.7"/>
<circle cx="832.6" cy="389.6" r="12.3" fill="none" stroke="#e8923e" stroke-width="2.7"/>
<circle cx="832.6" cy="390.2" r="12.3" fill="none" stroke="#e8923e" stroke-width="2.7"/>
<circle cx="832.6" cy="392.9" r="12.3" fill="none" stroke="#e8923e" stroke-width="2.7"/>
<circle cx="832.6" cy="393.5" r="12.3" fill="none" stroke="#e8923e" stroke-width="2.7"/>
<circle cx="832.6" cy="395.0" r="12.3" fill="none" stroke="#e8923e" stroke-width="2.7"/>
<circle cx="832.6" cy="396.2" r="12.3" fill="none" stroke="#e8923e" stroke-width="2.7"/>
<circle cx="832.6" cy="398.6" r="12.3" fill="none" stroke="#e8923e" stroke-width="2.7"/>
<circle cx="832.6" cy="399.9" r="12.3" fill="none" stroke="#e8923e" stroke-width="2.7"/>
<circle cx="832.6" cy="400.2" r="12.3" fill="none" stroke="#e8923e" stroke-width="2.7"/>
<circle cx="832.6" cy="400.5" r="12.3" fill="none" stroke="#e8923e" stroke-width="2.7"/>
<circle cx="832.6" cy="401.1" r="12.3" fill="none" stroke="#e8923e" stroke-width="2.7"/>
<circle cx="832.6" cy="401.1" r="12.3" fill="none" stroke="#e8923e" stroke-width="2.7"/>
<circle cx="832.6" cy="401.4" r="12.3" fill="none" stroke="#e8923e" stroke-width="2.7"/>
<circle cx="832.6" cy="401.7" r="12.3" fill="none" stroke="#e8923e" stroke-width="2.7"/>
<circle cx="832.6" cy="402.3" r="12.3" fill="none" stroke="#e8923e" stroke-width="2.7"/>
<circle cx="832.6" cy="405.3" r="12.3" fill="none" stroke="#e8923e" stroke-width="2.7"/>
<circle cx="832.6" cy="405.3" r="12.3" fill="none" stroke="#e8923e" stroke-width="2.7"/>
<circle cx="832.6" cy="407.4" r="12.3" fill="none" stroke="#e8923e" stroke-width="2.7"/>
<circle cx="832.6" cy="408.0" r="12.3" fill="none" stroke="#e8923e" stroke-width="2.7"/>
<circle cx="832.6" cy="410.1" r="12.3" fill="none" stroke="#e8923e" stroke-width="2.7"/>
<circle cx="832.6" cy="413.4" r="12.3" fill="none" stroke="#e8923e" stroke-width="2.7"/>
<circle cx="832.6" cy="413.4" r="12.3" fill="none" stroke="#e8923e" stroke-width="2.7"/>
<circle cx="832.6" cy="417.3" r="12.3" fill="none" stroke="#e8923e" stroke-width="2.7"/>
<circle cx="832.6" cy="419.2" r="12.3" fill="none" stroke="#e8923e" stroke-width="2.7"/>
<circle cx="832.6" cy="421.3" r="12.3" fill="none" stroke="#e8923e" stroke-width="2.7"/>
<circle cx="832.6" cy="426.7" r="12.3" fill="none" stroke="#e8923e" stroke-width="2.7"/>
<circle cx="832.6" cy="427.6" r="12.3" fill="none" stroke="#e8923e" stroke-width="2.7"/>
<circle cx="832.6" cy="427.6" r="12.3" fill="none" stroke="#e8923e" stroke-width="2.7"/>
<circle cx="832.6" cy="428.5" r="12.3" fill="none" stroke="#e8923e" stroke-width="2.7"/>
<circle cx="832.6" cy="430.6" r="12.3" fill="none" stroke="#e8923e" stroke-width="2.7"/>
<circle cx="832.6" cy="431.5" r="12.3" fill="none" stroke="#e8923e" stroke-width="2.7"/>
<circle cx="832.6" cy="431.5" r="12.3" fill="none" stroke="#e8923e" stroke-width="2.7"/>
<circle cx="832.6" cy="435.4" r="12.3" fill="none" stroke="#e8923e" stroke-width="2.7"/>
<circle cx="832.6" cy="436.3" r="12.3" fill="none" stroke="#e8923e" stroke-width="2.7"/>
<circle cx="832.6" cy="438.5" r="12.3" fill="none" stroke="#e8923e" stroke-width="2.7"/>
<circle cx="832.6" cy="439.1" r="12.3" fill="none" stroke="#e8923e" stroke-width="2.7"/>
<circle cx="832.6" cy="441.8" r="12.3" fill="none" stroke="#e8923e" stroke-width="2.7"/>
<circle cx="832.6" cy="442.7" r="12.3" fill="none" stroke="#e8923e" stroke-width="2.7"/>
<circle cx="832.6" cy="443.6" r="12.3" fill="none" stroke="#e8923e" stroke-width="2.7"/>
<circle cx="832.6" cy="446.0" r="12.3" fill="none" stroke="#e8923e" stroke-width="2.7"/>
<circle cx="832.6" cy="446.3" r="12.3" fill="none" stroke="#e8923e" stroke-width="2.7"/>
<circle cx="832.6" cy="446.6" r="12.3" fill="none" stroke="#e8923e" stroke-width="2.7"/>
<circle cx="832.6" cy="447.2" r="12.3" fill="none" stroke="#e8923e" stroke-width="2.7"/>
<circle cx="832.6" cy="449.0" r="12.3" fill="none" stroke="#e8923e" stroke-width="2.7"/>
<circle cx="832.6" cy="449.0" r="12.3" fill="none" stroke="#e8923e" stroke-width="2.7"/>
<circle cx="832.6" cy="451.1" r="12.3" fill="none" stroke="#e8923e" stroke-width="2.7"/>
<circle cx="832.6" cy="452.0" r="12.3" fill="none" stroke="#e8923e" stroke-width="2.7"/>
<circle cx="832.6" cy="452.0" r="12.3" fill="none" stroke="#e8923e" stroke-width="2.7"/>
<circle cx="832.6" cy="452.3" r="12.3" fill="none" stroke="#e8923e" stroke-width="2.7"/>
<circle cx="832.6" cy="453.8" r="12.3" fill="none" stroke="#e8923e" stroke-width="2.7"/>
<circle cx="832.6" cy="454.1" r="12.3" fill="none" stroke="#e8923e" stroke-width="2.7"/>
<circle cx="832.6" cy="454.7" r="12.3" fill="none" stroke="#e8923e" stroke-width="2.7"/>
<circle cx="832.6" cy="455.7" r="12.3" fill="none" stroke="#e8923e" stroke-width="2.7"/>
<circle cx="832.6" cy="455.7" r="12.3" fill="none" stroke="#e8923e" stroke-width="2.7"/>
<circle cx="832.6" cy="455.7" r="12.3" fill="none" stroke="#e8923e" stroke-width="2.7"/>
<circle cx="832.6" cy="457.2" r="12.3" fill="none" stroke="#e8923e" stroke-width="2.7"/>
<circle cx="832.6" cy="457.8" r="12.3" fill="none" stroke="#e8923e" stroke-width="2.7"/>
<circle cx="832.6" cy="457.8" r="12.3" fill="none" stroke="#e8923e" stroke-width="2.7"/>
<circle cx="832.6" cy="458.4" r="12.3" fill="none" stroke="#e8923e" stroke-width="2.7"/>
<circle cx="832.6" cy="458.7" r="12.3" fill="none" stroke="#e8923e" stroke-width="2.7"/>
<circle cx="832.6" cy="459.0" r="12.3" fill="none" stroke="#e8923e" stroke-width="2.7"/>
<circle cx="832.6" cy="459.3" r="12.3" fill="none" stroke="#e8923e" stroke-width="2.7"/>
<circle cx="832.6" cy="459.3" r="12.3" fill="none" stroke="#e8923e" stroke-width="2.7"/>
<circle cx="832.6" cy="459.6" r="12.3" fill="none" stroke="#e8923e" stroke-width="2.7"/>
<circle cx="832.6" cy="460.8" r="12.3" fill="none" stroke="#e8923e" stroke-width="2.7"/>
<circle cx="832.6" cy="461.1" r="12.3" fill="none" stroke="#e8923e" stroke-width="2.7"/>
<circle cx="832.6" cy="462.0" r="12.3" fill="none" stroke="#e8923e" stroke-width="2.7"/>
<circle cx="832.6" cy="462.0" r="12.3" fill="none" stroke="#e8923e" stroke-width="2.7"/>
<circle cx="832.6" cy="462.3" r="12.3" fill="none" stroke="#e8923e" stroke-width="2.7"/>
<circle cx="832.6" cy="462.3" r="12.3" fill="none" stroke="#e8923e" stroke-width="2.7"/>
<circle cx="832.6" cy="462.3" r="12.3" fill="none" stroke="#e8923e" stroke-width="2.7"/>
<circle cx="832.6" cy="462.3" r="12.3" fill="none" stroke="#e8923e" stroke-width="2.7"/>
<circle cx="832.6" cy="462.6" r="12.3" fill="none" stroke="#e8923e" stroke-width="2.7"/>
<circle cx="832.6" cy="462.6" r="12.3" fill="none" stroke="#e8923e" stroke-width="2.7"/>
<circle cx="832.6" cy="463.5" r="12.3" fill="none" stroke="#e8923e" stroke-width="2.7"/>
<circle cx="832.6" cy="463.8" r="12.3" fill="none" stroke="#e8923e" stroke-width="2.7"/>
<circle cx="832.6" cy="463.8" r="12.3" fill="none" stroke="#e8923e" stroke-width="2.7"/>
<circle cx="832.6" cy="463.8" r="12.3" fill="none" stroke="#e8923e" stroke-width="2.7"/>
<circle cx="832.6" cy="464.1" r="12.3" fill="none" stroke="#e8923e" stroke-width="2.7"/>
<circle cx="832.6" cy="464.1" r="12.3" fill="none" stroke="#e8923e" stroke-width="2.7"/>
<circle cx="832.6" cy="464.1" r="12.3" fill="none" stroke="#e8923e" stroke-width="2.7"/>
<circle cx="832.6" cy="464.1" r="12.3" fill="none" stroke="#e8923e" stroke-width="2.7"/>
<circle cx="832.6" cy="464.4" r="12.3" fill="none" stroke="#e8923e" stroke-width="2.7"/>
<circle cx="832.6" cy="464.7" r="12.3" fill="none" stroke="#e8923e" stroke-width="2.7"/>
<circle cx="832.6" cy="464.7" r="12.3" fill="none" stroke="#e8923e" stroke-width="2.7"/>
<circle cx="832.6" cy="464.7" r="12.3" fill="none" stroke="#e8923e" stroke-width="2.7"/>
<circle cx="832.6" cy="464.7" r="12.3" fill="none" stroke="#e8923e" stroke-width="2.7"/>
<circle cx="832.6" cy="464.7" r="12.3" fill="none" stroke="#e8923e" stroke-width="2.7"/>
<circle cx="832.6" cy="464.7" r="12.3" fill="none" stroke="#e8923e" stroke-width="2.7"/>
<circle cx="832.6" cy="464.7" r="12.3" fill="none" stroke="#e8923e" stroke-width="2.7"/>
<circle cx="832.6" cy="464.7" r="12.3" fill="none" stroke="#e8923e" stroke-width="2.7"/>
<circle cx="832.6" cy="464.7" r="12.3" fill="none" stroke="#e8923e" stroke-width="2.7"/>
<circle cx="832.6" cy="464.7" r="12.3" fill="none" stroke="#e8923e" stroke-width="2.7"/>
<circle cx="832.6" cy="464.7" r="12.3" fill="none" stroke="#e8923e" stroke-width="2.7"/>
<circle cx="832.6" cy="464.7" r="12.3" fill="none" stroke="#e8923e" stroke-width="2.7"/>
<circle cx="832.6" cy="464.7" r="12.3" fill="none" stroke="#e8923e" stroke-width="2.7"/>
<circle cx="832.6" cy="464.7" r="12.3" fill="none" stroke="#e8923e" stroke-width="2.7"/>
<circle cx="832.6" cy="464.7" r="12.3" fill="none" stroke="#e8923e" stroke-width="2.7"/>
<text x="182" y="272.5" text-anchor="start" font-family="'Liberation Sans', sans-serif" font-size="15" fill="#555">ML Hayden</text>
<text x="433.5" y="249" text-anchor="end" font-family="'Liberation Sans', sans-serif" font-size="15" fill="#555">CH Gayle</text>
<text x="528" y="223.5" text-anchor="start" font-family="'Liberation Sans', sans-serif" font-size="15" fill="#555">MEK Hussey</text>
<text x="620.7" y="272" text-anchor="start" font-family="'Liberation Sans', sans-serif" font-size="15" fill="#555">RV Uthappa</text>
<text x="773.6" y="178" text-anchor="start" font-family="'Liberation Sans', sans-serif" font-size="15" fill="#555">V Kohli</text>
<text x="773.6" y="215" text-anchor="start" font-family="'Liberation Sans', sans-serif" font-size="15" fill="#555">DA Warner</text>
<text x="755" y="289.5" text-anchor="middle" font-family="'Liberation Sans', sans-serif" font-size="15" fill="#555">AB de Villiers</text>
<text x="831" y="252" text-anchor="middle" font-family="'Liberation Sans', sans-serif" font-size="15" fill="#555">DA Warner</text>
</svg>
<div class="abs dk" style="left:15px;top:536px;width:864px;height:107px"></div>
<div class="ttl" style="left:20px;top:543.5px;font-size:24px;line-height:28.7px">Purple Cap contenders (The bowlers who have taken the maximum number of<br>wickets in a particular season)</div>
<div class="abs wh" style="left:15px;top:647px;width:864px;height:351px"></div>
<svg class="abs" style="left:0;top:0" width="1919" height="1039" viewBox="0 0 1919 1039">
<line x1="75.5" y1="858.5" x2="879" y2="858.5" stroke="#f1f1f1" stroke-width="1"/>
<line x1="70" y1="858.5" x2="75.5" y2="858.5" stroke="#eaeaea" stroke-width="1"/>
<line x1="75.5" y1="783.5" x2="879" y2="783.5" stroke="#f1f1f1" stroke-width="1"/>
<line x1="70" y1="783.5" x2="75.5" y2="783.5" stroke="#eaeaea" stroke-width="1"/>
<line x1="75.5" y1="708.5" x2="879" y2="708.5" stroke="#f1f1f1" stroke-width="1"/>
<line x1="70" y1="708.5" x2="75.5" y2="708.5" stroke="#eaeaea" stroke-width="1"/>
<line x1="70" y1="933.5" x2="75.5" y2="933.5" stroke="#eaeaea" stroke-width="1"/>
<line x1="75.5" y1="647" x2="75.5" y2="963.5" stroke="#eaeaea" stroke-width="1"/>
<line x1="75.5" y1="963.5" x2="879" y2="963.5" stroke="#eaeaea" stroke-width="1"/>
<line x1="76.5" y1="933.5" x2="879" y2="933.5" stroke="#c4c4c4" stroke-width="1" stroke-dasharray="1 1.5"/>
<line x1="82.0" y1="964" x2="82.0" y2="966.5" stroke="#eaeaea" stroke-width="1"/>
<line x1="101.7" y1="964" x2="101.7" y2="966.5" stroke="#eaeaea" stroke-width="1"/>
<line x1="121.5" y1="964" x2="121.5" y2="970" stroke="#eaeaea" stroke-width="1"/>
<line x1="141.3" y1="964" x2="141.3" y2="966.5" stroke="#eaeaea" stroke-width="1"/>
<line x1="161.2" y1="964" x2="161.2" y2="966.5" stroke="#eaeaea" stroke-width="1"/>
<line x1="181.0" y1="964" x2="181.0" y2="966.5" stroke="#eaeaea" stroke-width="1"/>
<line x1="200.8" y1="964" x2="200.8" y2="970" stroke="#eaeaea" stroke-width="1"/>
<line x1="220.6" y1="964" x2="220.6" y2="966.5" stroke="#eaeaea" stroke-width="1"/>
<line x1="240.4" y1="964" x2="240.4" y2="966.5" stroke="#eaeaea" stroke-width="1"/>
<line x1="260.1" y1="964" x2="260.1" y2="966.5" stroke="#eaeaea" stroke-width="1"/>
<line x1="279.9" y1="964" x2="279.9" y2="970" stroke="#eaeaea" stroke-width="1"/>
<line x1="299.7" y1="964" x2="299.7" y2="966.5" stroke="#eaeaea" stroke-width="1"/>
<line x1="319.5" y1="964" x2="319.5" y2="966.5" stroke="#eaeaea" stroke-width="1"/>
<line x1="339.2" y1="964" x2="339.2" y2="966.5" stroke="#eaeaea" stroke-width="1"/>
<line x1="359.0" y1="964" x2="359.0" y2="970" stroke="#eaeaea" stroke-width="1"/>
<line x1="378.8" y1="964" x2="378.8" y2="966.5" stroke="#eaeaea" stroke-width="1"/>
<line x1="398.6" y1="964" x2="398.6" y2="966.5" stroke="#eaeaea" stroke-width="1"/>
<line x1="418.3" y1="964" x2="418.3" y2="966.5" stroke="#eaeaea" stroke-width="1"/>
<line x1="438.1" y1="964" x2="438.1" y2="970" stroke="#eaeaea" stroke-width="1"/>
<line x1="457.9" y1="964" x2="457.9" y2="966.5" stroke="#eaeaea" stroke-width="1"/>
<line x1="477.8" y1="964" x2="477.8" y2="966.5" stroke="#eaeaea" stroke-width="1"/>
<line x1="497.6" y1="964" x2="497.6" y2="966.5" stroke="#eaeaea" stroke-width="1"/>
<line x1="517.4" y1="964" x2="517.4" y2="970" stroke="#eaeaea" stroke-width="1"/>
<line x1="537.2" y1="964" x2="537.2" y2="966.5" stroke="#eaeaea" stroke-width="1"/>
<line x1="557.0" y1="964" x2="557.0" y2="966.5" stroke="#eaeaea" stroke-width="1"/>
<line x1="576.7" y1="964" x2="576.7" y2="966.5" stroke="#eaeaea" stroke-width="1"/>
<line x1="596.5" y1="964" x2="596.5" y2="970" stroke="#eaeaea" stroke-width="1"/>
<line x1="616.3" y1="964" x2="616.3" y2="966.5" stroke="#eaeaea" stroke-width="1"/>
<line x1="636.1" y1="964" x2="636.1" y2="966.5" stroke="#eaeaea" stroke-width="1"/>
<line x1="655.8" y1="964" x2="655.8" y2="966.5" stroke="#eaeaea" stroke-width="1"/>
<line x1="675.6" y1="964" x2="675.6" y2="970" stroke="#eaeaea" stroke-width="1"/>
<line x1="695.4" y1="964" x2="695.4" y2="966.5" stroke="#eaeaea" stroke-width="1"/>
<line x1="715.1" y1="964" x2="715.1" y2="966.5" stroke="#eaeaea" stroke-width="1"/>
<line x1="734.9" y1="964" x2="734.9" y2="966.5" stroke="#eaeaea" stroke-width="1"/>
<line x1="754.7" y1="964" x2="754.7" y2="970" stroke="#eaeaea" stroke-width="1"/>
<line x1="774.5" y1="964" x2="774.5" y2="966.5" stroke="#eaeaea" stroke-width="1"/>
<line x1="794.4" y1="964" x2="794.4" y2="966.5" stroke="#eaeaea" stroke-width="1"/>
<line x1="814.2" y1="964" x2="814.2" y2="966.5" stroke="#eaeaea" stroke-width="1"/>
<line x1="834.0" y1="964" x2="834.0" y2="970" stroke="#eaeaea" stroke-width="1"/>
<line x1="853.8" y1="964" x2="853.8" y2="966.5" stroke="#eaeaea" stroke-width="1"/>
<line x1="873.6" y1="964" x2="873.6" y2="966.5" stroke="#eaeaea" stroke-width="1"/>
<text x="67.8" y="938.4" text-anchor="end" font-family="'Liberation Sans', sans-serif" font-size="15.6" letter-spacing="0.45" fill="#666">0</text>
<text x="67.8" y="863.3" text-anchor="end" font-family="'Liberation Sans', sans-serif" font-size="15.6" letter-spacing="0.45" fill="#666">10</text>
<text x="67.8" y="788.2" text-anchor="end" font-family="'Liberation Sans', sans-serif" font-size="15.6" letter-spacing="0.45" fill="#666">20</text>
<text x="67.8" y="713.1" text-anchor="end" font-family="'Liberation Sans', sans-serif" font-size="15.6" letter-spacing="0.45" fill="#666">30</text>
<text x="121.5" y="987.6" text-anchor="middle" font-family="'Liberation Sans', sans-serif" font-size="15.6" letter-spacing="0.55" fill="#666">2008</text>
<text x="200.8" y="987.6" text-anchor="middle" font-family="'Liberation Sans', sans-serif" font-size="15.6" letter-spacing="0.55" fill="#666">2009</text>
<text x="279.9" y="987.6" text-anchor="middle" font-family="'Liberation Sans', sans-serif" font-size="15.6" letter-spacing="0.55" fill="#666">2010</text>
<text x="359.0" y="987.6" text-anchor="middle" font-family="'Liberation Sans', sans-serif" font-size="15.6" letter-spacing="0.55" fill="#666">2011</text>
<text x="438.1" y="987.6" text-anchor="middle" font-family="'Liberation Sans', sans-serif" font-size="15.6" letter-spacing="0.55" fill="#666">2012</text>
<text x="517.4" y="987.6" text-anchor="middle" font-family="'Liberation Sans', sans-serif" font-size="15.6" letter-spacing="0.55" fill="#666">2013</text>
<text x="596.5" y="987.6" text-anchor="middle" font-family="'Liberation Sans', sans-serif" font-size="15.6" letter-spacing="0.55" fill="#666">2014</text>
<text x="675.6" y="987.6" text-anchor="middle" font-family="'Liberation Sans', sans-serif" font-size="15.6" letter-spacing="0.55" fill="#666">2015</text>
<text x="754.7" y="987.6" text-anchor="middle" font-family="'Liberation Sans', sans-serif" font-size="15.6" letter-spacing="0.55" fill="#666">2016</text>
<text x="834.0" y="987.6" text-anchor="middle" font-family="'Liberation Sans', sans-serif" font-size="15.6" letter-spacing="0.55" fill="#666">2017</text>
<text transform="translate(40.4 805.5) rotate(-90)" text-anchor="middle" font-family="'Liberation Sans', sans-serif" font-size="15.6" fill="#333">Count of Player Dismissed</text>
<circle cx="121.5" cy="932.8" r="11.0" fill="#a87c9f"/>
<circle cx="121.5" cy="925.3" r="11.0" fill="#a87c9f"/>
<circle cx="121.5" cy="917.8" r="11.0" fill="#a87c9f"/>
<circle cx="121.5" cy="910.3" r="11.0" fill="#a87c9f"/>
<circle cx="121.5" cy="902.8" r="11.0" fill="#a87c9f"/>
<circle cx="121.5" cy="895.2" r="11.0" fill="#a87c9f"/>
<circle cx="121.5" cy="887.7" r="11.0" fill="#a87c9f"/>
<circle cx="121.5" cy="880.2" r="11.0" fill="#a87c9f"/>
<circle cx="121.5" cy="872.7" r="11.0" fill="#a87c9f"/>
<circle cx="121.5" cy="865.2" r="11.0" fill="#a87c9f"/>
<circle cx="121.5" cy="857.7" r="11.0" fill="#a87c9f"/>
<circle cx="121.5" cy="850.2" r="11.0" fill="#a87c9f"/>
<circle cx="121.5" cy="842.7" r="11.0" fill="#a87c9f"/>
<circle cx="121.5" cy="835.2" r="11.0" fill="#a87c9f"/>
<circle cx="121.5" cy="827.7" r="11.0" fill="#a87c9f"/>
<circle cx="121.5" cy="820.1" r="11.0" fill="#a87c9f"/>
<circle cx="121.5" cy="812.6" r="11.0" fill="#a87c9f"/>
<circle cx="121.5" cy="805.1" r="11.0" fill="#a87c9f"/>
<circle cx="121.5" cy="797.6" r="11.0" fill="#a87c9f"/>
<circle cx="121.5" cy="790.1" r="11.0" fill="#a87c9f"/>
<circle cx="121.5" cy="782.6" r="11.0" fill="#a87c9f"/>
<circle cx="121.5" cy="752.6" r="11.0" fill="#a87c9f"/>
<circle cx="200.8" cy="932.8" r="11.0" fill="#a87c9f"/>
<circle cx="200.8" cy="925.3" r="11.0" fill="#a87c9f"/>
<circle cx="200.8" cy="917.8" r="11.0" fill="#a87c9f"/>
<circle cx="200.8" cy="910.3" r="11.0" fill="#a87c9f"/>
<circle cx="200.8" cy="902.8" r="11.0" fill="#a87c9f"/>
<circle cx="200.8" cy="895.2" r="11.0" fill="#a87c9f"/>
<circle cx="200.8" cy="887.7" r="11.0" fill="#a87c9f"/>
<circle cx="200.8" cy="880.2" r="11.0" fill="#a87c9f"/>
<circle cx="200.8" cy="872.7" r="11.0" fill="#a87c9f"/>
<circle cx="200.8" cy="865.2" r="11.0" fill="#a87c9f"/>
<circle cx="200.8" cy="857.7" r="11.0" fill="#a87c9f"/>
<circle cx="200.8" cy="850.2" r="11.0" fill="#a87c9f"/>
<circle cx="200.8" cy="842.7" r="11.0" fill="#a87c9f"/>
<circle cx="200.8" cy="835.2" r="11.0" fill="#a87c9f"/>
<circle cx="200.8" cy="827.7" r="11.0" fill="#a87c9f"/>
<circle cx="200.8" cy="820.1" r="11.0" fill="#a87c9f"/>
<circle cx="200.8" cy="812.6" r="11.0" fill="#a87c9f"/>
<circle cx="200.8" cy="797.6" r="11.0" fill="#a87c9f"/>
<circle cx="200.8" cy="782.6" r="11.0" fill="#a87c9f"/>
<circle cx="200.8" cy="775.1" r="11.0" fill="#a87c9f"/>
<circle cx="200.8" cy="767.6" r="11.0" fill="#a87c9f"/>
<circle cx="200.8" cy="737.5" r="11.0" fill="#a87c9f"/>
<circle cx="279.9" cy="932.8" r="11.0" fill="#a87c9f"/>
<circle cx="279.9" cy="925.3" r="11.0" fill="#a87c9f"/>
<circle cx="279.9" cy="917.8" r="11.0" fill="#a87c9f"/>
<circle cx="279.9" cy="910.3" r="11.0" fill="#a87c9f"/>
<circle cx="279.9" cy="902.8" r="11.0" fill="#a87c9f"/>
<circle cx="279.9" cy="895.2" r="11.0" fill="#a87c9f"/>
<circle cx="279.9" cy="887.7" r="11.0" fill="#a87c9f"/>
<circle cx="279.9" cy="880.2" r="11.0" fill="#a87c9f"/>
<circle cx="279.9" cy="872.7" r="11.0" fill="#a87c9f"/>
<circle cx="279.9" cy="865.2" r="11.0" fill="#a87c9f"/>
<circle cx="279.9" cy="857.7" r="11.0" fill="#a87c9f"/>
<circle cx="279.9" cy="850.2" r="11.0" fill="#a87c9f"/>
<circle cx="279.9" cy="842.7" r="11.0" fill="#a87c9f"/>
<circle cx="279.9" cy="835.2" r="11.0" fill="#a87c9f"/>
<circle cx="279.9" cy="827.7" r="11.0" fill="#a87c9f"/>
<circle cx="279.9" cy="820.1" r="11.0" fill="#a87c9f"/>
<circle cx="279.9" cy="812.6" r="11.0" fill="#a87c9f"/>
<circle cx="279.9" cy="805.1" r="11.0" fill="#a87c9f"/>
<circle cx="279.9" cy="797.6" r="11.0" fill="#a87c9f"/>
<circle cx="279.9" cy="790.1" r="11.0" fill="#a87c9f"/>
<circle cx="279.9" cy="782.6" r="11.0" fill="#a87c9f"/>
<circle cx="279.9" cy="767.6" r="11.0" fill="#a87c9f"/>
<circle cx="359.0" cy="932.8" r="11.0" fill="#a87c9f"/>
<circle cx="359.0" cy="925.3" r="11.0" fill="#a87c9f"/>
<circle cx="359.0" cy="917.8" r="11.0" fill="#a87c9f"/>
<circle cx="359.0" cy="910.3" r="11.0" fill="#a87c9f"/>
<circle cx="359.0" cy="902.8" r="11.0" fill="#a87c9f"/>
<circle cx="359.0" cy="895.2" r="11.0" fill="#a87c9f"/>
<circle cx="359.0" cy="887.7" r="11.0" fill="#a87c9f"/>
<circle cx="359.0" cy="880.2" r="11.0" fill="#a87c9f"/>
<circle cx="359.0" cy="872.7" r="11.0" fill="#a87c9f"/>
<circle cx="359.0" cy="865.2" r="11.0" fill="#a87c9f"/>
<circle cx="359.0" cy="857.7" r="11.0" fill="#a87c9f"/>
<circle cx="359.0" cy="850.2" r="11.0" fill="#a87c9f"/>
<circle cx="359.0" cy="842.7" r="11.0" fill="#a87c9f"/>
<circle cx="359.0" cy="835.2" r="11.0" fill="#a87c9f"/>
<circle cx="359.0" cy="827.7" r="11.0" fill="#a87c9f"/>
<circle cx="359.0" cy="820.1" r="11.0" fill="#a87c9f"/>
<circle cx="359.0" cy="812.6" r="11.0" fill="#a87c9f"/>
<circle cx="359.0" cy="805.1" r="11.0" fill="#a87c9f"/>
<circle cx="359.0" cy="797.6" r="11.0" fill="#a87c9f"/>
<circle cx="359.0" cy="790.1" r="11.0" fill="#a87c9f"/>
<circle cx="359.0" cy="782.6" r="11.0" fill="#a87c9f"/>
<circle cx="359.0" cy="775.1" r="11.0" fill="#a87c9f"/>
<circle cx="359.0" cy="767.6" r="11.0" fill="#a87c9f"/>
<circle cx="359.0" cy="707.5" r="11.0" fill="#a87c9f"/>
<circle cx="438.1" cy="932.8" r="11.0" fill="#a87c9f"/>
<circle cx="438.1" cy="925.3" r="11.0" fill="#a87c9f"/>
<circle cx="438.1" cy="917.8" r="11.0" fill="#a87c9f"/>
<circle cx="438.1" cy="910.3" r="11.0" fill="#a87c9f"/>
<circle cx="438.1" cy="902.8" r="11.0" fill="#a87c9f"/>
<circle cx="438.1" cy="895.2" r="11.0" fill="#a87c9f"/>
<circle cx="438.1" cy="887.7" r="11.0" fill="#a87c9f"/>
<circle cx="438.1" cy="880.2" r="11.0" fill="#a87c9f"/>
<circle cx="438.1" cy="872.7" r="11.0" fill="#a87c9f"/>
<circle cx="438.1" cy="865.2" r="11.0" fill="#a87c9f"/>
<circle cx="438.1" cy="857.7" r="11.0" fill="#a87c9f"/>
<circle cx="438.1" cy="850.2" r="11.0" fill="#a87c9f"/>
<circle cx="438.1" cy="842.7" r="11.0" fill="#a87c9f"/>
<circle cx="438.1" cy="835.2" r="11.0" fill="#a87c9f"/>
<circle cx="438.1" cy="827.7" r="11.0" fill="#a87c9f"/>
<circle cx="438.1" cy="820.1" r="11.0" fill="#a87c9f"/>
<circle cx="438.1" cy="812.6" r="11.0" fill="#a87c9f"/>
<circle cx="438.1" cy="805.1" r="11.0" fill="#a87c9f"/>
<circle cx="438.1" cy="797.6" r="11.0" fill="#a87c9f"/>
<circle cx="438.1" cy="790.1" r="11.0" fill="#a87c9f"/>
<circle cx="438.1" cy="782.6" r="11.0" fill="#a87c9f"/>
<circle cx="438.1" cy="775.1" r="11.0" fill="#a87c9f"/>
<circle cx="438.1" cy="767.6" r="11.0" fill="#a87c9f"/>
<circle cx="438.1" cy="745.0" r="11.0" fill="#a87c9f"/>
<circle cx="438.1" cy="715.0" r="11.0" fill="#a87c9f"/>
<circle cx="438.1" cy="707.5" r="11.0" fill="#a87c9f"/>
<circle cx="517.4" cy="932.8" r="11.0" fill="#a87c9f"/>
<circle cx="517.4" cy="925.3" r="11.0" fill="#a87c9f"/>
<circle cx="517.4" cy="917.8" r="11.0" fill="#a87c9f"/>
<circle cx="517.4" cy="910.3" r="11.0" fill="#a87c9f"/>
<circle cx="517.4" cy="902.8" r="11.0" fill="#a87c9f"/>
<circle cx="517.4" cy="895.2" r="11.0" fill="#a87c9f"/>
<circle cx="517.4" cy="887.7" r="11.0" fill="#a87c9f"/>
<circle cx="517.4" cy="880.2" r="11.0" fill="#a87c9f"/>
<circle cx="517.4" cy="872.7" r="11.0" fill="#a87c9f"/>
<circle cx="517.4" cy="865.2" r="11.0" fill="#a87c9f"/>
<circle cx="517.4" cy="857.7" r="11.0" fill="#a87c9f"/>
<circle cx="517.4" cy="850.2" r="11.0" fill="#a87c9f"/>
<circle cx="517.4" cy="842.7" r="11.0" fill="#a87c9f"/>
<circle cx="517.4" cy="835.2" r="11.0" fill="#a87c9f"/>
<circle cx="517.4" cy="827.7" r="11.0" fill="#a87c9f"/>
<circle cx="517.4" cy="820.1" r="11.0" fill="#a87c9f"/>
<circle cx="517.4" cy="812.6" r="11.0" fill="#a87c9f"/>
<circle cx="517.4" cy="805.1" r="11.0" fill="#a87c9f"/>
<circle cx="517.4" cy="797.6" r="11.0" fill="#a87c9f"/>
<circle cx="517.4" cy="790.1" r="11.0" fill="#a87c9f"/>
<circle cx="517.4" cy="782.6" r="11.0" fill="#a87c9f"/>
<circle cx="517.4" cy="775.1" r="11.0" fill="#a87c9f"/>
<circle cx="517.4" cy="767.6" r="11.0" fill="#a87c9f"/>
<circle cx="517.4" cy="760.1" r="11.0" fill="#a87c9f"/>
<circle cx="517.4" cy="752.6" r="11.0" fill="#a87c9f"/>
<circle cx="517.4" cy="745.0" r="11.0" fill="#a87c9f"/>
<circle cx="517.4" cy="737.5" r="11.0" fill="#a87c9f"/>
<circle cx="517.4" cy="730.0" r="11.0" fill="#a87c9f"/>
<circle cx="517.4" cy="685.0" r="11.0" fill="#a87c9f"/>
<circle cx="517.4" cy="677.5" r="11.0" fill="#a87c9f"/>
<circle cx="596.5" cy="932.8" r="11.0" fill="#a87c9f"/>
<circle cx="596.5" cy="925.3" r="11.0" fill="#a87c9f"/>
<circle cx="596.5" cy="917.8" r="11.0" fill="#a87c9f"/>
<circle cx="596.5" cy="910.3" r="11.0" fill="#a87c9f"/>
<circle cx="596.5" cy="902.8" r="11.0" fill="#a87c9f"/>
<circle cx="596.5" cy="895.2" r="11.0" fill="#a87c9f"/>
<circle cx="596.5" cy="887.7" r="11.0" fill="#a87c9f"/>
<circle cx="596.5" cy="880.2" r="11.0" fill="#a87c9f"/>
<circle cx="596.5" cy="872.7" r="11.0" fill="#a87c9f"/>
<circle cx="596.5" cy="865.2" r="11.0" fill="#a87c9f"/>
<circle cx="596.5" cy="857.7" r="11.0" fill="#a87c9f"/>
<circle cx="596.5" cy="850.2" r="11.0" fill="#a87c9f"/>
<circle cx="596.5" cy="842.7" r="11.0" fill="#a87c9f"/>
<circle cx="596.5" cy="835.2" r="11.0" fill="#a87c9f"/>
<circle cx="596.5" cy="827.7" r="11.0" fill="#a87c9f"/>
<circle cx="596.5" cy="820.1" r="11.0" fill="#a87c9f"/>
<circle cx="596.5" cy="812.6" r="11.0" fill="#a87c9f"/>
<circle cx="596.5" cy="805.1" r="11.0" fill="#a87c9f"/>
<circle cx="596.5" cy="797.6" r="11.0" fill="#a87c9f"/>
<circle cx="596.5" cy="790.1" r="11.0" fill="#a87c9f"/>
<circle cx="596.5" cy="775.1" r="11.0" fill="#a87c9f"/>
<circle cx="596.5" cy="767.6" r="11.0" fill="#a87c9f"/>
<circle cx="596.5" cy="737.5" r="11.0" fill="#a87c9f"/>
<circle cx="675.6" cy="932.8" r="11.0" fill="#a87c9f"/>
<circle cx="675.6" cy="925.3" r="11.0" fill="#a87c9f"/>
<circle cx="675.6" cy="917.8" r="11.0" fill="#a87c9f"/>
<circle cx="675.6" cy="910.3" r="11.0" fill="#a87c9f"/>
<circle cx="675.6" cy="902.8" r="11.0" fill="#a87c9f"/>
<circle cx="675.6" cy="895.2" r="11.0" fill="#a87c9f"/>
<circle cx="675.6" cy="887.7" r="11.0" fill="#a87c9f"/>
<circle cx="675.6" cy="880.2" r="11.0" fill="#a87c9f"/>
<circle cx="675.6" cy="872.7" r="11.0" fill="#a87c9f"/>
<circle cx="675.6" cy="865.2" r="11.0" fill="#a87c9f"/>
<circle cx="675.6" cy="857.7" r="11.0" fill="#a87c9f"/>
<circle cx="675.6" cy="850.2" r="11.0" fill="#a87c9f"/>
<circle cx="675.6" cy="842.7" r="11.0" fill="#a87c9f"/>
<circle cx="675.6" cy="835.2" r="11.0" fill="#a87c9f"/>
<circle cx="675.6" cy="827.7" r="11.0" fill="#a87c9f"/>
<circle cx="675.6" cy="820.1" r="11.0" fill="#a87c9f"/>
<circle cx="675.6" cy="812.6" r="11.0" fill="#a87c9f"/>
<circle cx="675.6" cy="805.1" r="11.0" fill="#a87c9f"/>
<circle cx="675.6" cy="797.6" r="11.0" fill="#a87c9f"/>
<circle cx="675.6" cy="790.1" r="11.0" fill="#a87c9f"/>
<circle cx="675.6" cy="767.6" r="11.0" fill="#a87c9f"/>
<circle cx="675.6" cy="752.6" r="11.0" fill="#a87c9f"/>
<circle cx="675.6" cy="745.0" r="11.0" fill="#a87c9f"/>
<circle cx="675.6" cy="737.5" r="11.0" fill="#a87c9f"/>
<circle cx="675.6" cy="722.5" r="11.0" fill="#a87c9f"/>
<circle cx="754.7" cy="932.8" r="11.0" fill="#a87c9f"/>
<circle cx="754.7" cy="925.3" r="11.0" fill="#a87c9f"/>
<circle cx="754.7" cy="917.8" r="11.0" fill="#a87c9f"/>
<circle cx="754.7" cy="910.3" r="11.0" fill="#a87c9f"/>
<circle cx="754.7" cy="902.8" r="11.0" fill="#a87c9f"/>
<circle cx="754.7" cy="895.2" r="11.0" fill="#a87c9f"/>
<circle cx="754.7" cy="887.7" r="11.0" fill="#a87c9f"/>
<circle cx="754.7" cy="880.2" r="11.0" fill="#a87c9f"/>
<circle cx="754.7" cy="872.7" r="11.0" fill="#a87c9f"/>
<circle cx="754.7" cy="865.2" r="11.0" fill="#a87c9f"/>
<circle cx="754.7" cy="857.7" r="11.0" fill="#a87c9f"/>
<circle cx="754.7" cy="850.2" r="11.0" fill="#a87c9f"/>
<circle cx="754.7" cy="842.7" r="11.0" fill="#a87c9f"/>
<circle cx="754.7" cy="835.2" r="11.0" fill="#a87c9f"/>
<circle cx="754.7" cy="827.7" r="11.0" fill="#a87c9f"/>
<circle cx="754.7" cy="820.1" r="11.0" fill="#a87c9f"/>
<circle cx="754.7" cy="812.6" r="11.0" fill="#a87c9f"/>
<circle cx="754.7" cy="797.6" r="11.0" fill="#a87c9f"/>
<circle cx="754.7" cy="790.1" r="11.0" fill="#a87c9f"/>
<circle cx="754.7" cy="782.6" r="11.0" fill="#a87c9f"/>
<circle cx="754.7" cy="767.6" r="11.0" fill="#a87c9f"/>
<circle cx="754.7" cy="760.1" r="11.0" fill="#a87c9f"/>
<circle cx="754.7" cy="752.6" r="11.0" fill="#a87c9f"/>
<circle cx="834.0" cy="932.8" r="11.0" fill="#a87c9f"/>
<circle cx="834.0" cy="925.3" r="11.0" fill="#a87c9f"/>
<circle cx="834.0" cy="917.8" r="11.0" fill="#a87c9f"/>
<circle cx="834.0" cy="910.3" r="11.0" fill="#a87c9f"/>
<circle cx="834.0" cy="902.8" r="11.0" fill="#a87c9f"/>
<circle cx="834.0" cy="895.2" r="11.0" fill="#a87c9f"/>
<circle cx="834.0" cy="887.7" r="11.0" fill="#a87c9f"/>
<circle cx="834.0" cy="880.2" r="11.0" fill="#a87c9f"/>
<circle cx="834.0" cy="872.7" r="11.0" fill="#a87c9f"/>
<circle cx="834.0" cy="865.2" r="11.0" fill="#a87c9f"/>
<circle cx="834.0" cy="857.7" r="11.0" fill="#a87c9f"/>
<circle cx="834.0" cy="850.2" r="11.0" fill="#a87c9f"/>
<circle cx="834.0" cy="842.7" r="11.0" fill="#a87c9f"/>
<circle cx="834.0" cy="835.2" r="11.0" fill="#a87c9f"/>
<circle cx="834.0" cy="827.7" r="11.0" fill="#a87c9f"/>
<circle cx="834.0" cy="820.1" r="11.0" fill="#a87c9f"/>
<circle cx="834.0" cy="812.6" r="11.0" fill="#a87c9f"/>
<circle cx="834.0" cy="805.1" r="11.0" fill="#a87c9f"/>
<circle cx="834.0" cy="797.6" r="11.0" fill="#a87c9f"/>
<circle cx="834.0" cy="790.1" r="11.0" fill="#a87c9f"/>
<circle cx="834.0" cy="782.6" r="11.0" fill="#a87c9f"/>
<circle cx="834.0" cy="760.1" r="11.0" fill="#a87c9f"/>
<circle cx="834.0" cy="730.0" r="11.0" fill="#a87c9f"/>
<circle cx="834.0" cy="722.5" r="11.0" fill="#a87c9f"/>
<text x="217" y="742.5" text-anchor="start" font-family="'Liberation Sans', sans-serif" font-size="15" fill="#555">RP Singh</text>
<text x="357" y="737.5" text-anchor="middle" font-family="'Liberation Sans', sans-serif" font-size="15" fill="#555">SL Malinga</text>
<text x="453" y="712.5" text-anchor="start" font-family="'Liberation Sans', sans-serif" font-size="15" fill="#555">M Morkel</text>
<text x="533" y="682.5" text-anchor="start" font-family="'Liberation Sans', sans-serif" font-size="15" fill="#555">DJ Bravo</text>
<text x="594" y="719.5" text-anchor="middle" font-family="'Liberation Sans', sans-serif" font-size="15" fill="#555">MM Sharma</text>
<text x="691" y="727.5" text-anchor="start" font-family="'Liberation Sans', sans-serif" font-size="15" fill="#555">DJ Bravo</text>
<text x="817.5" y="727.5" text-anchor="end" font-family="'Liberation Sans', sans-serif" font-size="15" fill="#555">B Kumar</text>
</svg>
<div class="abs dk" style="left:889px;top:63px;width:864px;height:113px"></div>
<div class="ttl" style="left:894px;top:88px;font-size:26.28px;line-height:30px">Batsmen who have hit the most number of <u>fours</u>&nbsp; (per season and overall)</div>
<div class="abs wh" style="left:889px;top:179px;width:864px;height:345px"></div>
<div class="ttl" style="left:894px;top:560px;font-size:26.28px;line-height:30px">Batsmen who have hit the most number of <u>Sixes</u>&nbsp; (per season and overall)</div>
<div class="abs wh" style="left:889px;top:652px;width:864px;height:345px"></div>
<div class="tm lt" style="left:895px;top:185px;width:205px;height:182px;background:#35587f">G Gambhir<br>491</div>
<div class="tm lt" style="left:895px;top:368px;width:205px;height:150.70000000000005px;background:#4a8bab">DA Warner<br>404</div>
<div class="tm lt" style="left:1101.5px;top:185px;width:184.0px;height:166.5px;background:#4a8bab">S Dhawan<br>404</div>
<div class="tm lt" style="left:1101.5px;top:352.5px;width:184.0px;height:166.20000000000005px;background:#4a8bab">SK Raina<br>401</div>
<div class="tm lt" style="left:1287px;top:185px;width:258px;height:114px;background:#5298b3">V Kohli<br>388</div>
<div class="tm lt" style="left:1287px;top:300px;width:258px;height:114px;background:#5298b3">RV Uthappa<br>385</div>
<div class="tm dt" style="left:1287px;top:415px;width:258px;height:103.70000000000005px;background:#6aaabd">RG Sharma<br>354</div>
<div class="tm dt" style="left:1546.5px;top:185px;width:103.5px;height:237.5px;background:#84bcc7">AM Rahane<br>325</div>
<div class="tm dt" style="left:1651.5px;top:185px;width:97.0px;height:237.5px;background:#94c5cc">CH Gayle<br>306</div>
<div class="tm dt" style="left:1546.5px;top:424px;width:202.0px;height:94.70000000000005px;background:#c4e3d9">MS Dhoni<br>255</div>
<div class="tm dt" style="left:895px;top:658px;width:420.5px;height:179px;background:#abab38">SK Raina<br>21</div>
<div class="tm dt" style="left:895px;top:838px;width:420.5px;height:153.5px;background:#b7b744">RG Sharma<br>18</div>
<div class="tm dt" style="left:1317px;top:658px;width:204px;height:175.5px;background:#d1d285">CH Gayle<br>10</div>
<div class="tm dt" style="left:1317px;top:834.5px;width:204px;height:157.0px;background:#d7d892">MS Dhoni<br>9</div>
<div class="tm dt" style="left:1522.5px;top:658px;width:138.5px;height:205.5px;background:#dbdb9c">V Kohli<br>8</div>
<div class="tm dt" style="left:1662.5px;top:658px;width:86.0px;height:205.5px;background:#e5e5c4">DA<br>Warner<br>5</div>
<div class="tm dt" style="left:1522.5px;top:865.5px;width:169.5px;height:63.0px;background:#ececdf">AM Rahane<br>3</div>
<div class="tm dt" style="left:1522.5px;top:929.5px;width:169.5px;height:62.0px;background:#ececdf">RV Uthappa<br>3</div>
<div class="tm dt" style="left:1693.5px;top:865.5px;width:55.0px;height:126.0px;background:#f0f0f0">G</div>
<div class="flt" style="left:1763px;top:66px;width:150px;height:300px">
<div class="h" style="position:absolute;left:0;top:1px;line-height:17px">Year of Season</div>
<div class="c on" style="left:4.5px;top:25.5px"></div>
<div class="r" style="left:26.5px;top:23.5px;line-height:22px">(All)</div>
<div class="c" style="left:4.5px;top:50.5px"></div>
<div class="r" style="left:26.5px;top:48.5px;line-height:22px">2008</div>
<div class="c" style="left:4.5px;top:75.5px"></div>
<div class="r" style="left:26.5px;top:73.5px;line-height:22px">2009</div>
<div class="c" style="left:4.5px;top:100.5px"></div>
<div class="r" style="left:26.5px;top:98.5px;line-height:22px">2010</div>
<div class="c" style="left:4.5px;top:125.5px"></div>
<div class="r" style="left:26.5px;top:123.5px;line-height:22px">2011</div>
<div class="c" style="left:4.5px;top:150.5px"></div>
<div class="r" style="left:26.5px;top:148.5px;line-height:22px">2012</div>
<div class="c" style="left:4.5px;top:175.5px"></div>
<div class="r" style="left:26.5px;top:173.5px;line-height:22px">2013</div>
<div class="c" style="left:4.5px;top:200.5px"></div>
<div class="r" style="left:26.5px;top:198.5px;line-height:22px">2014</div>
<div class="c" style="left:4.5px;top:225.5px"></div>
<div class="r" style="left:26.5px;top:223.5px;line-height:22px">2015</div>
<div class="c" style="left:4.5px;top:250.5px"></div>
<div class="r" style="left:26.5px;top:248.5px;line-height:22px">2016</div>
<div class="c" style="left:4.5px;top:275.5px"></div>
<div class="r" style="left:26.5px;top:273.5px;line-height:22px">2017</div>
</div>
<div class="flt" style="left:1768px;top:667.3px;width:150px;height:300px">
<div class="h" style="position:absolute;left:0;top:1px;line-height:17px">Year of Season</div>
<div class="c" style="left:4.3px;top:25.5px"></div>
<div class="r" style="left:26.3px;top:23.5px;line-height:22px">(All)</div>
<div class="c" style="left:4.3px;top:50.5px"></div>
<div class="r" style="left:26.3px;top:48.5px;line-height:22px">2008</div>
<div class="c on" style="left:4.3px;top:75.5px"></div>
<div class="r" style="left:26.3px;top:73.5px;line-height:22px">2009</div>
<div class="c" style="left:4.3px;top:100.5px"></div>
<div class="r" style="left:26.3px;top:98.5px;line-height:22px">2010</div>
<div class="c" style="left:4.3px;top:125.5px"></div>
<div class="r" style="left:26.3px;top:123.5px;line-height:22px">2011</div>
<div class="c" style="left:4.3px;top:150.5px"></div>
<div class="r" style="left:26.3px;top:148.5px;line-height:22px">2012</div>
<div class="c" style="left:4.3px;top:175.5px"></div>
<div class="r" style="left:26.3px;top:173.5px;line-height:22px">2013</div>
<div class="c" style="left:4.3px;top:200.5px"></div>
<div class="r" style="left:26.3px;top:198.5px;line-height:22px">2014</div>
<div class="c" style="left:4.3px;top:225.5px"></div>
<div class="r" style="left:26.3px;top:223.5px;line-height:22px">2015</div>
<div class="c" style="left:4.3px;top:250.5px"></div>
<div class="r" style="left:26.3px;top:248.5px;line-height:22px">2016</div>
<div class="c" style="left:4.3px;top:275.5px"></div>
<div class="r" style="left:26.3px;top:273.5px;line-height:22px">2017</div>
</div>
<div class="abs" style="left:0;top:1014px;width:1919px;height:25px;background:#fafafa;border-top:1px solid #fff"></div>
<div class="abs" style="left:69px;top:1021.5px;font-family:'Liberation Sans', sans-serif;font-weight:bold;font-size:15.2px;color:#555;white-space:nowrap">View on Tableau Public</div>
<svg class="abs" style="left:0;top:1014px" width="1919" height="25" viewBox="0 1014 1919 25"><g stroke="#666" stroke-width="1.15" fill="none"><path d="M47.300000000000004 1030.6H55.9M51.6 1026.3V1034.8999999999999"/><path d="M43.3 1025.5H49.7M46.5 1022.3V1028.7"/><path d="M53.4 1025.5H59.800000000000004M56.6 1022.3V1028.7"/><path d="M43.3 1035.6H49.7M46.5 1032.3999999999999V1038.8"/><path d="M53.4 1035.6H59.800000000000004M56.6 1032.3999999999999V1038.8"/><path d="M49.7 1021.9H53.5M51.6 1020.0V1023.8"/><path d="M40.9 1030.6H44.699999999999996M42.8 1028.6999999999998V1032.5"/><path d="M58.5 1030.6H62.3M60.4 1028.6999999999998V1032.5"/><path d="M49.7 1039.3H53.5M51.6 1037.3999999999999V1041.2"/></g><g fill="none" stroke="#bbb" stroke-width="1.3"><path d="M1603.5 1024.4H1611.8A7.7 7.7 0 0 1 1617 1038.6"/><path d="M1668.6 1024.4H1660.4A7.7 7.7 0 0 0 1655.2 1038.6"/><path d="M1705.8 1024.4H1711.8A7.7 7.7 0 0 1 1717 1038.6"/><path d="M1701.7 1021.2V1027.6"/></g><g fill="#bbb"><path d="M1601 1024.4L1605.2 1021V1027.8Z"/><path d="M1671.1 1024.4L1666.9 1021V1027.8Z"/><path d="M1703.6 1024.4L1707.6 1021V1027.8Z"/></g><g fill="none" stroke="#666" stroke-width="1.35"><path d="M1763 1026.4H1751A4.55 4.55 0 0 0 1751 1035.5H1761.5A4.55 4.55 0 0 0 1765.6 1029"/></g><path d="M1766.2 1026.4L1762.6 1023.9V1028.9Z" fill="#666"/><path d="M1783.9 1029.1H1793L1788.45 1035Z" fill="#666"/><path d="M1819.5 1023.2V1039" stroke="#aaa" stroke-width="1"/><g fill="none" stroke="#666" stroke-width="1.3"><path d="M1856 1040V1023.2Q1856 1022 1857.2 1022H1873.3Q1874.5 1022 1874.5 1023.2V1040"/><path d="M1859.9 1029V1025.9H1863.2M1867.6 1025.9H1870.9V1029M1859.9 1033.5V1036.7H1863.2M1867.6 1036.7H1870.9V1033.5"/></g></svg>
</body></html>
